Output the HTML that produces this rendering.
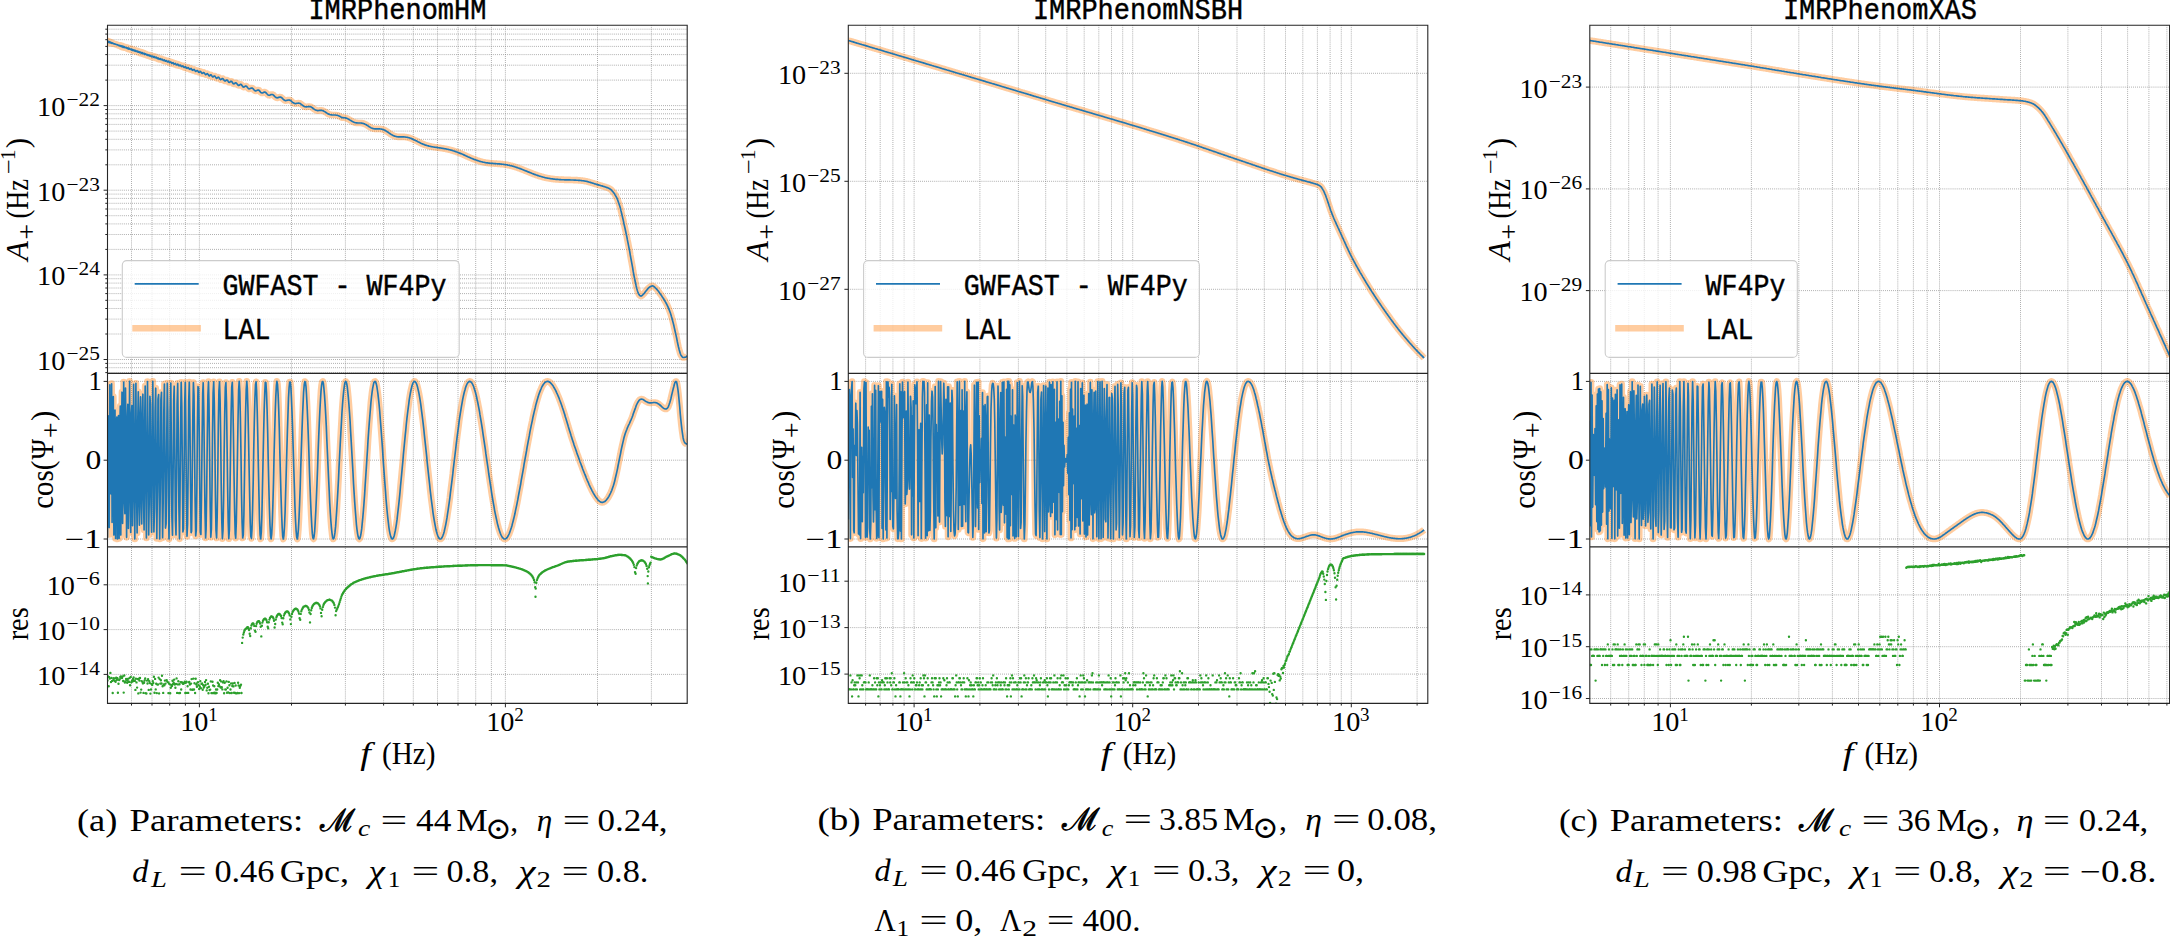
<!DOCTYPE html>
<html><head><meta charset="utf-8"><title>Waveform comparison</title><style>html,body{margin:0;padding:0;background:#fff}svg{display:block}</style></head><body>
<svg width="2170" height="938" viewBox="0 0 2170 938">
<style>text{font-family:'Liberation Serif','DejaVu Serif',serif;fill:#000}.m{font-family:'Liberation Mono','DejaVu Sans Mono',monospace;stroke:#000;stroke-width:.45}.g{stroke:#808080;stroke-width:.8;stroke-dasharray:.78 1.27;fill:none}.lo{stroke:#ff7f0e;stroke-opacity:.4;stroke-width:6.7;fill:none;stroke-linejoin:round;stroke-linecap:butt}.lb{stroke:#1f77b4;stroke-width:1.65;fill:none;stroke-linejoin:round}.d{stroke:#2ca02c;stroke-width:2.4;stroke-linecap:round;fill:none}</style>
<rect width="2170" height="938" fill="#fff"/>
<path d="M131.5,25.3V703.4M152,25.3V703.4M169.7,25.3V703.4M185.4,25.3V703.4M199.4,25.3V703.4M291.5,25.3V703.4M345.4,25.3V703.4M383.6,25.3V703.4M413.3,25.3V703.4M437.5,25.3V703.4M458,25.3V703.4M475.7,25.3V703.4M491.4,25.3V703.4M505.4,25.3V703.4M597.5,25.3V703.4M651.4,25.3V703.4" class="g"/>
<path d="M107.5,372.6H687.2M107.5,367.7H687.2M107.5,363.4H687.2M107.5,359.5H687.2M107.5,334H687.2M107.5,319.1H687.2M107.5,308.5H687.2M107.5,300.3H687.2M107.5,293.6H687.2M107.5,288H687.2M107.5,283.1H687.2M107.5,278.7H687.2M107.5,274.9H687.2M107.5,249.4H687.2M107.5,234.5H687.2M107.5,223.9H687.2M107.5,215.7H687.2M107.5,209H687.2M107.5,203.3H687.2M107.5,198.4H687.2M107.5,194.1H687.2M107.5,190.2H687.2M107.5,164.8H687.2M107.5,149.9H687.2M107.5,139.3H687.2M107.5,131.1H687.2M107.5,124.4H687.2M107.5,118.7H687.2M107.5,113.8H687.2M107.5,109.5H687.2M107.5,105.6H687.2M107.5,80.1H687.2M107.5,65.2H687.2M107.5,54.6H687.2M107.5,46.4H687.2M107.5,39.7H687.2M107.5,34.1H687.2M107.5,29.2H687.2M107.5,381.4H687.2M107.5,460.2H687.2M107.5,539H687.2M107.5,584.8H687.2M107.5,629.6H687.2M107.5,674.4H687.2" class="g"/>
<defs><clipPath id="ca0"><rect x="107.5" y="25.3" width="579.7" height="348.1"/></clipPath><clipPath id="cc0"><rect x="107.5" y="373.4" width="579.7" height="173.5"/></clipPath><clipPath id="cr0"><rect x="107.5" y="546.9" width="579.7" height="156.5"/></clipPath>
<polyline id="a0" points="107.5,41.3 108.1,42.2 108.7,41.4 109.2,42.7 109.8,41.8 110.4,43 111,42.3 111.6,43.3 112.1,42.8 112.7,43.5 113.3,43.3 113.9,43.8 114.5,43.8 115,44.1 115.6,44.3 116.2,44.5 116.8,44.6 117.4,44.9 117.9,45 118.5,45.4 119.1,45.3 119.7,45.9 120.3,45.5 120.8,46.4 121.4,45.8 122,46.9 122.6,46 123.2,47.3 123.7,46.5 124.3,47.6 124.9,47 125.5,47.7 126.1,47.8 126.6,47.7 127.2,48.5 127.8,47.8 128.4,49.1 129,48.2 129.6,49.2 130.1,49 130.7,49.1 131.3,49.9 131.9,49.1 132.5,50.4 133,49.8 133.6,50.2 134.2,50.8 134.8,50.1 135.4,51.3 135.9,50.7 136.5,51.1 137.1,51.8 137.7,51 138.3,52.2 138.8,52 139.4,51.8 140,52.9 140.6,52.1 141.2,52.7 141.7,53.4 142.3,52.6 142.9,53.6 143.5,53.7 144.1,53.2 144.6,54.4 145.2,54 145.8,53.8 146.4,55 147,54.5 147.5,54.5 148.1,55.6 148.7,55 149.3,55.1 149.9,56.2 150.4,55.6 151,55.7 151.6,56.8 152.2,56.2 152.8,56.1 153.3,57.3 153.9,56.9 154.5,56.6 155.1,57.8 155.7,57.7 156.2,57.1 156.8,58.1 157.4,58.6 158,57.8 158.6,58.3 159.1,59.3 159.7,58.7 160.3,58.6 160.9,59.7 161.5,59.7 162,59.1 162.6,59.8 163.2,60.6 163.8,60 164.4,59.9 164.9,61 165.5,61.2 166.1,60.5 166.7,60.9 167.3,61.9 167.8,61.7 168.4,61.1 169,61.9 169.6,62.7 170.2,62.2 170.8,61.9 171.3,62.8 171.9,63.5 172.5,62.9 173.1,62.7 173.7,63.6 174.2,64.2 174.8,63.7 175.4,63.4 176,64.3 176.6,65 177.1,64.6 177.7,64.2 178.3,64.8 178.9,65.7 179.5,65.6 180,65 180.6,65.3 181.2,66.3 181.8,66.6 182.4,66 182.9,65.9 183.5,66.7 184.1,67.5 184.7,67.2 185.3,66.7 185.8,67 186.4,68 187,68.4 187.6,67.9 188.2,67.5 188.7,68.1 189.3,69.1 189.9,69.3 190.5,68.7 191.1,68.4 191.6,69.1 192.2,70.1 192.8,70.3 193.4,69.7 194,69.4 194.5,69.9 195.1,70.8 195.7,71.4 196.3,71.1 196.9,70.5 197.4,70.5 198,71.3 198.6,72.2 199.2,72.4 199.8,71.9 200.3,71.4 200.9,71.8 201.5,72.8 202.1,73.5 202.7,73.3 203.2,72.7 203.8,72.5 204.4,73.1 205,74 205.6,74.6 206.1,74.5 206.7,74 207.3,73.7 207.9,74.1 208.5,75 209,75.8 209.6,75.8 210.2,75.2 210.8,74.8 211.4,75.2 212,76.1 212.5,76.9 213.1,76.9 213.7,76.4 214.3,76 214.9,76.1 215.4,76.9 216,77.8 216.6,78.3 217.2,78 217.8,77.5 218.3,77.2 218.9,77.5 219.5,78.4 220.1,79.2 220.7,79.6 221.2,79.4 221.8,78.9 222.4,78.5 223,78.7 223.6,79.5 224.1,80.4 224.7,80.9 225.3,81 225.9,80.5 226.5,80 227,80 227.6,80.5 228.2,81.4 228.8,82.2 229.4,82.4 229.9,82.1 230.5,81.6 231.1,81.3 231.7,81.6 232.3,82.3 232.8,83.2 233.4,83.8 234,83.9 234.6,83.5 235.2,83 235.7,82.8 236.3,83 236.9,83.7 237.5,84.5 238.1,85.2 238.6,85.5 239.2,85.3 239.8,84.8 240.4,84.4 241,84.4 241.5,84.9 242.1,85.6 242.7,86.5 243.3,87 243.9,87.1 244.4,86.8 245,86.3 245.6,86 246.2,86.1 246.8,86.5 247.3,87.3 247.9,88 248.5,88.6 249.1,88.9 249.7,88.8 250.2,88.6 250.8,88.2 251.4,88 252,88 252.6,88.3 253.2,88.8 253.7,89.5 254.3,90.2 254.9,90.7 255.5,90.9 256.1,90.9 256.6,90.6 257.2,90.2 257.8,90 258.4,90 259,90.3 259.5,90.9 260.1,91.6 260.7,92.3 261.3,92.8 261.9,93 262.4,93 263,92.7 263.6,92.4 264.2,92.1 264.8,92.1 265.3,92.3 265.9,92.7 266.5,93.3 267.1,94 267.7,94.6 268.2,95 268.8,95.2 269.4,95.3 270,95.1 270.6,94.8 271.1,94.6 271.7,94.5 272.3,94.5 272.9,94.7 273.5,95.1 274,95.7 274.6,96.3 275.2,96.9 275.8,97.3 276.4,97.7 276.9,97.8 277.5,97.8 278.1,97.6 278.7,97.4 279.3,97.2 279.8,97.1 280.4,97.1 281,97.3 281.6,97.7 282.2,98.2 282.7,98.7 283.3,99.3 283.9,99.8 284.5,100.2 285.1,100.5 285.6,100.6 286.2,100.5 286.8,100.4 287.4,100.3 288,100.1 288.5,100 289.1,100 289.7,100.1 290.3,100.4 290.9,100.8 291.4,101.2 292,101.8 292.6,102.3 293.2,102.8 293.8,103.1 294.4,103.4 294.9,103.5 295.5,103.6 296.1,103.5 296.7,103.4 297.3,103.3 297.8,103.2 298.4,103.1 299,103.2 299.6,103.3 300.2,103.5 300.7,103.9 301.3,104.3 301.9,104.8 302.5,105.3 303.1,105.7 303.6,106.1 304.2,106.5 304.8,106.7 305.4,106.8 306,106.9 306.5,106.9 307.1,106.8 307.7,106.7 308.3,106.6 308.9,106.6 309.4,106.6 310,106.7 310.6,106.8 311.2,107.1 311.8,107.4 312.3,107.8 312.9,108.2 313.5,108.7 314.1,109.1 314.7,109.5 315.2,109.8 315.8,110.1 316.4,110.3 317,110.5 317.6,110.6 318.1,110.6 318.7,110.5 319.3,110.5 319.9,110.4 320.5,110.4 321,110.4 321.6,110.4 322.2,110.5 322.8,110.7 323.4,110.9 323.9,111.2 324.5,111.5 325.1,111.9 325.7,112.3 326.3,112.6 326.8,113 327.4,113.4 328,113.7 328.6,114.1 329.2,114.3 329.7,114.5 330.3,114.7 330.9,114.8 331.5,114.9 332.1,115 332.6,115 333.2,115 333.8,115 334.4,115 335,115 335.6,115 336.1,115.1 336.7,115.2 337.3,115.3 337.9,115.5 338.5,115.7 339,115.9 339.6,116.2 340.2,116.5 340.8,116.9 341.4,117.2 341.9,117.6 342.5,117.6 343.1,117.6 343.7,117.7 344.3,117.7 344.8,117.8 345.4,117.9 346,118.1 346.6,118.3 347.2,118.5 347.7,118.8 348.3,119 348.9,119.4 349.5,119.7 350.1,120.1 350.6,120.4 351.2,120.8 351.8,121.1 352.4,121.5 353,121.8 353.5,122 354.1,122.3 354.7,122.5 355.3,122.7 355.9,122.8 356.4,122.9 357,122.9 357.6,123 358.2,123 358.8,123 359.3,123 359.9,123 360.5,123 361.1,123 361.7,123.1 362.2,123.2 362.8,123.3 363.4,123.5 364,123.7 364.6,123.9 365.1,124.2 365.7,124.5 366.3,124.8 366.9,125.2 367.5,125.5 368,125.9 368.6,126.3 369.2,126.7 369.8,127 370.4,127.4 370.9,127.7 371.5,128 372.1,128.2 372.7,128.4 373.3,128.6 373.8,128.7 374.4,128.8 375,128.8 375.6,128.9 376.2,128.9 376.8,128.9 377.3,128.9 377.9,128.9 378.5,128.9 379.1,128.9 379.7,128.9 380.2,129 380.8,129 381.4,129.1 382,129.2 382.6,129.4 383.1,129.6 383.7,129.8 384.3,130 384.9,130.3 385.5,130.6 386,131 386.6,131.3 387.2,131.7 387.8,132.1 388.4,132.5 388.9,132.9 389.5,133.3 390.1,133.7 390.7,134.1 391.3,134.5 391.8,134.8 392.4,135.1 393,135.4 393.6,135.7 394.2,135.9 394.7,136.2 395.3,136.3 395.9,136.5 396.5,136.6 397.1,136.7 397.6,136.8 398.2,136.8 398.8,136.9 399.4,136.9 400,136.9 400.5,136.9 401.1,136.9 401.7,136.9 402.3,136.9 402.9,136.9 403.4,136.9 404,136.9 404.6,137 405.2,137 405.8,137.1 406.3,137.2 406.9,137.3 407.5,137.4 408.1,137.5 408.7,137.7 409.2,137.8 409.8,138 410.4,138.2 411,138.4 411.6,138.6 412.1,138.9 412.7,139.1 413.3,139.4 413.9,139.7 414.5,140 415,140.3 415.6,140.6 416.2,140.8 416.8,141.1 417.4,141.4 417.9,141.7 418.5,142 419.1,142.3 419.7,142.6 420.3,142.9 420.9,143.2 421.4,143.4 422,143.7 422.6,143.9 423.2,144.2 423.8,144.4 424.3,144.6 424.9,144.9 425.5,145.1 426.1,145.2 426.7,145.4 427.2,145.6 427.8,145.8 428.4,145.9 429,146.1 429.6,146.2 430.1,146.3 430.7,146.5 431.3,146.6 431.9,146.7 432.5,146.8 433,146.9 433.6,147 434.2,147.1 434.8,147.2 435.4,147.3 435.9,147.4 436.5,147.4 437.1,147.5 437.7,147.6 438.3,147.7 438.8,147.8 439.4,147.9 440,147.9 440.6,148 441.2,148.1 441.7,148.2 442.3,148.3 442.9,148.4 443.5,148.5 444.1,148.6 444.6,148.7 445.2,148.8 445.8,148.9 446.4,149 447,149.2 447.5,149.3 448.1,149.4 448.7,149.5 449.3,149.7 449.9,149.8 450.4,150 451,150.1 451.6,150.3 452.2,150.5 452.8,150.6 453.3,150.8 453.9,151 454.5,151.2 455.1,151.4 455.7,151.6 456.2,151.8 456.8,152 457.4,152.2 458,152.4 458.6,152.7 459.1,152.9 459.7,153.1 460.3,153.4 460.9,153.6 461.5,153.8 462.1,154.1 462.6,154.3 463.2,154.6 463.8,154.9 464.4,155.1 465,155.4 465.5,155.6 466.1,155.9 466.7,156.2 467.3,156.4 467.9,156.7 468.4,156.9 469,157.2 469.6,157.4 470.2,157.7 470.8,158 471.3,158.2 471.9,158.4 472.5,158.7 473.1,158.9 473.7,159.2 474.2,159.4 474.8,159.6 475.4,159.8 476,160 476.6,160.2 477.1,160.4 477.7,160.6 478.3,160.8 478.9,161 479.5,161.2 480,161.4 480.6,161.5 481.2,161.7 481.8,161.8 482.4,162 482.9,162.1 483.5,162.2 484.1,162.3 484.7,162.5 485.3,162.6 485.8,162.7 486.4,162.8 487,162.8 487.6,162.9 488.2,163 488.7,163.1 489.3,163.1 489.9,163.2 490.5,163.3 491.1,163.3 491.6,163.4 492.2,163.4 492.8,163.4 493.4,163.5 494,163.5 494.5,163.6 495.1,163.6 495.7,163.6 496.3,163.7 496.9,163.7 497.4,163.8 498,163.8 498.6,163.9 499.2,163.9 499.8,163.9 500.3,164 500.9,164.1 501.5,164.1 502.1,164.2 502.7,164.2 503.3,164.3 503.8,164.4 504.4,164.5 505,164.6 505.6,164.6 506.2,164.7 506.7,164.8 507.3,164.9 507.9,165.1 508.5,165.2 509.1,165.3 509.6,165.4 510.2,165.6 510.8,165.7 511.4,165.8 512,166 512.5,166.1 513.1,166.3 513.7,166.5 514.3,166.6 514.9,166.8 515.4,167 516,167.2 516.6,167.4 517.2,167.6 517.8,167.8 518.3,168 518.9,168.2 519.5,168.4 520.1,168.6 520.7,168.8 521.2,169.1 521.8,169.3 522.4,169.5 523,169.7 523.6,170 524.1,170.2 524.7,170.4 525.3,170.7 525.9,170.9 526.5,171.1 527,171.4 527.6,171.6 528.2,171.9 528.8,172.1 529.4,172.3 529.9,172.6 530.5,172.8 531.1,173 531.7,173.3 532.3,173.5 532.8,173.7 533.4,173.9 534,174.2 534.6,174.4 535.2,174.6 535.7,174.8 536.3,175 536.9,175.2 537.5,175.4 538.1,175.6 538.6,175.8 539.2,176 539.8,176.2 540.4,176.3 541,176.5 541.5,176.7 542.1,176.8 542.7,177 543.3,177.2 543.9,177.3 544.5,177.5 545,177.6 545.6,177.7 546.2,177.9 546.8,178 547.4,178.1 547.9,178.2 548.5,178.3 549.1,178.4 549.7,178.5 550.3,178.6 550.8,178.7 551.4,178.8 552,178.9 552.6,178.9 553.2,179 553.7,179.1 554.3,179.1 554.9,179.2 555.5,179.3 556.1,179.3 556.6,179.4 557.2,179.4 557.8,179.4 558.4,179.5 559,179.5 559.5,179.6 560.1,179.6 560.7,179.6 561.3,179.7 561.9,179.7 562.4,179.7 563,179.7 563.6,179.7 564.2,179.8 564.8,179.8 565.3,179.8 565.9,179.8 566.5,179.8 567.1,179.9 567.7,179.9 568.2,179.9 568.8,179.9 569.4,179.9 570,179.9 570.6,180 571.1,180 571.7,180 572.3,180 572.9,180 573.5,180 574,180.1 574.6,180.1 575.2,180.1 575.8,180.1 576.4,180.2 576.9,180.2 577.5,180.2 578.1,180.3 578.7,180.3 579.3,180.4 579.8,180.4 580.4,180.5 581,180.5 581.6,180.6 582.2,180.7 582.7,180.7 583.3,180.8 583.9,180.9 584.5,181 585.1,181.1 585.7,181.2 586.2,181.3 586.8,181.4 587.4,181.6 588,181.8 588.6,181.9 589.1,182.1 589.7,182.3 590.3,182.4 590.9,182.6 591.5,182.8 592,183 592.6,183.1 593.2,183.3 593.8,183.5 594.4,183.7 594.9,183.9 595.5,184 596.1,184.2 596.7,184.4 597.3,184.6 597.8,184.7 598.4,184.9 599,185.1 599.6,185.3 600.2,185.4 600.7,185.6 601.3,185.8 601.9,185.9 602.5,186.1 603.1,186.3 603.6,186.5 604.2,186.6 604.8,186.8 605.4,187 606,187.2 606.5,187.4 607.1,187.6 607.7,187.8 608.3,188.1 608.9,188.3 609.4,188.6 610,189 610.6,189.4 611.2,189.9 611.8,190.4 612.3,191.1 612.9,191.8 613.5,192.5 614.1,193.3 614.7,194.1 615.2,195.1 615.8,196.1 616.4,197.2 617,198.4 617.6,199.8 618.1,201.3 618.7,203 619.3,204.8 619.9,206.6 620.5,208.6 621,210.9 621.6,213.3 622.2,215.8 622.8,218.4 623.4,220.9 623.9,223.5 624.5,226.1 625.1,228.8 625.7,231.5 626.3,234.3 626.9,237.1 627.4,239.9 628,242.8 628.6,245.8 629.2,248.8 629.8,251.9 630.3,255.1 630.9,258.4 631.5,261.7 632.1,264.9 632.7,268.2 633.2,271.4 633.8,274.6 634.4,277.7 635,280.5 635.6,283.2 636.1,285.7 636.7,288.2 637.3,290.4 637.9,292.1 638.5,293.6 639,294.6 639.6,295.3 640.2,295.8 640.8,296.1 641.4,296 641.9,295.6 642.5,295.1 643.1,294.5 643.7,293.9 644.3,293.2 644.8,292.5 645.4,291.7 646,291 646.6,290.3 647.2,289.6 647.7,288.9 648.3,288.2 648.9,287.7 649.5,287.2 650.1,286.8 650.6,286.5 651.2,286.2 651.8,286 652.4,285.9 653,286 653.5,286.3 654.1,286.7 654.7,287.2 655.3,287.8 655.9,288.4 656.4,288.9 657,289.6 657.6,290.3 658.2,291 658.8,291.8 659.3,292.6 659.9,293.4 660.5,294.2 661.1,295 661.7,295.9 662.2,296.7 662.8,297.6 663.4,298.5 664,299.5 664.6,300.4 665.1,301.4 665.7,302.4 666.3,303.5 666.9,304.6 667.5,305.8 668.1,307.1 668.6,308.4 669.2,309.9 669.8,311.4 670.4,313.1 671,314.9 671.5,316.8 672.1,318.8 672.7,321.1 673.3,323.4 673.9,325.8 674.4,328.2 675,330.8 675.6,333.4 676.2,336.1 676.8,338.8 677.3,341.5 677.9,344.3 678.5,347 679.1,349.4 679.7,351.4 680.2,353.2 680.8,354.8 681.4,355.8 682,356.6 682.6,357.3 683.1,357.5 683.7,357.5 684.3,357.4 684.9,357.3 685.5,357.2 686,356.9 686.6,356.5 687.2,356"/><polyline id="c0" points="107.5,537.7 108.1,415.7 108.7,444.2 109.2,527.6 109.8,384.7 110.4,492.8 111,494 111.6,383.7 112.1,522.4 112.7,460.7 113.3,396.6 113.9,535.1 114.5,437.8 115,410 115.6,538.5 116.2,426.2 116.8,417.1 117.4,538.9 117.9,424.7 118.5,415.5 119.1,538.5 119.7,432.7 120.3,406.1 120.8,535.1 121.4,451.2 122,392.2 122.6,523.4 123.2,480 123.7,382 124.3,496.5 124.9,513.7 125.5,388 126.1,452.7 126.6,537.3 127.2,422.2 127.8,404.3 128.4,528.5 129,481.2 129.6,381.4 130.1,475.7 130.7,532.4 131.3,414.7 131.9,405.6 132.5,525.7 133,492.6 133.6,384.3 134.2,449.9 134.8,539 135.4,451.2 135.9,383.3 136.5,484.4 137.1,533 137.7,425 138.3,391.8 138.8,502.5 139.4,525.2 140,414 140.6,396.9 141.2,507.2 141.7,523.9 142.3,415.1 142.9,394.2 143.5,500.4 144.1,530 144.6,428.2 145.2,386 145.8,480.4 146.4,537.9 147,455.6 147.5,381.5 148.1,445.7 148.7,535 149.3,495.7 149.9,396.2 150.4,404.2 151,505 151.6,532.2 152.2,442.9 152.8,381.4 153.3,444.6 153.9,532 154.5,508.4 155.1,411.3 155.7,388.2 156.2,472.4 156.8,538.5 157.4,490.6 158,399.2 158.6,394.6 159.1,481.9 159.7,538.9 160.3,488.1 160.9,399.7 161.5,392.3 162,474.4 162.6,537.8 163.2,501.1 163.8,412.6 164.4,384.1 164.9,450 165.5,528.1 166.1,523.9 166.7,443.6 167.3,383.2 167.8,412.6 168.4,496.7 169,539 169.6,492.8 170.2,410.7 170.8,383.1 171.3,438.8 171.9,517.1 172.5,535.2 173.1,475.2 173.7,400.1 174.2,386.2 174.8,446.4 175.4,520 176,535 176.6,477.9 177.1,404.3 177.7,383.4 178.3,433.8 178.9,508.1 179.5,538.8 180,499.3 180.6,425.5 181.2,382.3 181.8,406 182.4,475.6 182.9,531.9 183.5,528.8 184.1,469.9 184.7,403.4 185.3,382.3 185.8,422.3 186.4,491.4 187,536.3 187.6,523.7 188.2,463.9 188.7,401.7 189.3,382.2 189.9,418.5 190.5,484 191.1,532.6 191.6,531.2 192.2,481.6 192.8,418 193.4,382.5 194,395.3 194.5,443.6 195.1,500.8 195.7,536 196.3,530.1 196.9,486 197.4,427.3 198,386.7 198.6,387.9 199.2,430.4 199.8,489.7 200.3,532.1 200.9,534.5 201.5,496.2 202.1,438.8 202.7,393.1 203.2,382.7 203.8,411.5 204.4,463.1 205,512.5 205.6,537.9 206.1,529.1 206.7,490.2 207.3,438.2 207.9,395.5 208.5,381.7 209,404.4 209.6,454.3 210.2,507.4 210.8,537.2 211.4,529.3 212,488.1 212.5,434.4 213.1,393.4 213.7,381.8 214.3,402.7 214.9,446.6 215.4,495.6 216,530.4 216.6,538 217.2,516 217.8,473.2 218.3,425.9 218.9,391.4 219.5,381.8 220.1,399.9 220.7,438.6 221.2,484.3 221.8,521.6 222.4,538.6 223,530.2 223.6,499.6 224.1,456.6 224.7,414.9 225.3,387.4 225.9,382.6 226.5,402.2 227,440.5 227.6,485.4 228.2,522.2 228.8,538.7 229.4,529.7 229.9,498.3 230.5,455.2 231.1,414.1 231.7,387.4 232.3,382.3 232.8,399.1 233.4,432.7 234,473.4 234.6,510.3 235.2,533.8 235.7,538.1 236.3,522.6 236.9,491.4 237.5,452.7 238.1,416 238.6,390.2 239.2,381.4 239.8,391.7 240.4,418.5 241,455.3 241.5,493.2 242.1,523.1 242.7,538 243.3,534.8 243.9,514.5 244.4,482.3 245,445.7 245.6,412.7 246.2,389.9 246.8,381.4 247.3,388 247.9,407.5 248.5,436 249.1,468.1 249.7,498.5 250.2,522.3 250.8,536.2 251.4,538.4 252,528.6 252.6,508.7 253.2,481.7 253.7,451.5 254.3,422.5 254.9,399 255.5,384.7 256.1,381.8 256.6,390.9 257.2,410.5 257.8,437.5 258.4,467.7 259,496.7 259.5,520.1 260.1,534.9 260.7,538.9 261.3,531.9 261.9,515 262.4,490.8 263,462.7 263.6,434.4 264.2,409.7 264.8,391.7 265.3,382.4 265.9,382.8 266.5,392.6 267.1,410.2 267.7,433.3 268.2,459.2 268.8,484.9 269.4,507.6 270,525.2 270.6,536 271.1,538.9 271.7,534.1 272.3,522 272.9,504.1 273.5,482.2 274,458.2 274.6,434.6 275.2,413.5 275.8,396.7 276.4,385.7 276.9,381.4 277.5,384.3 278.1,393.8 278.7,409 279.3,428.6 279.8,450.7 280.4,473.4 281,494.9 281.6,513.5 282.2,527.6 282.7,536.3 283.3,539 283.9,535.5 284.5,526.3 285.1,512 285.6,494 286.2,473.6 286.8,452.3 287.4,431.6 288,413.2 288.5,398.1 289.1,387.5 289.7,382.1 290.3,382.1 290.9,387.4 291.4,397.6 292,411.9 292.6,429.3 293.2,448.6 293.8,468.5 294.4,487.8 294.9,505.2 295.5,519.8 296.1,530.6 296.7,537.1 297.3,539 297.8,536.2 298.4,529.1 299,518.1 299.6,503.8 300.2,487.2 300.7,469.2 301.3,450.9 301.9,433.1 302.5,416.9 303.1,403.1 303.6,392.3 304.2,385 304.8,381.6 305.4,382.2 306,386.7 306.5,394.8 307.1,406 307.7,419.9 308.3,435.6 308.9,452.5 309.4,469.6 310,486.2 310.6,501.5 311.2,514.9 311.8,525.7 312.3,533.4 312.9,537.9 313.5,538.9 314.1,536.5 314.7,530.8 315.2,522.2 315.8,511 316.4,497.8 317,483.2 317.6,467.8 318.1,452.2 318.7,437 319.3,422.8 319.9,410.2 320.5,399.5 321,391.1 321.6,385.2 322.2,382 322.8,381.5 323.4,383.7 323.9,388.3 324.5,395.2 325.1,404.1 325.7,414.6 326.3,426.4 326.8,439.1 327.4,452.3 328,465.6 328.6,478.6 329.2,491 329.7,502.5 330.3,512.7 330.9,521.5 331.5,528.6 332.1,534 332.6,537.4 333.2,538.9 333.8,538.5 334.4,536.2 335,532.2 335.6,526.4 336.1,519.2 336.7,510.6 337.3,501 337.9,490.5 338.5,479.4 339,467.9 339.6,456.3 340.2,444.8 340.8,433.7 341.4,423.2 341.9,413.5 342.5,404.8 343.1,397.3 343.7,391.1 344.3,386.4 344.8,383.2 345.4,381.6 346,381.6 346.6,383.2 347.2,386.4 347.7,391 348.3,396.9 348.9,404.1 349.5,412.3 350.1,421.3 350.6,431.1 351.2,441.3 351.8,451.8 352.4,462.4 353,472.9 353.5,483.1 354.1,492.8 354.7,502 355.3,510.3 355.9,517.8 356.4,524.3 357,529.6 357.6,533.8 358.2,536.8 358.8,538.5 359.3,539 359.9,538.2 360.5,536.3 361.1,533.1 361.7,528.9 362.2,523.7 362.8,517.6 363.4,510.7 364,503 364.6,494.8 365.1,486.2 365.7,477.2 366.3,468.1 366.9,458.8 367.5,449.7 368,440.8 368.6,432.1 369.2,423.9 369.8,416.2 370.4,409.1 370.9,402.6 371.5,397 372.1,392.1 372.7,388.2 373.3,385.1 373.8,382.9 374.4,381.7 375,381.4 375.6,382.1 376.2,383.6 376.8,386.1 377.3,389.5 377.9,393.7 378.5,398.8 379.1,404.5 379.7,411 380.2,418 380.8,425.6 381.4,433.5 382,441.7 382.6,450.1 383.1,458.6 383.7,467.1 384.3,475.4 384.9,483.5 385.5,491.3 386,498.7 386.6,505.6 387.2,512 387.8,517.8 388.4,522.9 388.9,527.3 389.5,531.1 390.1,534.1 390.7,536.4 391.3,537.9 391.8,538.8 392.4,539 393,538.5 393.6,537.5 394.2,535.8 394.7,533.5 395.3,530.7 395.9,527.3 396.5,523.5 397.1,519.2 397.6,514.5 398.2,509.4 398.8,504 399.4,498.3 400,492.4 400.5,486.3 401.1,480 401.7,473.7 402.3,467.2 402.9,460.8 403.4,454.4 404,448.1 404.6,441.8 405.2,435.7 405.8,429.9 406.3,424.2 406.9,418.7 407.5,413.6 408.1,408.8 408.7,404.3 409.2,400.1 409.8,396.4 410.4,393 411,390 411.6,387.5 412.1,385.4 412.7,383.7 413.3,382.5 413.9,381.7 414.5,381.4 415,381.5 415.6,382.1 416.2,383.1 416.8,384.5 417.4,386.4 417.9,388.6 418.5,391.2 419.1,394.2 419.7,397.6 420.3,401.3 420.9,405.3 421.4,409.6 422,414.1 422.6,418.9 423.2,423.9 423.8,429.1 424.3,434.4 424.9,439.8 425.5,445.3 426.1,450.9 426.7,456.6 427.2,462.2 427.8,467.8 428.4,473.3 429,478.8 429.6,484.1 430.1,489.3 430.7,494.4 431.3,499.3 431.9,503.9 432.5,508.4 433,512.6 433.6,516.5 434.2,520.1 434.8,523.5 435.4,526.6 435.9,529.3 436.5,531.7 437.1,533.8 437.7,535.5 438.3,536.9 438.8,537.9 439.4,538.6 440,539 440.6,539 441.2,538.6 441.7,538 442.3,536.9 442.9,535.6 443.5,533.9 444.1,532 444.6,529.7 445.2,527.1 445.8,524.3 446.4,521.1 447,517.7 447.5,514.1 448.1,510.3 448.7,506.2 449.3,502 449.9,497.6 450.4,493.1 451,488.4 451.6,483.6 452.2,478.8 452.8,473.9 453.3,468.9 453.9,464 454.5,459 455.1,454 455.7,449.1 456.2,444.3 456.8,439.5 457.4,434.8 458,430.3 458.6,425.8 459.1,421.6 459.7,417.4 460.3,413.5 460.9,409.8 461.5,406.2 462.1,402.9 462.6,399.8 463.2,396.9 463.8,394.2 464.4,391.8 465,389.7 465.5,387.7 466.1,386.1 466.7,384.7 467.3,383.5 467.9,382.6 468.4,382 469,381.6 469.6,381.4 470.2,381.5 470.8,381.8 471.3,382.3 471.9,383.1 472.5,384.1 473.1,385.3 473.7,386.8 474.2,388.4 474.8,390.3 475.4,392.3 476,394.5 476.6,397 477.1,399.6 477.7,402.3 478.3,405.3 478.9,408.3 479.5,411.5 480,414.9 480.6,418.3 481.2,421.9 481.8,425.6 482.4,429.4 482.9,433.2 483.5,437.1 484.1,441.1 484.7,445.1 485.3,449.1 485.8,453.2 486.4,457.3 487,461.3 487.6,465.4 488.2,469.5 488.7,473.5 489.3,477.4 489.9,481.4 490.5,485.2 491.1,489 491.6,492.7 492.2,496.4 492.8,499.9 493.4,503.3 494,506.6 494.5,509.8 495.1,512.8 495.7,515.7 496.3,518.5 496.9,521.1 497.4,523.6 498,525.8 498.6,528 499.2,529.9 499.8,531.7 500.3,533.2 500.9,534.6 501.5,535.8 502.1,536.9 502.7,537.7 503.3,538.3 503.8,538.7 504.4,539 505,539 505.6,538.8 506.2,538.5 506.7,537.9 507.3,537.2 507.9,536.3 508.5,535.2 509.1,534 509.6,532.6 510.2,531 510.8,529.3 511.4,527.5 512,525.5 512.5,523.4 513.1,521.2 513.7,518.8 514.3,516.4 514.9,513.8 515.4,511.1 516,508.4 516.6,505.6 517.2,502.7 517.8,499.7 518.3,496.6 518.9,493.5 519.5,490.4 520.1,487.2 520.7,484 521.2,480.7 521.8,477.4 522.4,474.1 523,470.8 523.6,467.5 524.1,464.2 524.7,460.9 525.3,457.6 525.9,454.3 526.5,451 527,447.8 527.6,444.6 528.2,441.4 528.8,438.3 529.4,435.2 529.9,432.1 530.5,429.2 531.1,426.2 531.7,423.4 532.3,420.6 532.8,417.9 533.4,415.2 534,412.6 534.6,410.1 535.2,407.7 535.7,405.4 536.3,403.2 536.9,401.1 537.5,399 538.1,397.1 538.6,395.3 539.2,393.5 539.8,391.9 540.4,390.4 541,389 541.5,387.7 542.1,386.5 542.7,385.5 543.3,384.5 543.9,383.7 544.5,383 545,382.4 545.6,382 546.2,381.7 546.8,381.5 547.4,381.4 547.9,381.4 548.5,381.6 549.1,381.8 549.7,382.2 550.3,382.6 550.8,383.2 551.4,383.8 552,384.5 552.6,385.3 553.2,386.1 553.7,387 554.3,388 554.9,389.1 555.5,390.2 556.1,391.4 556.6,392.6 557.2,393.8 557.8,395.2 558.4,396.6 559,398 559.5,399.5 560.1,401 560.7,402.6 561.3,404.2 561.9,405.9 562.4,407.6 563,409.3 563.6,411.1 564.2,413 564.8,414.8 565.3,416.7 565.9,418.6 566.5,420.5 567.1,422.5 567.7,424.4 568.2,426.3 568.8,428.3 569.4,430.2 570,432.1 570.6,433.9 571.1,435.8 571.7,437.6 572.3,439.4 572.9,441.2 573.5,442.9 574,444.7 574.6,446.4 575.2,448.1 575.8,449.8 576.4,451.4 576.9,453.1 577.5,454.7 578.1,456.3 578.7,458 579.3,459.6 579.8,461.2 580.4,462.7 581,464.3 581.6,465.9 582.2,467.4 582.7,469 583.3,470.5 583.9,472 584.5,473.5 585.1,474.9 585.7,476.4 586.2,477.8 586.8,479.2 587.4,480.6 588,481.9 588.6,483.3 589.1,484.6 589.7,485.8 590.3,487.1 590.9,488.3 591.5,489.5 592,490.6 592.6,491.7 593.2,492.8 593.8,493.8 594.4,494.8 594.9,495.7 595.5,496.6 596.1,497.5 596.7,498.3 597.3,499 597.8,499.7 598.4,500.4 599,500.9 599.6,501.4 600.2,501.8 600.7,502.1 601.3,502.3 601.9,502.4 602.5,502.4 603.1,502.3 603.6,502.1 604.2,501.8 604.8,501.5 605.4,501 606,500.4 606.5,499.8 607.1,499 607.7,498.2 608.3,497.3 608.9,496.3 609.4,495.3 610,494.2 610.6,493 611.2,491.7 611.8,490.2 612.3,488.7 612.9,487 613.5,485.2 614.1,483.2 614.7,481.1 615.2,478.8 615.8,476.3 616.4,473.7 617,471.1 617.6,468.3 618.1,465.5 618.7,462.6 619.3,459.7 619.9,456.7 620.5,453.8 621,451 621.6,448.2 622.2,445.5 622.8,442.9 623.4,440.4 623.9,438.1 624.5,436 625.1,434.1 625.7,432.3 626.3,430.7 626.9,429.2 627.4,427.8 628,426.5 628.6,425.2 629.2,424 629.8,422.7 630.3,421.4 630.9,420.1 631.5,418.7 632.1,417.3 632.7,415.7 633.2,414 633.8,412.4 634.4,410.7 635,409.1 635.6,407.5 636.1,405.9 636.7,404.5 637.3,403.3 637.9,402.2 638.5,401.3 639,400.5 639.6,399.9 640.2,399.5 640.8,399.2 641.4,399.1 641.9,399.2 642.5,399.3 643.1,399.6 643.7,399.9 644.3,400.3 644.8,400.7 645.4,401.1 646,401.5 646.6,401.8 647.2,402.1 647.7,402.4 648.3,402.6 648.9,402.8 649.5,402.9 650.1,402.9 650.6,402.9 651.2,402.9 651.8,402.8 652.4,402.7 653,402.6 653.5,402.5 654.1,402.5 654.7,402.5 655.3,402.6 655.9,402.7 656.4,402.8 657,403.1 657.6,403.4 658.2,403.7 658.8,404.1 659.3,404.5 659.9,405 660.5,405.5 661.1,406 661.7,406.6 662.2,407.1 662.8,407.6 663.4,408.1 664,408.5 664.6,408.8 665.1,408.9 665.7,409 666.3,408.9 666.9,408.6 667.5,408 668.1,407.1 668.6,405.9 669.2,404.3 669.8,402.5 670.4,400.4 671,398.2 671.5,395.8 672.1,393.4 672.7,390.9 673.3,388.5 673.9,386.3 674.4,384.2 675,382.5 675.6,381.5 676.2,381.6 676.8,382.9 677.3,385.5 677.9,389.4 678.5,394.4 679.1,400.3 679.7,406.6 680.2,413.1 680.8,419.3 681.4,425.1 682,430.2 682.6,434.4 683.1,437.7 683.7,440.2 684.3,441.8 684.9,442.9 685.5,443.4 686,443.7 686.6,443.9 687.2,444.3"/></defs>
<g clip-path="url(#ca0)"><use href="#a0" class="lo"/><use href="#a0" class="lb"/></g>
<g clip-path="url(#cc0)"><use href="#c0" class="lo"/><use href="#c0" class="lb"/></g>
<path clip-path="url(#cr0)" d="M107.5,680.5h0M108.1,676.5h0M108.7,686.2h0M109.2,677.3h0M109.8,678.6h0M110.4,672.9h0M111,682h0M111.6,677.9h0M112.1,680.9h0M112.7,693h0M113.3,680.3h0M113.9,678.2h0M114.5,678.5h0M115,681.1h0M115.6,681.7h0M116.2,677.8h0M116.8,679.9h0M117.4,678.2h0M117.9,692.8h0M118.5,683.8h0M119.1,680.1h0M119.7,679.3h0M120.3,677h0M120.8,676.5h0M121.4,677.5h0M122,678h0M122.6,676.4h0M123.2,681h0M123.7,692.6h0M124.3,675.5h0M124.9,682.6h0M125.5,681.3h0M126.1,679h0M126.6,679.8h0M127.2,682.7h0M127.8,679h0M128.4,681.1h0M129,681.9h0M129.6,678h0M130.1,685.3h0M130.7,676.9h0M131.3,682.2h0M131.9,680.9h0M132.5,681.5h0M133,679h0M133.6,677.4h0M134.2,680.7h0M134.8,680.7h0M135.4,689.9h0M135.9,678.6h0M136.5,682.4h0M137.1,687.6h0M137.7,679.1h0M138.3,693.4h0M138.8,678.7h0M139.4,680.5h0M140,677.9h0M140.6,692.6h0M141.2,689.6h0M141.7,681.1h0M142.3,681.7h0M142.9,683.4h0M143.5,692.9h0M144.1,682.7h0M144.6,680.4h0M145.2,678.5h0M145.8,693.3h0M146.4,693.5h0M147,680.6h0M147.5,683.5h0M148.1,679.3h0M148.7,689.9h0M149.3,681.3h0M149.9,683.1h0M150.4,693.6h0M151,689.5h0M151.6,684h0M152.2,684.9h0M152.8,681.1h0M153.3,683h0M153.9,676.7h0M154.5,692.8h0M155.1,678.9h0M155.7,689.4h0M156.2,683.8h0M156.8,693.1h0M157.4,684.6h0M158,684.5h0M158.6,677.6h0M159.1,693.4h0M159.7,679.1h0M160.3,683.6h0M160.9,680.3h0M161.5,683.5h0M162,675.8h0M162.6,686.2h0M163.2,692.9h0M163.8,684.5h0M164.4,685.2h0M164.9,680.6h0M165.5,683.6h0M166.1,680.4h0M166.7,680.1h0M167.3,681.6h0M167.8,682.1h0M168.4,693.1h0M169,683.4h0M169.6,684.1h0M170.2,693.2h0M170.8,687.7h0M171.3,685h0M171.9,686h0M172.5,680.7h0M173.1,684h0M173.7,682.7h0M174.2,679.6h0M174.8,684.6h0M175.4,687.8h0M176,683.9h0M176.6,678.4h0M177.1,692.9h0M177.7,684.4h0M178.3,681.3h0M178.9,693.1h0M179.5,684.3h0M180,693h0M180.6,682.1h0M181.2,689.5h0M181.8,682.1h0M182.4,683h0M182.9,683.7h0M183.5,683.8h0M184.1,682.9h0M184.7,681.7h0M185.3,693h0M185.8,682.7h0M186.4,681.7h0M187,692.9h0M187.6,686.2h0M188.2,692.9h0M188.7,682.2h0M189.3,682h0M189.9,684.5h0M190.5,689.5h0M191.1,683.6h0M191.6,679.1h0M192.2,689.7h0M192.8,689.8h0M193.4,678.6h0M194,689.5h0M194.5,683.2h0M195.1,693h0M195.7,678.7h0M196.3,684.4h0M196.9,686.7h0M197.4,682.6h0M198,682.3h0M198.6,685.1h0M199.2,689h0M199.8,686.5h0M200.3,681.3h0M200.9,688.1h0M201.5,683.9h0M202.1,683.4h0M202.7,689.7h0M203.2,685.2h0M203.8,687.6h0M204.4,686.4h0M205,681.9h0M205.6,684.7h0M206.1,680.1h0M206.7,690.4h0M207.3,687.8h0M207.9,683.7h0M208.5,693.2h0M209,686.8h0M209.6,690h0M210.2,689.6h0M210.8,681.4h0M211.4,693.1h0M212,693.1h0M212.5,681.7h0M213.1,685.5h0M213.7,693h0M214.3,686.3h0M214.9,692.8h0M215.4,693.4h0M216,689.5h0M216.6,693h0M217.2,689.5h0M217.8,682.8h0M218.3,686.1h0M218.9,684.3h0M219.5,686.2h0M220.1,680.2h0M220.7,687.5h0M221.2,681.4h0M221.8,687.3h0M222.4,689.4h0M223,682.4h0M223.6,681.2h0M224.1,693.2h0M224.7,682.8h0M225.3,689.5h0M225.9,689.6h0M226.5,681.4h0M227,692.8h0M227.6,687.8h0M228.2,692.5h0M228.8,681.9h0M229.4,685.2h0M229.9,693.1h0M230.5,689.5h0M231.1,683.4h0M231.7,693h0M232.3,686h0M232.8,683.5h0M233.4,686.4h0M234,692.8h0M234.6,682.9h0M235.2,693h0M235.7,685.5h0M236.3,693.4h0M236.9,693.2h0M237.5,693h0M238.1,682.8h0M238.6,685.5h0M239.2,693.1h0M239.8,687.7h0M240.4,685.7h0M241,684.8h0M241.5,693h0M242.1,642.9h0M242.7,637.6h0M243.3,634.5h0M243.9,632.4h0M244.4,630.8h0M245,629.7h0M245.6,629h0M246.2,628.5h0M246.8,627.9h0M247.3,627.3h0M247.9,627.1h0M248.5,628.2h0M249.1,630h0M249.7,633.8h0M250.2,636h0M250.8,628.2h0M251.4,625.5h0M252,624.1h0M252.6,623.4h0M253.2,623.4h0M253.7,624.1h0M254.3,625.9h0M254.9,630.6h0M255.5,631.8h0M256.1,626.1h0M256.6,623.7h0M257.2,622.2h0M257.8,621.4h0M258.4,621.1h0M259,621.3h0M259.5,622h0M260.1,623.5h0M260.7,626.7h0M261.3,636.4h0M261.9,625.7h0M262.4,622.6h0M263,620.8h0M263.6,619.7h0M264.2,619h0M264.8,618.7h0M265.3,618.8h0M265.9,619.3h0M266.5,620.3h0M267.1,622.2h0M267.7,626.7h0M268.2,628.3h0M268.8,622.2h0M269.4,619.6h0M270,618h0M270.6,617.1h0M271.1,616.5h0M271.7,616.4h0M272.3,616.6h0M272.9,617.2h0M273.5,618.4h0M274,620.7h0M274.6,627.5h0M275.2,624h0M275.8,619.6h0M276.4,617.3h0M276.9,615.9h0M277.5,614.9h0M278.1,614.3h0M278.7,614h0M279.3,614h0M279.8,614.3h0M280.4,614.9h0M281,616h0M281.6,618h0M282.2,622.6h0M282.7,624.3h0M283.3,618.3h0M283.9,615.6h0M284.5,614h0M285.1,612.9h0M285.6,612.2h0M286.2,611.7h0M286.8,611.5h0M287.4,611.5h0M288,611.8h0M288.5,612.4h0M289.1,613.5h0M289.7,615.4h0M290.3,619.4h0M290.9,624.1h0M291.4,616.7h0M292,613.9h0M292.6,612.1h0M293.2,610.9h0M293.8,610h0M294.4,609.4h0M294.9,609h0M295.5,608.8h0M296.1,608.8h0M296.7,609h0M297.3,609.5h0M297.8,610.2h0M298.4,611.4h0M299,613.5h0M299.6,618.3h0M300.2,619.8h0M300.7,613.9h0M301.3,611.3h0M301.9,609.6h0M302.5,608.4h0M303.1,607.5h0M303.6,606.8h0M304.2,606.4h0M304.8,606.1h0M305.4,605.9h0M306,605.9h0M306.5,606.1h0M307.1,606.5h0M307.7,607.1h0M308.3,608.1h0M308.9,609.7h0M309.4,612.5h0M310,622.4h0M310.6,614h0M311.2,610.2h0M311.8,608h0M312.3,606.5h0M312.9,605.4h0M313.5,604.6h0M314.1,604h0M314.7,603.5h0M315.2,603.2h0M315.8,603h0M316.4,602.9h0M317,603h0M317.6,603.2h0M318.1,603.5h0M318.7,604.1h0M319.3,605h0M319.9,606.3h0M320.5,608.4h0M321,612.9h0M321.6,616.2h0M322.2,609.8h0M322.8,607.1h0M323.4,605.3h0M323.9,604h0M324.5,603h0M325.1,602.2h0M325.7,601.6h0M326.3,601.1h0M326.8,600.6h0M327.4,600.3h0M328,600.1h0M328.6,599.9h0M329.2,599.8h0M329.7,599.8h0M330.3,599.9h0M330.9,600.1h0M331.5,600.4h0M332.1,600.8h0M332.6,601.4h0M333.2,602.2h0M333.8,603.3h0M334.4,604.9h0M335,607.6h0M335.6,615.2h0M336.1,611.1h0M336.7,609.8h0M337.3,608.5h0M337.9,607.1h0M338.5,605.6h0M339,604.1h0M339.6,602.3h0M340.2,600.3h0M340.8,598.4h0M341.4,596.6h0M341.9,595.1h0M342.5,593.9h0M343.1,592.9h0M343.7,592h0M344.3,591.1h0M344.8,590.3h0M345.4,589.6h0M346,588.9h0M346.6,588.3h0M347.2,587.7h0M347.7,587.2h0M348.3,586.7h0M348.9,586.2h0M349.5,585.7h0M350.1,585.2h0M350.6,584.8h0M351.2,584.3h0M351.8,583.9h0M352.4,583.6h0M353,583.2h0M353.5,582.8h0M354.1,582.5h0M354.7,582.2h0M355.3,581.9h0M355.9,581.7h0M356.4,581.4h0M357,581.2h0M357.6,580.9h0M358.2,580.7h0M358.8,580.5h0M359.3,580.3h0M359.9,580.1h0M360.5,579.9h0M361.1,579.7h0M361.7,579.5h0M362.2,579.3h0M362.8,579.1h0M363.4,579h0M364,578.8h0M364.6,578.6h0M365.1,578.5h0M365.7,578.3h0M366.3,578.1h0M366.9,578h0M367.5,577.9h0M368,577.7h0M368.6,577.6h0M369.2,577.4h0M369.8,577.3h0M370.4,577.2h0M370.9,577h0M371.5,576.9h0M372.1,576.8h0M372.7,576.6h0M373.3,576.5h0M373.8,576.4h0M374.4,576.3h0M375,576.2h0M375.6,576.1h0M376.2,575.9h0M376.8,575.8h0M377.3,575.7h0M377.9,575.6h0M378.5,575.5h0M379.1,575.4h0M379.7,575.3h0M380.2,575.2h0M380.8,575.1h0M381.4,575.1h0M382,575h0M382.6,574.9h0M383.1,574.8h0M383.7,574.7h0M384.3,574.6h0M384.9,574.5h0M385.5,574.4h0M386,574.3h0M386.6,574.2h0M387.2,574.2h0M387.8,574.1h0M388.4,574h0M388.9,573.9h0M389.5,573.8h0M390.1,573.7h0M390.7,573.6h0M391.3,573.5h0M391.8,573.4h0M392.4,573.3h0M393,573.2h0M393.6,573.1h0M394.2,573h0M394.7,572.9h0M395.3,572.8h0M395.9,572.6h0M396.5,572.5h0M397.1,572.4h0M397.6,572.3h0M398.2,572.2h0M398.8,572.1h0M399.4,572h0M400,571.9h0M400.5,571.8h0M401.1,571.7h0M401.7,571.5h0M402.3,571.4h0M402.9,571.3h0M403.4,571.2h0M404,571.1h0M404.6,571h0M405.2,570.9h0M405.8,570.8h0M406.3,570.7h0M406.9,570.6h0M407.5,570.4h0M408.1,570.3h0M408.7,570.2h0M409.2,570.1h0M409.8,570h0M410.4,569.9h0M411,569.8h0M411.6,569.7h0M412.1,569.6h0M412.7,569.5h0M413.3,569.4h0M413.9,569.3h0M414.5,569.2h0M415,569.1h0M415.6,569.1h0M416.2,569h0M416.8,568.9h0M417.4,568.8h0M417.9,568.7h0M418.5,568.6h0M419.1,568.6h0M419.7,568.5h0M420.3,568.4h0M420.9,568.3h0M421.4,568.3h0M422,568.2h0M422.6,568.1h0M423.2,568.1h0M423.8,568h0M424.3,568h0M424.9,567.9h0M425.5,567.9h0M426.1,567.8h0M426.7,567.8h0M427.2,567.7h0M427.8,567.7h0M428.4,567.6h0M429,567.6h0M429.6,567.5h0M430.1,567.5h0M430.7,567.4h0M431.3,567.4h0M431.9,567.3h0M432.5,567.3h0M433,567.2h0M433.6,567.2h0M434.2,567.1h0M434.8,567.1h0M435.4,567.1h0M435.9,567h0M436.5,567h0M437.1,566.9h0M437.7,566.9h0M438.3,566.9h0M438.8,566.8h0M439.4,566.8h0M440,566.7h0M440.6,566.7h0M441.2,566.7h0M441.7,566.6h0M442.3,566.6h0M442.9,566.6h0M443.5,566.5h0M444.1,566.5h0M444.6,566.4h0M445.2,566.4h0M445.8,566.4h0M446.4,566.4h0M447,566.3h0M447.5,566.3h0M448.1,566.3h0M448.7,566.2h0M449.3,566.2h0M449.9,566.2h0M450.4,566.1h0M451,566.1h0M451.6,566.1h0M452.2,566.1h0M452.8,566h0M453.3,566h0M453.9,566h0M454.5,565.9h0M455.1,565.9h0M455.7,565.9h0M456.2,565.9h0M456.8,565.9h0M457.4,565.8h0M458,565.8h0M458.6,565.8h0M459.1,565.8h0M459.7,565.7h0M460.3,565.7h0M460.9,565.7h0M461.5,565.7h0M462.1,565.7h0M462.6,565.6h0M463.2,565.6h0M463.8,565.6h0M464.4,565.6h0M465,565.5h0M465.5,565.5h0M466.1,565.5h0M466.7,565.5h0M467.3,565.5h0M467.9,565.4h0M468.4,565.4h0M469,565.4h0M469.6,565.4h0M470.2,565.4h0M470.8,565.3h0M471.3,565.3h0M471.9,565.3h0M472.5,565.3h0M473.1,565.3h0M473.7,565.3h0M474.2,565.2h0M474.8,565.2h0M475.4,565.2h0M476,565.2h0M476.6,565.2h0M477.1,565.2h0M477.7,565.2h0M478.3,565.1h0M478.9,565.1h0M479.5,565.1h0M480,565.1h0M480.6,565.1h0M481.2,565.1h0M481.8,565.1h0M482.4,565.1h0M482.9,565.1h0M483.5,565.1h0M484.1,565.1h0M484.7,565.1h0M485.3,565.1h0M485.8,565.1h0M486.4,565.1h0M487,565.1h0M487.6,565.1h0M488.2,565.1h0M488.7,565.1h0M489.3,565.1h0M489.9,565.1h0M490.5,565.1h0M491.1,565.2h0M491.6,565.2h0M492.2,565.2h0M492.8,565.2h0M493.4,565.2h0M494,565.2h0M494.5,565.2h0M495.1,565.2h0M495.7,565.2h0M496.3,565.2h0M496.9,565.2h0M497.4,565.3h0M498,565.3h0M498.6,565.3h0M499.2,565.3h0M499.8,565.3h0M500.3,565.3h0M500.9,565.3h0M501.5,565.3h0M502.1,565.3h0M502.7,565.3h0M503.3,565.4h0M503.8,565.4h0M504.4,565.4h0M505,565.4h0M505.6,565.4h0M506.2,565.4h0M506.7,565.5h0M507.3,565.6h0M507.9,565.8h0M508.5,565.9h0M509.1,566h0M509.6,566.1h0M510.2,566.2h0M510.8,566.3h0M511.4,566.5h0M512,566.6h0M512.5,566.7h0M513.1,566.9h0M513.7,567h0M514.3,567.1h0M514.9,567.3h0M515.4,567.4h0M516,567.6h0M516.6,567.7h0M517.2,567.9h0M517.8,568.1h0M518.3,568.2h0M518.9,568.4h0M519.5,568.6h0M520.1,568.8h0M520.7,568.9h0M521.2,569.1h0M521.8,569.3h0M522.4,569.5h0M523,569.8h0M523.6,570h0M524.1,570.2h0M524.7,570.5h0M525.3,570.7h0M525.9,571h0M526.5,571.3h0M527,571.6h0M527.6,572h0M528.2,572.3h0M528.8,572.7h0M529.4,573.2h0M529.9,573.6h0M530.5,574.2h0M531.1,574.7h0M531.7,575.4h0M532.3,576.2h0M532.8,577.2h0M533.4,578.3h0M534,579.9h0M534.6,582.3h0M535.2,587.2h0M535.7,588.6h0M536.3,582.7h0M536.9,580.1h0M537.5,578.4h0M538.1,577.2h0M538.6,576.2h0M539.2,575.3h0M539.8,574.6h0M540.4,574h0M541,573.4h0M541.5,572.9h0M542.1,572.4h0M542.7,572h0M543.3,571.6h0M543.9,571.2h0M544.5,570.9h0M545,570.5h0M545.6,570.2h0M546.2,569.9h0M546.8,569.6h0M547.4,569.4h0M547.9,569.1h0M548.5,568.9h0M549.1,568.6h0M549.7,568.4h0M550.3,568.2h0M550.8,567.9h0M551.4,567.7h0M552,567.5h0M552.6,567.3h0M553.2,567.1h0M553.7,566.9h0M554.3,566.7h0M554.9,566.5h0M555.5,566.3h0M556.1,566.1h0M556.6,565.9h0M557.2,565.6h0M557.8,565.4h0M558.4,565.2h0M559,564.9h0M559.5,564.7h0M560.1,564.4h0M560.7,564.1h0M561.3,563.9h0M561.9,563.6h0M562.4,563.4h0M563,563.1h0M563.6,562.9h0M564.2,562.6h0M564.8,562.4h0M565.3,562.2h0M565.9,562.1h0M566.5,562h0M567.1,561.8h0M567.7,561.7h0M568.2,561.6h0M568.8,561.5h0M569.4,561.5h0M570,561.4h0M570.6,561.3h0M571.1,561.2h0M571.7,561.2h0M572.3,561.1h0M572.9,561h0M573.5,561h0M574,560.9h0M574.6,560.9h0M575.2,560.8h0M575.8,560.8h0M576.4,560.7h0M576.9,560.7h0M577.5,560.6h0M578.1,560.6h0M578.7,560.5h0M579.3,560.5h0M579.8,560.4h0M580.4,560.4h0M581,560.3h0M581.6,560.3h0M582.2,560.3h0M582.7,560.2h0M583.3,560.2h0M583.9,560.1h0M584.5,560.1h0M585.1,560.1h0M585.7,560h0M586.2,560h0M586.8,559.9h0M587.4,559.9h0M588,559.8h0M588.6,559.8h0M589.1,559.8h0M589.7,559.7h0M590.3,559.7h0M590.9,559.6h0M591.5,559.6h0M592,559.5h0M592.6,559.5h0M593.2,559.4h0M593.8,559.4h0M594.4,559.3h0M594.9,559.3h0M595.5,559.2h0M596.1,559.2h0M596.7,559.1h0M597.3,559.1h0M597.8,559h0M598.4,558.9h0M599,558.9h0M599.6,558.8h0M600.2,558.7h0M600.7,558.6h0M601.3,558.6h0M601.9,558.5h0M602.5,558.4h0M603.1,558.3h0M603.6,558.2h0M604.2,558.1h0M604.8,558h0M605.4,557.8h0M606,557.7h0M606.5,557.5h0M607.1,557.3h0M607.7,557.2h0M608.3,557h0M608.9,556.8h0M609.4,556.7h0M610,556.5h0M610.6,556.3h0M611.2,556.2h0M611.8,556.1h0M612.3,556h0M612.9,555.9h0M613.5,555.7h0M614.1,555.6h0M614.7,555.5h0M615.2,555.4h0M615.8,555.3h0M616.4,555.2h0M617,555.1h0M617.6,555h0M618.1,555h0M618.7,554.9h0M619.3,554.9h0M619.9,554.9h0M620.5,554.9h0M621,554.9h0M621.6,555h0M622.2,555h0M622.8,555.1h0M623.4,555.1h0M623.9,555.1h0M624.5,555.2h0M625.1,555.2h0M625.7,555.4h0M626.3,555.7h0M626.9,556.1h0M627.4,556.4h0M628,556.8h0M628.6,557.3h0M629.2,557.7h0M629.8,558.2h0M630.3,558.8h0M630.9,559.4h0M631.5,560.1h0M632.1,560.9h0M632.7,561.9h0M633.2,563.1h0M633.8,564.7h0M634.4,567.1h0M635,572.1h0M635.6,573.8h0M636.1,568.1h0M636.7,565.6h0M637.3,564h0M637.9,562.9h0M638.5,562.1h0M639,561.5h0M639.6,561h0M640.2,560.7h0M640.8,560.5h0M641.4,560.4h0M641.9,560.4h0M642.5,560.5h0M643.1,560.7h0M643.7,561.1h0M644.3,561.6h0M644.8,562.2h0M645.4,563.1h0M646,564.2h0M646.6,565.9h0M647.2,568.7h0M647.7,576.1h0M648.3,571.5h0M648.9,567.3h0M649.5,565.2h0M650.1,563.7h0M650.6,562.6h0M651.2,556.7h0M651.8,557h0M652.4,557.3h0M653,557.5h0M653.5,557.8h0M654.1,558h0M654.7,558.2h0M655.3,558.4h0M655.9,558.6h0M656.4,558.7h0M657,558.9h0M657.6,559.1h0M658.2,559.2h0M658.8,559.4h0M659.3,559.4h0M659.9,559.5h0M660.5,559.5h0M661.1,559.4h0M661.7,559.3h0M662.2,559.1h0M662.8,558.8h0M663.4,558.5h0M664,558.2h0M664.6,557.8h0M665.1,557.5h0M665.7,557.1h0M666.3,556.8h0M666.9,556.5h0M667.5,556.3h0M668.1,556h0M668.6,555.7h0M669.2,555.4h0M669.8,555.1h0M670.4,554.9h0M671,554.6h0M671.5,554.3h0M672.1,554.1h0M672.7,553.9h0M673.3,553.7h0M673.9,553.6h0M674.4,553.5h0M675,553.5h0M675.6,553.6h0M676.2,553.7h0M676.8,553.8h0M677.3,554h0M677.9,554.2h0M678.5,554.5h0M679.1,554.8h0M679.7,555h0M680.2,555.3h0M680.8,555.7h0M681.4,556.2h0M682,556.7h0M682.6,557.2h0M683.1,557.9h0M683.7,558.5h0M684.3,559.1h0M684.9,559.8h0M685.5,560.6h0M686,561.4h0M686.6,562.3h0M687.2,563.2h0M535.5,596.7h0M647.9,583.4h0M635.3,573.1h0" class="d"/>
<rect x="122.3" y="260.6" width="336.9" height="96.8" rx="4.5" fill="#fff" fill-opacity="0.8" stroke="#ccc" stroke-width="1.1"/>
<path d="M134.7,283.8H198.7" stroke="#1f77b4" stroke-width="1.65" fill="none"/>
<path d="M132.3,328.3H200.9" stroke="#ff7f0e" stroke-opacity="0.4" stroke-width="6.4" fill="none"/>
<text x="222.5" y="295.4" font-size="29.5" textLength="224" lengthAdjust="spacingAndGlyphs" class="m">GWFAST - WF4Py</text>
<text x="222.5" y="338.9" font-size="29.5" textLength="48" lengthAdjust="spacingAndGlyphs" class="m">LAL</text>
<path d="M107.5,372.6h-2.2M107.5,367.7h-2.2M107.5,363.4h-2.2M107.5,359.5h-3.9M107.5,334h-2.2M107.5,319.1h-2.2M107.5,308.5h-2.2M107.5,300.3h-2.2M107.5,293.6h-2.2M107.5,288h-2.2M107.5,283.1h-2.2M107.5,278.7h-2.2M107.5,274.9h-3.9M107.5,249.4h-2.2M107.5,234.5h-2.2M107.5,223.9h-2.2M107.5,215.7h-2.2M107.5,209h-2.2M107.5,203.3h-2.2M107.5,198.4h-2.2M107.5,194.1h-2.2M107.5,190.2h-3.9M107.5,164.8h-2.2M107.5,149.9h-2.2M107.5,139.3h-2.2M107.5,131.1h-2.2M107.5,124.4h-2.2M107.5,118.7h-2.2M107.5,113.8h-2.2M107.5,109.5h-2.2M107.5,105.6h-3.9M107.5,80.1h-2.2M107.5,65.2h-2.2M107.5,54.6h-2.2M107.5,46.4h-2.2M107.5,39.7h-2.2M107.5,34.1h-2.2M107.5,29.2h-2.2M107.5,381.4h-3.9M107.5,460.2h-3.9M107.5,539h-3.9M107.5,584.8h-3.9M107.5,629.6h-3.9M107.5,674.4h-3.9M131.5,703.4v2.2M152,703.4v2.2M169.7,703.4v2.2M185.4,703.4v2.2M199.4,703.4v3.9M291.5,703.4v2.2M345.4,703.4v2.2M383.6,703.4v2.2M413.3,703.4v2.2M437.5,703.4v2.2M458,703.4v2.2M475.7,703.4v2.2M491.4,703.4v2.2M505.4,703.4v3.9M597.5,703.4v2.2M651.4,703.4v2.2" stroke="#262626" stroke-width="1" fill="none"/>
<path d="M107.5,25.3H687.2V703.4H107.5ZM107.5,373.4H687.2M107.5,546.9H687.2" stroke="#262626" stroke-width="1.1" fill="none"/>
<text x="99.9" y="106" font-size="19" text-anchor="end" textLength="33.4" lengthAdjust="spacingAndGlyphs">−22</text>
<text x="65.3" y="116.1" font-size="26.5" text-anchor="end" textLength="28.2" lengthAdjust="spacingAndGlyphs">10</text>
<text x="99.9" y="190.6" font-size="19" text-anchor="end" textLength="33.4" lengthAdjust="spacingAndGlyphs">−23</text>
<text x="65.3" y="200.7" font-size="26.5" text-anchor="end" textLength="28.2" lengthAdjust="spacingAndGlyphs">10</text>
<text x="99.9" y="275.3" font-size="19" text-anchor="end" textLength="33.4" lengthAdjust="spacingAndGlyphs">−24</text>
<text x="65.3" y="285.4" font-size="26.5" text-anchor="end" textLength="28.2" lengthAdjust="spacingAndGlyphs">10</text>
<text x="99.9" y="359.9" font-size="19" text-anchor="end" textLength="33.4" lengthAdjust="spacingAndGlyphs">−25</text>
<text x="65.3" y="370" font-size="26.5" text-anchor="end" textLength="28.2" lengthAdjust="spacingAndGlyphs">10</text>
<text x="99.9" y="585.2" font-size="19" text-anchor="end" textLength="23.8" lengthAdjust="spacingAndGlyphs">−6</text>
<text x="74.9" y="595.3" font-size="26.5" text-anchor="end" textLength="28.2" lengthAdjust="spacingAndGlyphs">10</text>
<text x="99.9" y="630" font-size="19" text-anchor="end" textLength="33.4" lengthAdjust="spacingAndGlyphs">−10</text>
<text x="65.3" y="640.1" font-size="26.5" text-anchor="end" textLength="28.2" lengthAdjust="spacingAndGlyphs">10</text>
<text x="99.9" y="674.8" font-size="19" text-anchor="end" textLength="33.4" lengthAdjust="spacingAndGlyphs">−14</text>
<text x="65.3" y="684.9" font-size="26.5" text-anchor="end" textLength="28.2" lengthAdjust="spacingAndGlyphs">10</text>
<text x="101.7" y="390.2" font-size="26.5" text-anchor="end">1</text>
<text x="101.4" y="469" font-size="26.5" text-anchor="end" textLength="15.8" lengthAdjust="spacingAndGlyphs">0</text>
<text x="101.5" y="547.8" font-size="26.5" text-anchor="end" textLength="36.5" lengthAdjust="spacingAndGlyphs">−1</text>
<text x="180.2" y="731.3" font-size="26.5" textLength="28.2" lengthAdjust="spacingAndGlyphs">10</text>
<text x="208.2" y="720.6" font-size="19">1</text>
<text x="486.2" y="731.3" font-size="26.5" textLength="28.2" lengthAdjust="spacingAndGlyphs">10</text>
<text x="514.2" y="720.6" font-size="19">2</text>
<text x="360.2" y="764.2" font-size="31.5" textLength="10.6" lengthAdjust="spacingAndGlyphs" font-style="italic">f</text>
<text x="381.9" y="764.2" font-size="31.5" textLength="53.6" lengthAdjust="spacingAndGlyphs">(Hz)</text>
<text x="397.4" y="19.3" font-size="29.5" text-anchor="middle" textLength="177.9" lengthAdjust="spacingAndGlyphs" class="m">IMRPhenomHM</text>
<g transform="translate(27.6,262.8) rotate(-90)">
<text x="2" y="0" font-size="32.0" font-style="italic">A</text>
<text x="23.3" y="7.9" font-size="27.5">+</text>
<text x="44.3" y="0" font-size="31.5" textLength="39.5" lengthAdjust="spacingAndGlyphs">(Hz</text>
<text x="88.5" y="-12.1" font-size="22" textLength="15" lengthAdjust="spacingAndGlyphs">−</text>
<text x="102.6" y="-13" font-size="21.5">1</text>
<text x="114.6" y="0" font-size="31.5">)</text>
</g>
<g transform="translate(52.9,508.7) rotate(-90)">
<text x="0" y="0" font-size="31.5" textLength="48" lengthAdjust="spacingAndGlyphs">cos(</text>
<text x="49.2" y="0" font-size="31.5" textLength="20.5" lengthAdjust="spacingAndGlyphs">Ψ</text>
<text x="70.6" y="6.9" font-size="27.5">+</text>
<text x="87.6" y="0" font-size="31.5">)</text>
</g>
<g transform="translate(28.3,640.3) rotate(-90)">
<text x="0" y="0" font-size="31.5" textLength="33" lengthAdjust="spacingAndGlyphs">res</text>
</g>
<path d="M865.6,25.3V703.4M880.2,25.3V703.4M892.9,25.3V703.4M904.1,25.3V703.4M914.1,25.3V703.4M979.9,25.3V703.4M1018.4,25.3V703.4M1045.7,25.3V703.4M1066.9,25.3V703.4M1084.2,25.3V703.4M1098.8,25.3V703.4M1111.5,25.3V703.4M1122.7,25.3V703.4M1132.7,25.3V703.4M1198.5,25.3V703.4M1237,25.3V703.4M1264.3,25.3V703.4M1285.5,25.3V703.4M1302.8,25.3V703.4M1317.4,25.3V703.4M1330.1,25.3V703.4M1341.3,25.3V703.4M1351.3,25.3V703.4M1417.1,25.3V703.4" class="g"/>
<path d="M848.3,73.3H1427.8M848.3,181.3H1427.8M848.3,289.3H1427.8M848.3,381.4H1427.8M848.3,460.2H1427.8M848.3,539H1427.8M848.3,581.2H1427.8M848.3,627.6H1427.8M848.3,674.1H1427.8" class="g"/>
<defs><clipPath id="ca1"><rect x="848.3" y="25.3" width="579.5" height="348.1"/></clipPath><clipPath id="cc1"><rect x="848.3" y="373.4" width="579.5" height="173.5"/></clipPath><clipPath id="cr1"><rect x="848.3" y="546.9" width="579.5" height="156.5"/></clipPath>
<polyline id="a1" points="848.3,40.5 848.8,40.7 849.4,40.8 849.9,41 850.4,41.1 851,41.3 851.5,41.5 852.1,41.6 852.6,41.8 853.1,41.9 853.7,42.1 854.2,42.3 854.7,42.4 855.3,42.6 855.8,42.7 856.3,42.9 856.9,43.1 857.4,43.2 858,43.4 858.5,43.5 859,43.7 859.6,43.9 860.1,44 860.6,44.2 861.2,44.3 861.7,44.5 862.3,44.7 862.8,44.8 863.3,45 863.9,45.1 864.4,45.3 864.9,45.5 865.5,45.6 866,45.8 866.5,45.9 867.1,46.1 867.6,46.3 868.2,46.4 868.7,46.6 869.2,46.7 869.8,46.9 870.3,47.1 870.8,47.2 871.4,47.4 871.9,47.5 872.4,47.7 873,47.9 873.5,48 874.1,48.2 874.6,48.3 875.1,48.5 875.7,48.7 876.2,48.8 876.7,49 877.3,49.1 877.8,49.3 878.4,49.5 878.9,49.6 879.4,49.8 880,49.9 880.5,50.1 881,50.3 881.6,50.4 882.1,50.6 882.6,50.8 883.2,50.9 883.7,51.1 884.3,51.2 884.8,51.4 885.3,51.6 885.9,51.7 886.4,51.9 886.9,52 887.5,52.2 888,52.4 888.5,52.5 889.1,52.7 889.6,52.8 890.2,53 890.7,53.2 891.2,53.3 891.8,53.5 892.3,53.6 892.8,53.8 893.4,54 893.9,54.1 894.4,54.3 895,54.4 895.5,54.6 896.1,54.8 896.6,54.9 897.1,55.1 897.7,55.2 898.2,55.4 898.7,55.6 899.3,55.7 899.8,55.9 900.4,56 900.9,56.2 901.4,56.4 902,56.5 902.5,56.7 903,56.8 903.6,57 904.1,57.2 904.6,57.3 905.2,57.5 905.7,57.6 906.3,57.8 906.8,58 907.3,58.1 907.9,58.3 908.4,58.4 908.9,58.6 909.5,58.8 910,58.9 910.5,59.1 911.1,59.2 911.6,59.4 912.2,59.6 912.7,59.7 913.2,59.9 913.8,60.1 914.3,60.2 914.8,60.4 915.4,60.5 915.9,60.7 916.5,60.9 917,61 917.5,61.2 918.1,61.3 918.6,61.5 919.1,61.7 919.7,61.8 920.2,62 920.7,62.1 921.3,62.3 921.8,62.5 922.4,62.6 922.9,62.8 923.4,62.9 924,63.1 924.5,63.3 925,63.4 925.6,63.6 926.1,63.7 926.6,63.9 927.2,64.1 927.7,64.2 928.3,64.4 928.8,64.5 929.3,64.7 929.9,64.9 930.4,65 930.9,65.2 931.5,65.3 932,65.5 932.6,65.7 933.1,65.8 933.6,66 934.2,66.2 934.7,66.3 935.2,66.5 935.8,66.6 936.3,66.8 936.8,67 937.4,67.1 937.9,67.3 938.5,67.4 939,67.6 939.5,67.8 940.1,67.9 940.6,68.1 941.1,68.2 941.7,68.4 942.2,68.6 942.7,68.7 943.3,68.9 943.8,69 944.4,69.2 944.9,69.4 945.4,69.5 946,69.7 946.5,69.8 947,70 947.6,70.2 948.1,70.3 948.6,70.5 949.2,70.6 949.7,70.8 950.3,71 950.8,71.1 951.3,71.3 951.9,71.5 952.4,71.6 952.9,71.8 953.5,71.9 954,72.1 954.6,72.3 955.1,72.4 955.6,72.6 956.2,72.7 956.7,72.9 957.2,73.1 957.8,73.2 958.3,73.4 958.8,73.5 959.4,73.7 959.9,73.9 960.5,74 961,74.2 961.5,74.3 962.1,74.5 962.6,74.7 963.1,74.8 963.7,75 964.2,75.1 964.7,75.3 965.3,75.5 965.8,75.6 966.4,75.8 966.9,75.9 967.4,76.1 968,76.3 968.5,76.4 969,76.6 969.6,76.8 970.1,76.9 970.7,77.1 971.2,77.2 971.7,77.4 972.3,77.6 972.8,77.7 973.3,77.9 973.9,78 974.4,78.2 974.9,78.4 975.5,78.5 976,78.7 976.6,78.8 977.1,79 977.6,79.2 978.2,79.3 978.7,79.5 979.2,79.6 979.8,79.8 980.3,80 980.8,80.1 981.4,80.3 981.9,80.5 982.5,80.6 983,80.8 983.5,80.9 984.1,81.1 984.6,81.3 985.1,81.4 985.7,81.6 986.2,81.7 986.7,81.9 987.3,82.1 987.8,82.2 988.4,82.4 988.9,82.5 989.4,82.7 990,82.9 990.5,83 991,83.2 991.6,83.3 992.1,83.5 992.7,83.7 993.2,83.8 993.7,84 994.3,84.1 994.8,84.3 995.3,84.5 995.9,84.6 996.4,84.8 996.9,85 997.5,85.1 998,85.3 998.6,85.4 999.1,85.6 999.6,85.8 1000.2,85.9 1000.7,86.1 1001.2,86.2 1001.8,86.4 1002.3,86.6 1002.8,86.7 1003.4,86.9 1003.9,87 1004.5,87.2 1005,87.4 1005.5,87.5 1006.1,87.7 1006.6,87.9 1007.1,88 1007.7,88.2 1008.2,88.3 1008.8,88.5 1009.3,88.7 1009.8,88.8 1010.4,89 1010.9,89.1 1011.4,89.3 1012,89.5 1012.5,89.6 1013,89.8 1013.6,89.9 1014.1,90.1 1014.7,90.3 1015.2,90.4 1015.7,90.6 1016.3,90.7 1016.8,90.9 1017.3,91.1 1017.9,91.2 1018.4,91.4 1018.9,91.6 1019.5,91.7 1020,91.9 1020.6,92 1021.1,92.2 1021.6,92.4 1022.2,92.5 1022.7,92.7 1023.2,92.8 1023.8,93 1024.3,93.2 1024.9,93.3 1025.4,93.5 1025.9,93.6 1026.5,93.8 1027,94 1027.5,94.1 1028.1,94.3 1028.6,94.4 1029.1,94.6 1029.7,94.8 1030.2,94.9 1030.8,95.1 1031.3,95.3 1031.8,95.4 1032.4,95.6 1032.9,95.7 1033.4,95.9 1034,96.1 1034.5,96.2 1035,96.4 1035.6,96.5 1036.1,96.7 1036.7,96.9 1037.2,97 1037.7,97.2 1038.3,97.3 1038.8,97.5 1039.3,97.7 1039.9,97.8 1040.4,98 1040.9,98.2 1041.5,98.3 1042,98.5 1042.6,98.6 1043.1,98.8 1043.6,99 1044.2,99.1 1044.7,99.3 1045.2,99.4 1045.8,99.6 1046.3,99.8 1046.9,99.9 1047.4,100.1 1047.9,100.2 1048.5,100.4 1049,100.6 1049.5,100.7 1050.1,100.9 1050.6,101.1 1051.1,101.2 1051.7,101.4 1052.2,101.5 1052.8,101.7 1053.3,101.9 1053.8,102 1054.4,102.2 1054.9,102.3 1055.4,102.5 1056,102.7 1056.5,102.8 1057,103 1057.6,103.1 1058.1,103.3 1058.7,103.5 1059.2,103.6 1059.7,103.8 1060.3,103.9 1060.8,104.1 1061.3,104.3 1061.9,104.4 1062.4,104.6 1063,104.7 1063.5,104.9 1064,105 1064.6,105.2 1065.1,105.4 1065.6,105.5 1066.2,105.7 1066.7,105.8 1067.2,106 1067.8,106.2 1068.3,106.3 1068.9,106.5 1069.4,106.6 1069.9,106.8 1070.5,107 1071,107.1 1071.5,107.3 1072.1,107.4 1072.6,107.6 1073.1,107.7 1073.7,107.9 1074.2,108.1 1074.8,108.2 1075.3,108.4 1075.8,108.5 1076.4,108.7 1076.9,108.9 1077.4,109 1078,109.2 1078.5,109.3 1079,109.5 1079.6,109.6 1080.1,109.8 1080.7,110 1081.2,110.1 1081.7,110.3 1082.3,110.4 1082.8,110.6 1083.3,110.7 1083.9,110.9 1084.4,111.1 1085,111.2 1085.5,111.4 1086,111.5 1086.6,111.7 1087.1,111.9 1087.6,112 1088.2,112.2 1088.7,112.3 1089.2,112.5 1089.8,112.6 1090.3,112.8 1090.9,113 1091.4,113.1 1091.9,113.3 1092.5,113.4 1093,113.6 1093.5,113.7 1094.1,113.9 1094.6,114.1 1095.1,114.2 1095.7,114.4 1096.2,114.5 1096.8,114.7 1097.3,114.9 1097.8,115 1098.4,115.2 1098.9,115.3 1099.4,115.5 1100,115.6 1100.5,115.8 1101.1,116 1101.6,116.1 1102.1,116.3 1102.7,116.4 1103.2,116.6 1103.7,116.8 1104.3,116.9 1104.8,117.1 1105.3,117.2 1105.9,117.4 1106.4,117.5 1107,117.7 1107.5,117.9 1108,118 1108.6,118.2 1109.1,118.3 1109.6,118.5 1110.2,118.7 1110.7,118.8 1111.2,119 1111.8,119.1 1112.3,119.3 1112.9,119.4 1113.4,119.6 1113.9,119.8 1114.5,119.9 1115,120.1 1115.5,120.2 1116.1,120.4 1116.6,120.6 1117.1,120.7 1117.7,120.9 1118.2,121 1118.8,121.2 1119.3,121.4 1119.8,121.5 1120.4,121.7 1120.9,121.8 1121.4,122 1122,122.1 1122.5,122.3 1123.1,122.5 1123.6,122.6 1124.1,122.8 1124.7,122.9 1125.2,123.1 1125.7,123.3 1126.3,123.4 1126.8,123.6 1127.3,123.7 1127.9,123.9 1128.4,124.1 1129,124.2 1129.5,124.4 1130,124.6 1130.6,124.7 1131.1,124.9 1131.6,125 1132.2,125.2 1132.7,125.4 1133.2,125.5 1133.8,125.7 1134.3,125.8 1134.9,126 1135.4,126.2 1135.9,126.3 1136.5,126.5 1137,126.6 1137.5,126.8 1138.1,127 1138.6,127.1 1139.2,127.3 1139.7,127.5 1140.2,127.6 1140.8,127.8 1141.3,127.9 1141.8,128.1 1142.4,128.3 1142.9,128.4 1143.4,128.6 1144,128.8 1144.5,128.9 1145.1,129.1 1145.6,129.2 1146.1,129.4 1146.7,129.6 1147.2,129.7 1147.7,129.9 1148.3,130.1 1148.8,130.2 1149.3,130.4 1149.9,130.6 1150.4,130.7 1151,130.9 1151.5,131.1 1152,131.2 1152.6,131.4 1153.1,131.5 1153.6,131.7 1154.2,131.9 1154.7,132 1155.3,132.2 1155.8,132.4 1156.3,132.5 1156.9,132.7 1157.4,132.9 1157.9,133 1158.5,133.2 1159,133.4 1159.5,133.5 1160.1,133.7 1160.6,133.9 1161.2,134 1161.7,134.2 1162.2,134.4 1162.8,134.5 1163.3,134.7 1163.8,134.9 1164.4,135 1164.9,135.2 1165.4,135.4 1166,135.5 1166.5,135.7 1167.1,135.9 1167.6,136.1 1168.1,136.2 1168.7,136.4 1169.2,136.6 1169.7,136.7 1170.3,136.9 1170.8,137.1 1171.3,137.2 1171.9,137.4 1172.4,137.6 1173,137.8 1173.5,137.9 1174,138.1 1174.6,138.3 1175.1,138.4 1175.6,138.6 1176.2,138.8 1176.7,138.9 1177.3,139.1 1177.8,139.3 1178.3,139.5 1178.9,139.6 1179.4,139.8 1179.9,140 1180.5,140.2 1181,140.3 1181.5,140.5 1182.1,140.7 1182.6,140.8 1183.2,141 1183.7,141.2 1184.2,141.4 1184.8,141.5 1185.3,141.7 1185.8,141.9 1186.4,142.1 1186.9,142.3 1187.4,142.4 1188,142.6 1188.5,142.8 1189.1,143 1189.6,143.1 1190.1,143.3 1190.7,143.5 1191.2,143.7 1191.7,143.9 1192.3,144 1192.8,144.2 1193.4,144.4 1193.9,144.6 1194.4,144.8 1195,144.9 1195.5,145.1 1196,145.3 1196.6,145.5 1197.1,145.7 1197.6,145.9 1198.2,146 1198.7,146.2 1199.3,146.4 1199.8,146.6 1200.3,146.8 1200.9,147 1201.4,147.1 1201.9,147.3 1202.5,147.5 1203,147.7 1203.5,147.9 1204.1,148.1 1204.6,148.2 1205.2,148.4 1205.7,148.6 1206.2,148.8 1206.8,149 1207.3,149.2 1207.8,149.3 1208.4,149.5 1208.9,149.7 1209.4,149.9 1210,150.1 1210.5,150.3 1211.1,150.5 1211.6,150.6 1212.1,150.8 1212.7,151 1213.2,151.2 1213.7,151.4 1214.3,151.6 1214.8,151.8 1215.4,151.9 1215.9,152.1 1216.4,152.3 1217,152.5 1217.5,152.7 1218,152.9 1218.6,153.1 1219.1,153.2 1219.6,153.4 1220.2,153.6 1220.7,153.8 1221.3,154 1221.8,154.2 1222.3,154.3 1222.9,154.5 1223.4,154.7 1223.9,154.9 1224.5,155.1 1225,155.3 1225.5,155.5 1226.1,155.6 1226.6,155.8 1227.2,156 1227.7,156.2 1228.2,156.4 1228.8,156.6 1229.3,156.7 1229.8,156.9 1230.4,157.1 1230.9,157.3 1231.5,157.5 1232,157.6 1232.5,157.8 1233.1,158 1233.6,158.2 1234.1,158.4 1234.7,158.6 1235.2,158.7 1235.7,158.9 1236.3,159.1 1236.8,159.3 1237.4,159.5 1237.9,159.6 1238.4,159.8 1239,160 1239.5,160.2 1240,160.4 1240.6,160.5 1241.1,160.7 1241.6,160.9 1242.2,161.1 1242.7,161.3 1243.3,161.5 1243.8,161.6 1244.3,161.8 1244.9,162 1245.4,162.2 1245.9,162.4 1246.5,162.6 1247,162.7 1247.5,162.9 1248.1,163.1 1248.6,163.3 1249.2,163.5 1249.7,163.7 1250.2,163.8 1250.8,164 1251.3,164.2 1251.8,164.4 1252.4,164.6 1252.9,164.8 1253.5,165 1254,165.1 1254.5,165.3 1255.1,165.5 1255.6,165.7 1256.1,165.9 1256.7,166.1 1257.2,166.2 1257.7,166.4 1258.3,166.6 1258.8,166.8 1259.4,167 1259.9,167.1 1260.4,167.3 1261,167.5 1261.5,167.7 1262,167.9 1262.6,168.1 1263.1,168.2 1263.6,168.4 1264.2,168.6 1264.7,168.8 1265.3,169 1265.8,169.1 1266.3,169.3 1266.9,169.5 1267.4,169.7 1267.9,169.9 1268.5,170 1269,170.2 1269.6,170.4 1270.1,170.6 1270.6,170.7 1271.2,170.9 1271.7,171.1 1272.2,171.3 1272.8,171.4 1273.3,171.6 1273.8,171.8 1274.4,172 1274.9,172.1 1275.5,172.3 1276,172.5 1276.5,172.7 1277.1,172.8 1277.6,173 1278.1,173.2 1278.7,173.3 1279.2,173.5 1279.7,173.7 1280.3,173.9 1280.8,174 1281.4,174.2 1281.9,174.4 1282.4,174.5 1283,174.7 1283.5,174.9 1284,175 1284.6,175.2 1285.1,175.3 1285.7,175.5 1286.2,175.7 1286.7,175.8 1287.3,176 1287.8,176.1 1288.3,176.3 1288.9,176.5 1289.4,176.6 1289.9,176.8 1290.5,176.9 1291,177.1 1291.6,177.2 1292.1,177.4 1292.6,177.5 1293.2,177.7 1293.7,177.9 1294.2,178 1294.8,178.2 1295.3,178.3 1295.8,178.5 1296.4,178.6 1296.9,178.8 1297.5,178.9 1298,179.1 1298.5,179.2 1299.1,179.4 1299.6,179.5 1300.1,179.7 1300.7,179.8 1301.2,179.9 1301.7,180.1 1302.3,180.2 1302.8,180.4 1303.4,180.5 1303.9,180.7 1304.4,180.8 1305,181 1305.5,181.1 1306,181.3 1306.6,181.4 1307.1,181.6 1307.7,181.7 1308.2,181.9 1308.7,182 1309.3,182.1 1309.8,182.3 1310.3,182.4 1310.9,182.6 1311.4,182.7 1311.9,182.9 1312.5,183 1313,183.2 1313.6,183.4 1314.1,183.5 1314.6,183.7 1315.2,183.8 1315.7,184 1316.2,184.2 1316.8,184.3 1317.3,184.5 1317.8,184.8 1318.4,185 1318.9,185.3 1319.5,185.6 1320,185.9 1320.5,186.4 1321.1,186.9 1321.6,187.5 1322.1,188.4 1322.7,189.3 1323.2,190.2 1323.8,191.2 1324.3,192.4 1324.8,193.6 1325.4,194.8 1325.9,196.2 1326.4,197.7 1327,199.2 1327.5,200.8 1328,202.4 1328.6,204 1329.1,205.7 1329.7,207.3 1330.2,208.9 1330.7,210.5 1331.3,211.9 1331.8,213.3 1332.3,214.7 1332.9,216 1333.4,217.3 1333.9,218.5 1334.5,219.8 1335,221 1335.6,222.2 1336.1,223.4 1336.6,224.6 1337.2,225.7 1337.7,226.9 1338.2,228 1338.8,229.2 1339.3,230.4 1339.8,231.5 1340.4,232.7 1340.9,233.9 1341.5,235.1 1342,236.3 1342.5,237.4 1343.1,238.6 1343.6,239.8 1344.1,241 1344.7,242.2 1345.2,243.4 1345.8,244.6 1346.3,245.8 1346.8,246.9 1347.4,248.1 1347.9,249.2 1348.4,250.4 1349,251.5 1349.5,252.6 1350,253.7 1350.6,254.8 1351.1,255.9 1351.7,256.9 1352.2,258 1352.7,259 1353.3,260 1353.8,261 1354.3,262 1354.9,263 1355.4,264 1355.9,265 1356.5,266 1357,266.9 1357.6,267.9 1358.1,268.8 1358.6,269.8 1359.2,270.7 1359.7,271.7 1360.2,272.6 1360.8,273.5 1361.3,274.4 1361.9,275.3 1362.4,276.2 1362.9,277.1 1363.5,278 1364,278.9 1364.5,279.8 1365.1,280.7 1365.6,281.6 1366.1,282.5 1366.7,283.4 1367.2,284.2 1367.8,285.1 1368.3,286 1368.8,286.8 1369.4,287.7 1369.9,288.5 1370.4,289.4 1371,290.2 1371.5,291.1 1372,291.9 1372.6,292.8 1373.1,293.6 1373.7,294.4 1374.2,295.2 1374.7,296 1375.3,296.9 1375.8,297.7 1376.3,298.5 1376.9,299.3 1377.4,300.1 1378,300.9 1378.5,301.7 1379,302.5 1379.6,303.2 1380.1,304 1380.6,304.8 1381.2,305.6 1381.7,306.4 1382.2,307.1 1382.8,307.9 1383.3,308.7 1383.9,309.4 1384.4,310.2 1384.9,311 1385.5,311.7 1386,312.5 1386.5,313.2 1387.1,314 1387.6,314.7 1388.1,315.5 1388.7,316.2 1389.2,317 1389.8,317.7 1390.3,318.5 1390.8,319.2 1391.4,320 1391.9,320.7 1392.4,321.4 1393,322.1 1393.5,322.9 1394,323.6 1394.6,324.3 1395.1,325 1395.7,325.7 1396.2,326.4 1396.7,327.1 1397.3,327.8 1397.8,328.5 1398.3,329.2 1398.9,329.9 1399.4,330.6 1400,331.3 1400.5,331.9 1401,332.6 1401.6,333.2 1402.1,333.9 1402.6,334.5 1403.2,335.2 1403.7,335.8 1404.2,336.5 1404.8,337.1 1405.3,337.7 1405.9,338.4 1406.4,339 1406.9,339.6 1407.5,340.2 1408,340.9 1408.5,341.5 1409.1,342.1 1409.6,342.7 1410.1,343.3 1410.7,343.9 1411.2,344.5 1411.8,345.1 1412.3,345.7 1412.8,346.3 1413.4,346.9 1413.9,347.5 1414.4,348.1 1415,348.7 1415.5,349.3 1416.1,349.8 1416.6,350.4 1417.1,351 1417.7,351.5 1418.2,352.1 1418.7,352.6 1419.3,353.2 1419.8,353.7 1420.3,354.3 1420.9,354.8 1421.4,355.4 1422,355.9 1422.5,356.4 1423,357 1423.6,357.5 1424.1,358"/><polyline id="c1" points="848.3,519.4 848.8,445.2 849.4,389.5 849.9,423.4 850.4,538.6 851,397 851.5,389.7 852.1,381.6 852.6,477.5 853.1,428.9 853.7,530.4 854.2,532.8 854.7,446.1 855.3,444.2 855.8,403.2 856.3,455.4 856.9,410.5 857.4,423.7 858,483.6 858.5,533.9 859,521.7 859.6,535 860.1,392.4 860.6,538.6 861.2,461.9 861.7,447.3 862.3,521.7 862.8,456.4 863.3,492.7 863.9,388.9 864.4,381.7 864.9,412.6 865.5,537.3 866,382.5 866.5,501.2 867.1,537.1 867.6,527.4 868.2,427.1 868.7,449.1 869.2,430.4 869.8,531.6 870.3,539 870.8,523.9 871.4,406.3 871.9,487.8 872.4,393.7 873,495.1 873.5,521.9 874.1,485.4 874.6,385.4 875.1,509.7 875.7,390.3 876.2,508.6 876.7,538.4 877.3,535.6 877.8,472.5 878.4,385.7 878.9,537.7 879.4,414.2 880,391.5 880.5,422 881,401.1 881.6,391.3 882.1,528.4 882.6,399.2 883.2,539 883.7,460.5 884.3,407.4 884.8,413.6 885.3,483.5 885.9,529.9 886.4,381.7 886.9,538.1 887.5,431.1 888,381.9 888.5,397.1 889.1,387.3 889.6,396.8 890.2,519.5 890.7,440.3 891.2,491.4 891.8,384.2 892.3,476.7 892.8,526.3 893.4,528.8 893.9,491.1 894.4,395.8 895,450.6 895.5,498.4 896.1,444.4 896.6,404.5 897.1,510.7 897.7,538.8 898.2,538.7 898.7,532 899.3,459.1 899.8,383.8 900.4,531.1 900.9,391.8 901.4,538.9 902,433.1 902.5,382 903,409.1 903.6,417.6 904.1,392.5 904.6,391.7 905.2,503.9 905.7,485.8 906.3,411 906.8,494.4 907.3,486.7 907.9,382 908.4,425.5 908.9,478.3 909.5,489.1 910,458.8 910.5,396.3 911.1,407.2 911.6,534.8 912.2,415.7 912.7,496 913.2,400.9 913.8,537.9 914.3,458.6 914.8,384.7 915.4,390.4 915.9,403.6 916.5,394.1 917,381.8 917.5,434.5 918.1,535.7 918.6,443.7 919.1,429.7 919.7,501.5 920.2,440.3 920.7,423.3 921.3,538.6 921.8,472.1 922.4,396.8 922.9,381.4 923.4,383.9 924,381.5 924.5,392.9 925,460 925.6,538.2 926.1,450.4 926.6,404.9 927.2,535.7 927.7,382.7 928.3,530.8 928.8,426.6 929.3,415 929.9,530.4 930.4,511.5 930.9,440.6 931.5,401.4 932,391.2 932.6,397 933.1,427 933.6,492.1 934.2,538.9 934.7,457.7 935.2,386.5 935.8,527.8 936.3,424.6 936.8,479.2 937.4,433.2 937.9,516 938.5,381.4 939,498.2 939.5,522.1 940.1,421.6 940.6,381.5 941.1,407.2 941.7,440.3 942.2,454 942.7,444.1 943.3,413.6 943.8,383.2 944.4,405.5 944.9,500.9 945.4,526.5 946,399.2 946.5,453.2 947,515.7 947.6,386.9 948.1,536.8 948.6,386.7 949.2,516.6 949.7,450.3 950.3,403.1 950.8,531.5 951.3,485.7 951.9,390.2 952.4,399.5 952.9,463 953.5,511 954,531 954.6,535.9 955.1,534 955.6,521.9 956.2,487 956.7,426.4 957.2,381.8 957.8,428.4 958.3,529.4 958.8,487.6 959.4,381.4 959.9,505.3 960.5,471.7 961,410.5 961.5,526.5 962.1,389.8 962.6,526.2 963.1,411.1 963.7,471.3 964.2,504.5 964.7,381.4 965.3,494.7 965.8,521.7 966.4,409.5 966.9,391.9 967.4,472.1 968,532.4 968.5,532.8 969,501.2 969.6,469.1 970.1,449.7 970.7,444.8 971.2,454.2 971.7,477.9 972.3,511.5 972.8,537.4 973.3,523.6 973.9,454.2 974.4,385.2 974.9,420.7 975.5,526.6 976,494.2 976.6,382.3 977.1,483.5 977.6,508 978.2,382.1 978.7,529.4 979.2,415.7 979.8,482.6 980.3,449.9 980.8,470.3 981.4,438.5 981.9,503.5 982.5,392.5 983,538.8 983.5,406.1 984.1,449.4 984.6,532.9 985.1,404.6 985.7,419.6 986.2,531.7 986.7,495.7 987.3,396.9 987.8,396.3 988.4,474.6 988.9,533 989.4,530.5 990,488.9 990.5,442.4 991,409.5 991.6,392.2 992.1,385.2 992.7,383.3 993.2,383.9 993.7,387.9 994.3,399.2 994.8,423.3 995.3,462.6 995.9,508.9 996.4,538.1 996.9,519.6 997.5,449.9 998,386 998.6,409.4 999.1,506.1 999.6,529.9 1000.2,425.5 1000.7,392.5 1001.2,512.5 1001.8,501.4 1002.3,382.3 1002.8,487.7 1003.4,505.1 1003.9,381.8 1004.5,522.8 1005,439.9 1005.5,437.2 1006.1,514.2 1006.6,389.4 1007.1,537.6 1007.7,381.4 1008.2,538.9 1008.8,381.4 1009.3,538.7 1009.8,384.7 1010.4,525.7 1010.9,416.1 1011.4,469.3 1012,494.6 1012.5,389.7 1013,536 1013.6,425 1014.1,425.9 1014.7,538.4 1015.2,415.1 1015.7,418.5 1016.3,536.8 1016.8,459.7 1017.3,382.5 1017.9,479.5 1018.4,536.6 1018.9,446.8 1019.5,381.4 1020,443.2 1020.6,528.4 1021.1,522.4 1021.6,444.3 1022.2,385.7 1022.7,396.7 1023.2,456.7 1023.8,515.4 1024.3,538.9 1024.9,523.8 1025.4,485.8 1025.9,443.9 1026.5,410.7 1027,390.7 1027.5,382.3 1028.1,381.9 1028.6,385.3 1029.1,389.4 1029.7,392 1030.2,392.4 1030.8,390.3 1031.3,386.5 1031.8,382.7 1032.4,381.6 1032.9,386.6 1033.4,401.5 1034,428.3 1034.5,465.4 1035,505.2 1035.6,533.9 1036.1,535.6 1036.7,502.1 1037.2,443.7 1037.7,392.3 1038.3,386.2 1038.8,438.3 1039.3,511.6 1039.9,537.6 1040.4,482.2 1040.9,399.6 1041.5,392 1042,478.1 1042.6,539 1043.1,475.5 1043.6,385.6 1044.2,429 1044.7,531.6 1045.2,491.9 1045.8,386 1046.3,442.8 1046.9,538.9 1047.4,447.8 1047.9,388.1 1048.5,512 1049,498.5 1049.5,382 1050.1,484.1 1050.6,516.4 1051.1,384.6 1051.7,480.4 1052.2,512.7 1052.8,381.8 1053.3,502.2 1053.8,483.4 1054.4,389.3 1054.9,534.8 1055.4,422.2 1056,444.9 1056.5,519.6 1057,381.8 1057.6,530 1058.1,419.1 1058.7,463.8 1059.2,492.3 1059.7,401.2 1060.3,534.6 1060.8,381.4 1061.3,534.6 1061.9,395.8 1062.4,511.7 1063,422.2 1063.5,485.7 1064,445.3 1064.6,467 1065.1,458.9 1065.6,458.6 1066.2,462 1066.7,460.8 1067.2,454.7 1067.8,473.2 1068.3,437.4 1068.9,494.7 1069.4,412.9 1069.9,520.3 1070.5,389.3 1071,537.9 1071.5,382.3 1072.1,529.7 1072.6,409.1 1073.1,483.6 1073.7,470.5 1074.2,416.2 1074.8,529.8 1075.3,381.4 1075.8,526.2 1076.4,428.2 1076.9,445.8 1077.4,517.4 1078,381.8 1078.5,526.1 1079,438.3 1079.6,425.6 1080.1,534.1 1080.7,388.6 1081.2,485.5 1081.7,498.7 1082.3,382.9 1082.8,521 1083.3,462.5 1083.9,395.4 1084.4,534.1 1085,442 1085.5,405.2 1086,536.9 1086.6,438 1087.1,404.2 1087.6,535.1 1088.2,449.8 1088.7,393.5 1089.2,525.1 1089.8,477.4 1090.3,382.2 1090.9,497 1091.4,514.7 1091.9,389.7 1092.5,445.7 1093,538.8 1093.5,436 1094.1,392.3 1094.6,512.8 1095.1,508.6 1095.7,391.1 1096.2,432.4 1096.8,536.8 1097.3,470.8 1097.8,381.5 1098.4,461.4 1098.9,538.8 1099.4,453 1100,381.8 1100.5,467.9 1101.1,538.8 1101.6,457.6 1102.1,381.4 1102.7,452.3 1103.2,537.5 1103.7,483.6 1104.3,388.5 1104.8,417.8 1105.3,519.2 1105.9,521.8 1106.4,423.3 1107,384.6 1107.5,466 1108,538.1 1108.6,490.7 1109.1,397.6 1109.6,397.4 1110.2,488.4 1110.7,538.8 1111.2,479 1111.8,393.6 1112.3,398.4 1112.9,484.9 1113.4,538.9 1113.9,492.4 1114.5,405.9 1115,386.4 1115.5,455.7 1116.1,529.9 1116.6,523.2 1117.1,445.2 1117.7,384.4 1118.2,406.3 1118.8,485.4 1119.3,537.7 1119.8,510.7 1120.4,433.4 1120.9,382.9 1121.4,406.6 1122,480.3 1122.5,535 1123.1,522.4 1123.6,455.5 1124.1,393.2 1124.7,387.3 1125.2,440.9 1125.7,509.3 1126.3,539 1126.8,508.7 1127.3,442.8 1127.9,390.1 1128.4,387.3 1129,434.5 1129.5,498.4 1130,536.8 1130.6,526.2 1131.1,474.9 1131.6,415.3 1132.2,382.7 1132.7,395.4 1133.2,445.9 1133.8,504.4 1134.3,537.4 1134.9,526.8 1135.4,479.5 1135.9,422 1136.5,385.4 1137,388.4 1137.5,430 1138.1,487.6 1138.6,529.6 1139.2,537.7 1139.7,515.1 1140.2,476 1140.8,433.3 1141.3,398.2 1141.8,381.6 1142.4,394 1142.9,437 1143.4,491.4 1144,529.9 1144.5,538.4 1145.1,521.6 1145.6,489.7 1146.1,452 1146.7,416.5 1147.2,390.6 1147.7,381.5 1148.3,396.1 1148.8,435.2 1149.3,484.8 1149.9,523.6 1150.4,538.8 1151,531.8 1151.5,507.6 1152,472.5 1152.6,435.1 1153.1,403.8 1153.6,385.1 1154.2,382.3 1154.7,394.4 1155.3,417 1155.8,445.4 1156.3,475.5 1156.9,503.1 1157.4,524.9 1157.9,537.3 1158.5,537.2 1159,523.3 1159.5,497.6 1160.1,464.9 1160.6,431.7 1161.2,404.2 1161.7,386.8 1162.2,381.4 1162.8,387.2 1163.3,401.7 1163.8,421.9 1164.4,445.3 1164.9,469.6 1165.4,492.6 1166,512.8 1166.5,528.2 1167.1,537.2 1167.6,538.4 1168.1,530.4 1168.7,513.2 1169.2,488.7 1169.7,460.1 1170.3,431.8 1170.8,407.9 1171.3,391.1 1171.9,382.6 1172.4,382 1173,387.8 1173.5,398.8 1174,413.8 1174.6,431.3 1175.1,450.1 1175.6,469.2 1176.2,487.5 1176.7,504.1 1177.3,518.2 1177.8,529.2 1178.3,536.3 1178.9,539 1179.4,536.9 1179.9,529.7 1180.5,517.9 1181,502.2 1181.5,483.5 1182.1,463.4 1182.6,443.3 1183.2,424.6 1183.7,408.4 1184.2,395.7 1184.8,387 1185.3,382.4 1185.8,381.5 1186.4,384 1186.9,389.5 1187.4,397.5 1188,407.5 1188.5,419.2 1189.1,432 1189.6,445.4 1190.1,459.1 1190.7,472.5 1191.2,485.4 1191.7,497.5 1192.3,508.4 1192.8,517.9 1193.4,525.8 1193.9,532 1194.4,536.3 1195,538.6 1195.5,538.9 1196,537.1 1196.6,533.4 1197.1,527.8 1197.6,520.6 1198.2,512 1198.7,502.2 1199.3,491.5 1199.8,480.2 1200.3,468.5 1200.9,456.8 1201.4,445.2 1201.9,434.2 1202.5,423.7 1203,414.2 1203.5,405.7 1204.1,398.4 1204.6,392.3 1205.2,387.6 1205.7,384.2 1206.2,382.1 1206.8,381.4 1207.3,381.9 1207.8,383.7 1208.4,386.6 1208.9,390.6 1209.4,395.5 1210,401.3 1210.5,407.9 1211.1,415.1 1211.6,422.8 1212.1,430.9 1212.7,439.3 1213.2,447.8 1213.7,456.4 1214.3,464.9 1214.8,473.3 1215.4,481.4 1215.9,489.1 1216.4,496.5 1217,503.4 1217.5,509.7 1218,515.5 1218.6,520.7 1219.1,525.2 1219.6,529.1 1220.2,532.3 1220.7,534.9 1221.3,536.9 1221.8,538.2 1222.3,538.9 1222.9,539 1223.4,538.5 1223.9,537.5 1224.5,536 1225,534.1 1225.5,531.6 1226.1,528.8 1226.6,525.6 1227.2,522 1227.7,518.1 1228.2,513.9 1228.8,509.4 1229.3,504.7 1229.8,499.9 1230.4,494.9 1230.9,489.8 1231.5,484.5 1232,479.2 1232.5,473.9 1233.1,468.6 1233.6,463.3 1234.1,458 1234.7,452.8 1235.2,447.7 1235.7,442.6 1236.3,437.7 1236.8,433 1237.4,428.3 1237.9,423.9 1238.4,419.6 1239,415.6 1239.5,411.7 1240,408 1240.6,404.6 1241.1,401.3 1241.6,398.4 1242.2,395.6 1242.7,393.1 1243.3,390.8 1243.8,388.8 1244.3,387 1244.9,385.5 1245.4,384.2 1245.9,383.2 1246.5,382.4 1247,381.8 1247.5,381.5 1248.1,381.4 1248.6,381.5 1249.2,381.7 1249.7,382.1 1250.2,382.6 1250.8,383.3 1251.3,384.1 1251.8,385 1252.4,386.2 1252.9,387.5 1253.5,389 1254,390.6 1254.5,392.4 1255.1,394.3 1255.6,396.3 1256.1,398.5 1256.7,400.7 1257.2,403 1257.7,405.5 1258.3,407.9 1258.8,410.4 1259.4,413 1259.9,415.7 1260.4,418.3 1261,421.1 1261.5,423.8 1262,426.7 1262.6,429.5 1263.1,432.4 1263.6,435.4 1264.2,438.4 1264.7,441.4 1265.3,444.4 1265.8,447.3 1266.3,450.3 1266.9,453.2 1267.4,456.1 1267.9,458.9 1268.5,461.6 1269,464.3 1269.6,466.8 1270.1,469.3 1270.6,471.8 1271.2,474.2 1271.7,476.5 1272.2,478.8 1272.8,481.1 1273.3,483.3 1273.8,485.6 1274.4,487.8 1274.9,490 1275.5,492.1 1276,494.3 1276.5,496.4 1277.1,498.5 1277.6,500.5 1278.1,502.6 1278.7,504.6 1279.2,506.5 1279.7,508.4 1280.3,510.3 1280.8,512.1 1281.4,513.9 1281.9,515.6 1282.4,517.3 1283,518.9 1283.5,520.5 1284,522 1284.6,523.4 1285.1,524.8 1285.7,526.1 1286.2,527.4 1286.7,528.5 1287.3,529.6 1287.8,530.7 1288.3,531.6 1288.9,532.5 1289.4,533.3 1289.9,534.1 1290.5,534.7 1291,535.3 1291.6,535.9 1292.1,536.3 1292.6,536.8 1293.2,537.1 1293.7,537.5 1294.2,537.8 1294.8,538 1295.3,538.2 1295.8,538.4 1296.4,538.5 1296.9,538.6 1297.5,538.7 1298,538.7 1298.5,538.7 1299.1,538.6 1299.6,538.6 1300.1,538.5 1300.7,538.4 1301.2,538.3 1301.7,538.1 1302.3,538 1302.8,537.8 1303.4,537.6 1303.9,537.4 1304.4,537.2 1305,537 1305.5,536.8 1306,536.6 1306.6,536.4 1307.1,536.3 1307.7,536.1 1308.2,535.9 1308.7,535.7 1309.3,535.5 1309.8,535.4 1310.3,535.3 1310.9,535.1 1311.4,535 1311.9,534.9 1312.5,534.9 1313,534.8 1313.6,534.8 1314.1,534.8 1314.6,534.8 1315.2,534.9 1315.7,535 1316.2,535.1 1316.8,535.2 1317.3,535.4 1317.8,535.5 1318.4,535.7 1318.9,535.9 1319.5,536.1 1320,536.3 1320.5,536.5 1321.1,536.7 1321.6,536.9 1322.1,537.1 1322.7,537.3 1323.2,537.5 1323.8,537.7 1324.3,537.8 1324.8,538 1325.4,538.2 1325.9,538.3 1326.4,538.5 1327,538.6 1327.5,538.7 1328,538.8 1328.6,538.9 1329.1,538.9 1329.7,539 1330.2,539 1330.7,539 1331.3,539 1331.8,538.9 1332.3,538.9 1332.9,538.8 1333.4,538.7 1333.9,538.6 1334.5,538.5 1335,538.4 1335.6,538.2 1336.1,538 1336.6,537.9 1337.2,537.7 1337.7,537.5 1338.2,537.3 1338.8,537.1 1339.3,536.9 1339.8,536.7 1340.4,536.5 1340.9,536.3 1341.5,536.1 1342,535.8 1342.5,535.6 1343.1,535.4 1343.6,535.2 1344.1,535 1344.7,534.8 1345.2,534.6 1345.8,534.4 1346.3,534.2 1346.8,534.1 1347.4,533.9 1347.9,533.7 1348.4,533.6 1349,533.4 1349.5,533.2 1350,533.1 1350.6,533 1351.1,532.8 1351.7,532.7 1352.2,532.6 1352.7,532.5 1353.3,532.4 1353.8,532.3 1354.3,532.2 1354.9,532.1 1355.4,532 1355.9,532 1356.5,531.9 1357,531.9 1357.6,531.8 1358.1,531.8 1358.6,531.8 1359.2,531.8 1359.7,531.8 1360.2,531.8 1360.8,531.8 1361.3,531.8 1361.9,531.8 1362.4,531.9 1362.9,531.9 1363.5,532 1364,532 1364.5,532.1 1365.1,532.1 1365.6,532.2 1366.1,532.3 1366.7,532.4 1367.2,532.5 1367.8,532.6 1368.3,532.7 1368.8,532.8 1369.4,532.9 1369.9,533 1370.4,533.1 1371,533.2 1371.5,533.3 1372,533.4 1372.6,533.6 1373.1,533.7 1373.7,533.8 1374.2,534 1374.7,534.1 1375.3,534.2 1375.8,534.4 1376.3,534.5 1376.9,534.6 1377.4,534.8 1378,534.9 1378.5,535.1 1379,535.2 1379.6,535.3 1380.1,535.5 1380.6,535.6 1381.2,535.8 1381.7,535.9 1382.2,536 1382.8,536.2 1383.3,536.3 1383.9,536.4 1384.4,536.6 1384.9,536.7 1385.5,536.8 1386,536.9 1386.5,537 1387.1,537.2 1387.6,537.3 1388.1,537.4 1388.7,537.5 1389.2,537.6 1389.8,537.7 1390.3,537.8 1390.8,537.9 1391.4,538 1391.9,538.1 1392.4,538.1 1393,538.2 1393.5,538.3 1394,538.4 1394.6,538.4 1395.1,538.5 1395.7,538.5 1396.2,538.6 1396.7,538.6 1397.3,538.6 1397.8,538.7 1398.3,538.7 1398.9,538.7 1399.4,538.7 1400,538.7 1400.5,538.7 1401,538.7 1401.6,538.7 1402.1,538.6 1402.6,538.6 1403.2,538.6 1403.7,538.5 1404.2,538.4 1404.8,538.4 1405.3,538.3 1405.9,538.2 1406.4,538.1 1406.9,538 1407.5,537.9 1408,537.8 1408.5,537.6 1409.1,537.5 1409.6,537.4 1410.1,537.2 1410.7,537.1 1411.2,536.9 1411.8,536.7 1412.3,536.5 1412.8,536.3 1413.4,536.1 1413.9,535.9 1414.4,535.7 1415,535.4 1415.5,535.2 1416.1,534.9 1416.6,534.7 1417.1,534.4 1417.7,534.1 1418.2,533.8 1418.7,533.5 1419.3,533.2 1419.8,532.9 1420.3,532.5 1420.9,532.2 1421.4,531.9 1422,531.5 1422.5,531.1 1423,530.7 1423.6,530.3 1424.1,529.9"/></defs>
<g clip-path="url(#ca1)"><use href="#a1" class="lo"/><use href="#a1" class="lb"/></g>
<g clip-path="url(#cc1)"><use href="#c1" class="lo"/><use href="#c1" class="lb"/></g>
<path clip-path="url(#cr1)" d="M848.3,689.4h0M848.8,689.4h0M849.4,689.4h0M849.9,689.4h0M850.4,675.4h0M851,689.4h0M851.5,682.4h0M852.1,696.4h0M852.6,680.2h0M853.1,689.4h0M853.7,689.4h0M854.2,685.3h0M854.7,682.4h0M855.3,685.3h0M855.8,689.4h0M856.3,682.4h0M856.9,689.4h0M857.4,675.4h0M858,682.4h0M858.5,696.4h0M859,675.4h0M859.6,678.3h0M860.1,689.4h0M860.6,675.4h0M861.2,689.4h0M861.7,675.4h0M862.3,685.3h0M862.8,689.4h0M863.3,689.4h0M863.9,682.4h0M864.4,682.4h0M864.9,682.4h0M865.5,682.4h0M866,689.4h0M866.5,689.4h0M867.1,689.4h0M867.6,689.4h0M868.2,689.4h0M868.7,682.4h0M869.2,689.4h0M869.8,675.4h0M870.3,689.4h0M870.8,689.4h0M871.4,689.4h0M871.9,689.4h0M872.4,685.3h0M873,689.4h0M873.5,689.4h0M874.1,678.3h0M874.6,689.4h0M875.1,682.4h0M875.7,689.4h0M876.2,689.4h0M876.7,678.3h0M877.3,685.3h0M877.8,678.3h0M878.4,696.4h0M878.9,682.4h0M879.4,689.4h0M880,685.3h0M880.5,682.4h0M881,689.4h0M881.6,689.4h0M882.1,680.2h0M882.6,682.4h0M883.2,682.4h0M883.7,682.4h0M884.3,689.4h0M884.8,685.3h0M885.3,678.3h0M885.9,689.4h0M886.4,689.4h0M886.9,678.3h0M887.5,682.4h0M888,689.4h0M888.5,689.4h0M889.1,689.4h0M889.6,678.3h0M890.2,682.4h0M890.7,678.3h0M891.2,685.3h0M891.8,673.2h0M892.3,689.4h0M892.8,689.4h0M893.4,682.4h0M893.9,682.4h0M894.4,678.3h0M895,689.4h0M895.5,696.4h0M896.1,685.3h0M896.6,689.4h0M897.1,689.4h0M897.7,689.4h0M898.2,689.4h0M898.7,689.4h0M899.3,682.4h0M899.8,682.4h0M900.4,696.4h0M900.9,689.4h0M901.4,689.4h0M902,689.4h0M902.5,689.4h0M903,682.4h0M903.6,689.4h0M904.1,673.2h0M904.6,682.4h0M905.2,689.4h0M905.7,678.3h0M906.3,689.4h0M906.8,682.4h0M907.3,682.4h0M907.9,689.4h0M908.4,685.3h0M908.9,689.4h0M909.5,696.4h0M910,689.4h0M910.5,678.3h0M911.1,682.4h0M911.6,682.4h0M912.2,689.4h0M912.7,675.4h0M913.2,682.4h0M913.8,682.4h0M914.3,678.3h0M914.8,689.4h0M915.4,689.4h0M915.9,685.3h0M916.5,685.3h0M917,682.4h0M917.5,689.4h0M918.1,689.4h0M918.6,689.4h0M919.1,685.3h0M919.7,682.4h0M920.2,689.4h0M920.7,678.3h0M921.3,689.4h0M921.8,685.3h0M922.4,689.4h0M922.9,685.3h0M923.4,675.4h0M924,678.3h0M924.5,696.4h0M925,675.4h0M925.6,682.4h0M926.1,682.4h0M926.6,689.4h0M927.2,689.4h0M927.7,678.3h0M928.3,685.3h0M928.8,689.4h0M929.3,689.4h0M929.9,689.4h0M930.4,689.4h0M930.9,689.4h0M931.5,682.4h0M932,678.3h0M932.6,682.4h0M933.1,685.3h0M933.6,689.4h0M934.2,696.4h0M934.7,678.3h0M935.2,678.3h0M935.8,678.3h0M936.3,689.4h0M936.8,696.4h0M937.4,685.3h0M937.9,689.4h0M938.5,685.3h0M939,682.4h0M939.5,678.3h0M940.1,685.3h0M940.6,682.4h0M941.1,696.4h0M941.7,689.4h0M942.2,689.4h0M942.7,689.4h0M943.3,678.3h0M943.8,689.4h0M944.4,680.2h0M944.9,689.4h0M945.4,689.4h0M946,689.4h0M946.5,685.3h0M947,678.3h0M947.6,682.4h0M948.1,689.4h0M948.6,689.4h0M949.2,682.4h0M949.7,682.4h0M950.3,689.4h0M950.8,689.4h0M951.3,689.4h0M951.9,689.4h0M952.4,678.3h0M952.9,678.3h0M953.5,689.4h0M954,689.4h0M954.6,689.4h0M955.1,696.4h0M955.6,685.3h0M956.2,675.4h0M956.7,682.4h0M957.2,689.4h0M957.8,696.4h0M958.3,682.4h0M958.8,682.4h0M959.4,678.3h0M959.9,678.3h0M960.5,682.4h0M961,685.3h0M961.5,689.4h0M962.1,689.4h0M962.6,682.4h0M963.1,682.4h0M963.7,678.3h0M964.2,682.4h0M964.7,689.4h0M965.3,689.4h0M965.8,696.4h0M966.4,689.4h0M966.9,689.4h0M967.4,678.3h0M968,689.4h0M968.5,696.4h0M969,680.2h0M969.6,689.4h0M970.1,685.3h0M970.7,682.4h0M971.2,689.4h0M971.7,685.3h0M972.3,689.4h0M972.8,689.4h0M973.3,696.4h0M973.9,685.3h0M974.4,689.4h0M974.9,689.4h0M975.5,682.4h0M976,682.4h0M976.6,678.3h0M977.1,678.3h0M977.6,685.3h0M978.2,682.4h0M978.7,689.4h0M979.2,685.3h0M979.8,678.3h0M980.3,689.4h0M980.8,682.4h0M981.4,689.4h0M981.9,689.4h0M982.5,685.3h0M983,678.3h0M983.5,689.4h0M984.1,689.4h0M984.6,689.4h0M985.1,689.4h0M985.7,685.3h0M986.2,689.4h0M986.7,689.4h0M987.3,682.4h0M987.8,689.4h0M988.4,682.4h0M988.9,689.4h0M989.4,689.4h0M990,689.4h0M990.5,689.4h0M991,682.4h0M991.6,678.3h0M992.1,682.4h0M992.7,685.3h0M993.2,675.4h0M993.7,689.4h0M994.3,689.4h0M994.8,689.4h0M995.3,685.3h0M995.9,682.4h0M996.4,689.4h0M996.9,678.3h0M997.5,685.3h0M998,682.4h0M998.6,682.4h0M999.1,689.4h0M999.6,682.4h0M1000.2,689.4h0M1000.7,685.3h0M1001.2,682.4h0M1001.8,689.4h0M1002.3,689.4h0M1002.8,689.4h0M1003.4,682.4h0M1003.9,682.4h0M1004.5,685.3h0M1005,682.4h0M1005.5,689.4h0M1006.1,678.3h0M1006.6,689.4h0M1007.1,696.4h0M1007.7,685.3h0M1008.2,685.3h0M1008.8,689.4h0M1009.3,685.3h0M1009.8,682.4h0M1010.4,678.3h0M1010.9,696.4h0M1011.4,682.4h0M1012,675.4h0M1012.5,689.4h0M1013,678.3h0M1013.6,689.4h0M1014.1,682.4h0M1014.7,689.4h0M1015.2,682.4h0M1015.7,682.4h0M1016.3,689.4h0M1016.8,689.4h0M1017.3,685.3h0M1017.9,689.4h0M1018.4,682.4h0M1018.9,682.4h0M1019.5,689.4h0M1020,678.3h0M1020.6,682.4h0M1021.1,678.3h0M1021.6,696.4h0M1022.2,689.4h0M1022.7,689.4h0M1023.2,689.4h0M1023.8,682.4h0M1024.3,675.4h0M1024.9,682.4h0M1025.4,689.4h0M1025.9,678.3h0M1026.5,689.4h0M1027,685.3h0M1027.5,682.4h0M1028.1,682.4h0M1028.6,678.3h0M1029.1,689.4h0M1029.7,689.4h0M1030.2,689.4h0M1030.8,689.4h0M1031.3,685.3h0M1031.8,689.4h0M1032.4,678.3h0M1032.9,682.4h0M1033.4,682.4h0M1034,675.4h0M1034.5,682.4h0M1035,682.4h0M1035.6,689.4h0M1036.1,678.3h0M1036.7,680.2h0M1037.2,682.4h0M1037.7,689.4h0M1038.3,682.4h0M1038.8,689.4h0M1039.3,689.4h0M1039.9,685.3h0M1040.4,682.4h0M1040.9,678.3h0M1041.5,689.4h0M1042,689.4h0M1042.6,689.4h0M1043.1,682.4h0M1043.6,682.4h0M1044.2,689.4h0M1044.7,680.2h0M1045.2,689.4h0M1045.8,682.4h0M1046.3,682.4h0M1046.9,678.3h0M1047.4,685.3h0M1047.9,696.4h0M1048.5,682.4h0M1049,689.4h0M1049.5,682.4h0M1050.1,678.3h0M1050.6,682.4h0M1051.1,678.3h0M1051.7,689.4h0M1052.2,689.4h0M1052.8,689.4h0M1053.3,682.4h0M1053.8,689.4h0M1054.4,675.4h0M1054.9,689.4h0M1055.4,682.4h0M1056,682.4h0M1056.5,689.4h0M1057,682.4h0M1057.6,678.3h0M1058.1,689.4h0M1058.7,689.4h0M1059.2,689.4h0M1059.7,685.3h0M1060.3,678.3h0M1060.8,689.4h0M1061.3,675.4h0M1061.9,682.4h0M1062.4,682.4h0M1063,682.4h0M1063.5,675.4h0M1064,689.4h0M1064.6,685.3h0M1065.1,689.4h0M1065.6,678.3h0M1066.2,685.3h0M1066.7,689.4h0M1067.2,689.4h0M1067.8,678.3h0M1068.3,689.4h0M1068.9,685.3h0M1069.4,682.4h0M1069.9,682.4h0M1070.5,682.4h0M1071,682.4h0M1071.5,682.4h0M1072.1,682.4h0M1072.6,685.3h0M1073.1,682.4h0M1073.7,689.4h0M1074.2,689.4h0M1074.8,689.4h0M1075.3,689.4h0M1075.8,682.4h0M1076.4,689.4h0M1076.9,678.3h0M1077.4,689.4h0M1078,685.3h0M1078.5,682.4h0M1079,682.4h0M1079.6,696.4h0M1080.1,682.4h0M1080.7,675.4h0M1081.2,689.4h0M1081.7,682.4h0M1082.3,682.4h0M1082.8,689.4h0M1083.3,675.4h0M1083.9,678.3h0M1084.4,682.4h0M1085,696.4h0M1085.5,682.4h0M1086,689.4h0M1086.6,689.4h0M1087.1,680.2h0M1087.6,689.4h0M1088.2,689.4h0M1088.7,682.4h0M1089.2,682.4h0M1089.8,682.4h0M1090.3,689.4h0M1090.9,682.4h0M1091.4,682.4h0M1091.9,675.4h0M1092.5,673.2h0M1093,682.4h0M1093.5,689.4h0M1094.1,689.4h0M1094.6,689.4h0M1095.1,689.4h0M1095.7,689.4h0M1096.2,682.4h0M1096.8,689.4h0M1097.3,682.4h0M1097.8,689.4h0M1098.4,689.4h0M1098.9,675.4h0M1099.4,682.4h0M1100,689.4h0M1100.5,682.4h0M1101.1,682.4h0M1101.6,682.4h0M1102.1,685.3h0M1102.7,682.4h0M1103.2,682.4h0M1103.7,682.4h0M1104.3,689.4h0M1104.8,682.4h0M1105.3,689.4h0M1105.9,689.4h0M1106.4,682.4h0M1107,689.4h0M1107.5,682.4h0M1108,682.4h0M1108.6,675.4h0M1109.1,689.4h0M1109.6,682.4h0M1110.2,689.4h0M1110.7,678.3h0M1111.2,696.4h0M1111.8,689.4h0M1112.3,689.4h0M1112.9,682.4h0M1113.4,689.4h0M1113.9,682.4h0M1114.5,689.4h0M1115,685.3h0M1115.5,678.3h0M1116.1,682.4h0M1116.6,682.4h0M1117.1,682.4h0M1117.7,689.4h0M1118.2,689.4h0M1118.8,682.4h0M1119.3,689.4h0M1119.8,689.4h0M1120.4,675.4h0M1120.9,696.4h0M1121.4,689.4h0M1122,689.4h0M1122.5,689.4h0M1123.1,678.3h0M1123.6,682.4h0M1124.1,678.3h0M1124.7,689.4h0M1125.2,673.2h0M1125.7,680.2h0M1126.3,678.3h0M1126.8,689.4h0M1127.3,689.4h0M1127.9,682.4h0M1128.4,689.4h0M1129,673.2h0M1129.5,689.4h0M1130,685.3h0M1130.6,689.4h0M1131.1,689.4h0M1131.6,689.4h0M1132.2,689.4h0M1132.7,689.4h0M1133.2,685.3h0M1133.8,682.4h0M1134.3,682.4h0M1134.9,682.4h0M1135.4,685.3h0M1135.9,682.4h0M1136.5,682.4h0M1137,689.4h0M1137.5,682.4h0M1138.1,682.4h0M1138.6,682.4h0M1139.2,689.4h0M1139.7,689.4h0M1140.2,682.4h0M1140.8,689.4h0M1141.3,689.4h0M1141.8,689.4h0M1142.4,689.4h0M1142.9,682.4h0M1143.4,673.2h0M1144,678.3h0M1144.5,689.4h0M1145.1,685.3h0M1145.6,689.4h0M1146.1,675.4h0M1146.7,682.4h0M1147.2,682.4h0M1147.7,696.4h0M1148.3,682.4h0M1148.8,689.4h0M1149.3,689.4h0M1149.9,685.3h0M1150.4,682.4h0M1151,689.4h0M1151.5,682.4h0M1152,689.4h0M1152.6,689.4h0M1153.1,685.3h0M1153.6,678.3h0M1154.2,675.4h0M1154.7,689.4h0M1155.3,689.4h0M1155.8,689.4h0M1156.3,689.4h0M1156.9,678.3h0M1157.4,682.4h0M1157.9,682.4h0M1158.5,682.4h0M1159,689.4h0M1159.5,689.4h0M1160.1,689.4h0M1160.6,685.3h0M1161.2,689.4h0M1161.7,685.3h0M1162.2,689.4h0M1162.8,682.4h0M1163.3,678.3h0M1163.8,678.3h0M1164.4,689.4h0M1164.9,689.4h0M1165.4,675.4h0M1166,689.4h0M1166.5,678.3h0M1167.1,689.4h0M1167.6,689.4h0M1168.1,689.4h0M1168.7,689.4h0M1169.2,685.3h0M1169.7,685.3h0M1170.3,682.4h0M1170.8,685.3h0M1171.3,675.4h0M1171.9,682.4h0M1172.4,685.3h0M1173,680.2h0M1173.5,675.4h0M1174,689.4h0M1174.6,678.3h0M1175.1,678.3h0M1175.6,682.4h0M1176.2,685.3h0M1176.7,685.3h0M1177.3,682.4h0M1177.8,682.4h0M1178.3,682.4h0M1178.9,678.3h0M1179.4,678.3h0M1179.9,671.3h0M1180.5,689.4h0M1181,682.4h0M1181.5,689.4h0M1182.1,673.2h0M1182.6,685.3h0M1183.2,689.4h0M1183.7,682.4h0M1184.2,689.4h0M1184.8,682.4h0M1185.3,685.3h0M1185.8,682.4h0M1186.4,689.4h0M1186.9,689.4h0M1187.4,678.3h0M1188,678.3h0M1188.5,689.4h0M1189.1,682.4h0M1189.6,682.4h0M1190.1,682.4h0M1190.7,682.4h0M1191.2,689.4h0M1191.7,689.4h0M1192.3,682.4h0M1192.8,680.2h0M1193.4,682.4h0M1193.9,689.4h0M1194.4,689.4h0M1195,682.4h0M1195.5,680.2h0M1196,682.4h0M1196.6,689.4h0M1197.1,689.4h0M1197.6,689.4h0M1198.2,689.4h0M1198.7,682.4h0M1199.3,689.4h0M1199.8,689.4h0M1200.3,675.4h0M1200.9,682.4h0M1201.4,678.3h0M1201.9,682.4h0M1202.5,682.4h0M1203,685.3h0M1203.5,689.4h0M1204.1,682.4h0M1204.6,682.4h0M1205.2,689.4h0M1205.7,682.4h0M1206.2,675.4h0M1206.8,689.4h0M1207.3,689.4h0M1207.8,682.4h0M1208.4,678.3h0M1208.9,689.4h0M1209.4,689.4h0M1210,689.4h0M1210.5,685.3h0M1211.1,689.4h0M1211.6,689.4h0M1212.1,689.4h0M1212.7,675.4h0M1213.2,689.4h0M1213.7,689.4h0M1214.3,689.4h0M1214.8,689.4h0M1215.4,682.4h0M1215.9,689.4h0M1216.4,682.4h0M1217,680.2h0M1217.5,689.4h0M1218,689.4h0M1218.6,689.4h0M1219.1,675.4h0M1219.6,682.4h0M1220.2,682.4h0M1220.7,678.3h0M1221.3,682.4h0M1221.8,682.4h0M1222.3,689.4h0M1222.9,689.4h0M1223.4,685.3h0M1223.9,689.4h0M1224.5,682.4h0M1225,673.2h0M1225.5,682.4h0M1226.1,678.3h0M1226.6,689.4h0M1227.2,689.4h0M1227.7,675.4h0M1228.2,689.4h0M1228.8,682.4h0M1229.3,696.4h0M1229.8,678.3h0M1230.4,682.4h0M1230.9,682.4h0M1231.5,689.4h0M1232,689.4h0M1232.5,689.4h0M1233.1,678.3h0M1233.6,689.4h0M1234.1,689.4h0M1234.7,682.4h0M1235.2,682.4h0M1235.7,685.3h0M1236.3,685.3h0M1236.8,689.4h0M1237.4,689.4h0M1237.9,689.4h0M1238.4,689.4h0M1239,678.3h0M1239.5,682.4h0M1240,682.4h0M1240.6,673.2h0M1241.1,689.4h0M1241.6,685.3h0M1242.2,682.4h0M1242.7,682.4h0M1243.3,689.4h0M1243.8,689.4h0M1244.3,689.4h0M1244.9,689.4h0M1245.4,689.4h0M1245.9,689.4h0M1246.5,689.4h0M1247,682.4h0M1247.5,689.4h0M1248.1,685.3h0M1248.6,682.4h0M1249.2,689.4h0M1249.7,689.4h0M1250.2,682.4h0M1250.8,689.4h0M1251.3,685.3h0M1251.8,689.4h0M1252.4,673.2h0M1252.9,689.4h0M1253.5,682.4h0M1254,673.2h0M1254.5,689.4h0M1255.1,671.3h0M1255.6,689.4h0M1256.1,685.3h0M1256.7,685.3h0M1257.2,689.4h0M1257.7,689.4h0M1258.3,689.4h0M1258.8,682.4h0M1259.4,689.4h0M1259.9,689.4h0M1260.4,689.4h0M1261,682.4h0M1261.5,689.4h0M1262,680.2h0M1262.6,689.4h0M1263.1,682.4h0M1263.6,678.3h0M1264.2,689.4h0M1264.7,689.4h0M1265.3,682.4h0M1265.8,682.4h0M1266.3,689.4h0M1266.9,689.4h0M1267.4,678.3h0M1267.9,678.3h0M1268.5,683.9h0M1269,687.1h0M1269.6,691.7h0M1270.1,702.9h0M1270.6,680.6h0M1271.2,707.8h0M1271.7,682.9h0M1272.2,694.1h0M1272.8,695.5h0M1273.3,673.7h0M1273.8,689.9h0M1274.4,673.2h0M1274.9,681.9h0M1275.5,716.9h0M1276,703.6h0M1276.5,697.5h0M1277.1,699.1h0M1277.6,675.1h0M1278.1,674.3h0M1278.7,675.9h0M1279.2,674.9h0M1279.7,680.4h0M1280.3,676.6h0M1280.8,678.5h0M1281.4,669.2h0M1281.9,668.2h0M1282.4,668.3h0M1283,673h0M1283.5,666h0M1284,667.5h0M1284.6,664.8h0M1285.1,663.4h0M1285.7,661h0M1286.2,660.5h0M1286.7,658.7h0M1287.3,656.8h0M1287.8,655.6h0M1288.3,655.3h0M1288.9,654h0M1289.4,651.8h0M1289.9,651.4h0M1290.5,649.6h0M1291,648.3h0M1291.6,646.9h0M1292.1,645.6h0M1292.6,644.3h0M1293.2,642.9h0M1293.7,641.6h0M1294.2,640.3h0M1294.8,638.9h0M1295.3,637.6h0M1295.8,636.3h0M1296.4,634.9h0M1296.9,633.6h0M1297.5,632.3h0M1298,630.9h0M1298.5,629.6h0M1299.1,628.2h0M1299.6,626.9h0M1300.1,625.6h0M1300.7,624.2h0M1301.2,622.9h0M1301.7,621.6h0M1302.3,620.2h0M1302.8,618.9h0M1303.4,617.6h0M1303.9,616.2h0M1304.4,614.9h0M1305,613.5h0M1305.5,612.2h0M1306,610.9h0M1306.6,609.5h0M1307.1,608.2h0M1307.7,606.9h0M1308.2,605.5h0M1308.7,604.2h0M1309.3,602.9h0M1309.8,601.5h0M1310.3,600.2h0M1310.9,598.8h0M1311.4,597.5h0M1311.9,596.2h0M1312.5,594.8h0M1313,593.5h0M1313.6,592.2h0M1314.1,590.8h0M1314.6,589.5h0M1315.2,588.2h0M1315.7,586.8h0M1316.2,585.3h0M1316.8,584h0M1317.3,582.7h0M1317.8,581.4h0M1318.4,580.1h0M1318.9,578.7h0M1319.5,577.2h0M1320,575.5h0M1320.5,574h0M1321.1,572.9h0M1321.6,572.1h0M1322.1,571.5h0M1322.7,571.7h0M1323.2,573.8h0M1323.8,576.5h0M1324.3,579.6h0M1324.8,584h0M1325.4,592h0M1325.9,599.9h0M1326.4,581h0M1327,575h0M1327.5,571.5h0M1328,569.1h0M1328.6,567.4h0M1329.1,566.1h0M1329.7,565.3h0M1330.2,564.8h0M1330.7,564.6h0M1331.3,564.7h0M1331.8,565h0M1332.3,565.7h0M1332.9,566.7h0M1333.4,568.2h0M1333.9,570.3h0M1334.5,573.2h0M1335,577.8h0M1335.6,587.2h0M1336.1,599.5h0M1336.6,585.7h0M1337.2,579.7h0M1337.7,575.7h0M1338.2,572.7h0M1338.8,570.3h0M1339.3,568.2h0M1339.8,566.4h0M1340.4,564.8h0M1340.9,563.4h0M1341.5,562.1h0M1342,560.9h0M1342.5,559.8h0M1343.1,558.7h0M1343.6,558.3h0M1344.1,558.1h0M1344.7,557.9h0M1345.2,557.7h0M1345.8,557.5h0M1346.3,557.4h0M1346.8,557.2h0M1347.4,557h0M1347.9,556.9h0M1348.4,556.8h0M1349,556.6h0M1349.5,556.5h0M1350,556.4h0M1350.6,556.3h0M1351.1,556.1h0M1351.7,556h0M1352.2,555.9h0M1352.7,555.9h0M1353.3,555.8h0M1353.8,555.7h0M1354.3,555.6h0M1354.9,555.5h0M1355.4,555.5h0M1355.9,555.4h0M1356.5,555.3h0M1357,555.3h0M1357.6,555.2h0M1358.1,555.1h0M1358.6,555.1h0M1359.2,555h0M1359.7,555h0M1360.2,554.9h0M1360.8,554.9h0M1361.3,554.9h0M1361.9,554.8h0M1362.4,554.8h0M1362.9,554.7h0M1363.5,554.7h0M1364,554.7h0M1364.5,554.7h0M1365.1,554.6h0M1365.6,554.6h0M1366.1,554.6h0M1366.7,554.5h0M1367.2,554.5h0M1367.8,554.5h0M1368.3,554.5h0M1368.8,554.5h0M1369.4,554.4h0M1369.9,554.4h0M1370.4,554.4h0M1371,554.4h0M1371.5,554.4h0M1372,554.3h0M1372.6,554.3h0M1373.1,554.3h0M1373.7,554.3h0M1374.2,554.3h0M1374.7,554.3h0M1375.3,554.3h0M1375.8,554.3h0M1376.3,554.2h0M1376.9,554.2h0M1377.4,554.2h0M1378,554.2h0M1378.5,554.2h0M1379,554.2h0M1379.6,554.2h0M1380.1,554.2h0M1380.6,554.2h0M1381.2,554.2h0M1381.7,554.2h0M1382.2,554.1h0M1382.8,554.1h0M1383.3,554.1h0M1383.9,554.1h0M1384.4,554.1h0M1384.9,554.1h0M1385.5,554.1h0M1386,554.1h0M1386.5,554.1h0M1387.1,554.1h0M1387.6,554.1h0M1388.1,554.1h0M1388.7,554.1h0M1389.2,554.1h0M1389.8,554.1h0M1390.3,554.1h0M1390.8,554.1h0M1391.4,554.1h0M1391.9,554.1h0M1392.4,554.1h0M1393,554.1h0M1393.5,554.1h0M1394,554h0M1394.6,554h0M1395.1,554h0M1395.7,554h0M1396.2,554h0M1396.7,554h0M1397.3,554h0M1397.8,554h0M1398.3,554h0M1398.9,554h0M1399.4,554h0M1400,554h0M1400.5,554h0M1401,554h0M1401.6,554h0M1402.1,554h0M1402.6,554h0M1403.2,554h0M1403.7,554h0M1404.2,554h0M1404.8,554h0M1405.3,554h0M1405.9,554h0M1406.4,554h0M1406.9,554h0M1407.5,554h0M1408,554h0M1408.5,554h0M1409.1,554h0M1409.6,554h0M1410.1,554h0M1410.7,554h0M1411.2,554h0M1411.8,554h0M1412.3,554h0M1412.8,554h0M1413.4,554h0M1413.9,554h0M1414.4,554h0M1415,554h0M1415.5,554h0M1416.1,554h0M1416.6,554h0M1417.1,554h0M1417.7,554h0M1418.2,554h0M1418.7,554h0M1419.3,554h0M1419.8,554h0M1420.3,554h0M1420.9,554h0M1421.4,554h0M1422,554h0M1422.5,554h0M1423,554h0M1423.6,554h0M1424.1,554h0" class="d"/>
<rect x="863.6" y="260.6" width="335.8" height="96.8" rx="4.5" fill="#fff" fill-opacity="0.8" stroke="#ccc" stroke-width="1.1"/>
<path d="M876,283.8H940" stroke="#1f77b4" stroke-width="1.65" fill="none"/>
<path d="M873.6,328.3H942.2" stroke="#ff7f0e" stroke-opacity="0.4" stroke-width="6.4" fill="none"/>
<text x="963.8" y="295.4" font-size="29.5" textLength="224" lengthAdjust="spacingAndGlyphs" class="m">GWFAST - WF4Py</text>
<text x="963.8" y="338.9" font-size="29.5" textLength="48" lengthAdjust="spacingAndGlyphs" class="m">LAL</text>
<path d="M848.3,73.3h-3.9M848.3,181.3h-3.9M848.3,289.3h-3.9M848.3,381.4h-3.9M848.3,460.2h-3.9M848.3,539h-3.9M848.3,581.2h-3.9M848.3,627.6h-3.9M848.3,674.1h-3.9M865.6,703.4v2.2M880.2,703.4v2.2M892.9,703.4v2.2M904.1,703.4v2.2M914.1,703.4v3.9M979.9,703.4v2.2M1018.4,703.4v2.2M1045.7,703.4v2.2M1066.9,703.4v2.2M1084.2,703.4v2.2M1098.8,703.4v2.2M1111.5,703.4v2.2M1122.7,703.4v2.2M1132.7,703.4v3.9M1198.5,703.4v2.2M1237,703.4v2.2M1264.3,703.4v2.2M1285.5,703.4v2.2M1302.8,703.4v2.2M1317.4,703.4v2.2M1330.1,703.4v2.2M1341.3,703.4v2.2M1351.3,703.4v3.9M1417.1,703.4v2.2" stroke="#262626" stroke-width="1" fill="none"/>
<path d="M848.3,25.3H1427.8V703.4H848.3ZM848.3,373.4H1427.8M848.3,546.9H1427.8" stroke="#262626" stroke-width="1.1" fill="none"/>
<text x="840.7" y="73.7" font-size="19" text-anchor="end" textLength="33.4" lengthAdjust="spacingAndGlyphs">−23</text>
<text x="806.1" y="83.8" font-size="26.5" text-anchor="end" textLength="28.2" lengthAdjust="spacingAndGlyphs">10</text>
<text x="840.7" y="181.7" font-size="19" text-anchor="end" textLength="33.4" lengthAdjust="spacingAndGlyphs">−25</text>
<text x="806.1" y="191.8" font-size="26.5" text-anchor="end" textLength="28.2" lengthAdjust="spacingAndGlyphs">10</text>
<text x="840.7" y="289.7" font-size="19" text-anchor="end" textLength="33.4" lengthAdjust="spacingAndGlyphs">−27</text>
<text x="806.1" y="299.8" font-size="26.5" text-anchor="end" textLength="28.2" lengthAdjust="spacingAndGlyphs">10</text>
<text x="840.7" y="581.6" font-size="19" text-anchor="end" textLength="33.4" lengthAdjust="spacingAndGlyphs">−11</text>
<text x="806.1" y="591.7" font-size="26.5" text-anchor="end" textLength="28.2" lengthAdjust="spacingAndGlyphs">10</text>
<text x="840.7" y="628" font-size="19" text-anchor="end" textLength="33.4" lengthAdjust="spacingAndGlyphs">−13</text>
<text x="806.1" y="638.1" font-size="26.5" text-anchor="end" textLength="28.2" lengthAdjust="spacingAndGlyphs">10</text>
<text x="840.7" y="674.5" font-size="19" text-anchor="end" textLength="33.4" lengthAdjust="spacingAndGlyphs">−15</text>
<text x="806.1" y="684.6" font-size="26.5" text-anchor="end" textLength="28.2" lengthAdjust="spacingAndGlyphs">10</text>
<text x="842.5" y="390.2" font-size="26.5" text-anchor="end">1</text>
<text x="842.2" y="469" font-size="26.5" text-anchor="end" textLength="15.8" lengthAdjust="spacingAndGlyphs">0</text>
<text x="842.3" y="547.8" font-size="26.5" text-anchor="end" textLength="36.5" lengthAdjust="spacingAndGlyphs">−1</text>
<text x="894.9" y="731.3" font-size="26.5" textLength="28.2" lengthAdjust="spacingAndGlyphs">10</text>
<text x="922.9" y="720.6" font-size="19">1</text>
<text x="1113.5" y="731.3" font-size="26.5" textLength="28.2" lengthAdjust="spacingAndGlyphs">10</text>
<text x="1141.5" y="720.6" font-size="19">2</text>
<text x="1332.1" y="731.3" font-size="26.5" textLength="28.2" lengthAdjust="spacingAndGlyphs">10</text>
<text x="1360.1" y="720.6" font-size="19">3</text>
<text x="1100.8" y="764.2" font-size="31.5" textLength="10.6" lengthAdjust="spacingAndGlyphs" font-style="italic">f</text>
<text x="1122.7" y="764.2" font-size="31.5" textLength="53.6" lengthAdjust="spacingAndGlyphs">(Hz)</text>
<text x="1138" y="19.3" font-size="29.5" text-anchor="middle" textLength="210.2" lengthAdjust="spacingAndGlyphs" class="m">IMRPhenomNSBH</text>
<g transform="translate(768.4,262.8) rotate(-90)">
<text x="2" y="0" font-size="32.0" font-style="italic">A</text>
<text x="23.3" y="7.9" font-size="27.5">+</text>
<text x="44.3" y="0" font-size="31.5" textLength="39.5" lengthAdjust="spacingAndGlyphs">(Hz</text>
<text x="88.5" y="-12.1" font-size="22" textLength="15" lengthAdjust="spacingAndGlyphs">−</text>
<text x="102.6" y="-13" font-size="21.5">1</text>
<text x="114.6" y="0" font-size="31.5">)</text>
</g>
<g transform="translate(793.7,508.7) rotate(-90)">
<text x="0" y="0" font-size="31.5" textLength="48" lengthAdjust="spacingAndGlyphs">cos(</text>
<text x="49.2" y="0" font-size="31.5" textLength="20.5" lengthAdjust="spacingAndGlyphs">Ψ</text>
<text x="70.6" y="6.9" font-size="27.5">+</text>
<text x="87.6" y="0" font-size="31.5">)</text>
</g>
<g transform="translate(769.1,640.3) rotate(-90)">
<text x="0" y="0" font-size="31.5" textLength="33" lengthAdjust="spacingAndGlyphs">res</text>
</g>
<path d="M1610.7,25.3V703.4M1628.7,25.3V703.4M1644.3,25.3V703.4M1658.1,25.3V703.4M1670.4,25.3V703.4M1751.4,25.3V703.4M1798.8,25.3V703.4M1832.4,25.3V703.4M1858.5,25.3V703.4M1879.8,25.3V703.4M1897.8,25.3V703.4M1913.4,25.3V703.4M1927.2,25.3V703.4M1939.5,25.3V703.4M2020.5,25.3V703.4M2067.9,25.3V703.4M2101.5,25.3V703.4M2127.6,25.3V703.4M2148.9,25.3V703.4M2166.9,25.3V703.4" class="g"/>
<path d="M1589.8,87.1H2169.6M1589.8,188.9H2169.6M1589.8,290.6H2169.6M1589.8,381.4H2169.6M1589.8,460.2H2169.6M1589.8,539H2169.6M1589.8,594.9H2169.6M1589.8,646.7H2169.6M1589.8,698.5H2169.6" class="g"/>
<defs><clipPath id="ca2"><rect x="1589.8" y="25.3" width="579.8" height="348.1"/></clipPath><clipPath id="cc2"><rect x="1589.8" y="373.4" width="579.8" height="173.5"/></clipPath><clipPath id="cr2"><rect x="1589.8" y="546.9" width="579.8" height="156.5"/></clipPath>
<polyline id="a2" points="1589.8,40.5 1590.4,40.6 1591,40.7 1591.5,40.8 1592.1,40.9 1592.7,41 1593.3,41.1 1593.9,41.1 1594.4,41.2 1595,41.3 1595.6,41.4 1596.2,41.5 1596.8,41.6 1597.4,41.7 1597.9,41.8 1598.5,41.9 1599.1,42 1599.7,42.1 1600.3,42.2 1600.8,42.2 1601.4,42.3 1602,42.4 1602.6,42.5 1603.2,42.6 1603.7,42.7 1604.3,42.8 1604.9,42.9 1605.5,43 1606.1,43.1 1606.6,43.2 1607.2,43.3 1607.8,43.3 1608.4,43.4 1609,43.5 1609.5,43.6 1610.1,43.7 1610.7,43.8 1611.3,43.9 1611.9,44 1612.5,44.1 1613,44.2 1613.6,44.3 1614.2,44.4 1614.8,44.4 1615.4,44.5 1615.9,44.6 1616.5,44.7 1617.1,44.8 1617.7,44.9 1618.3,45 1618.8,45.1 1619.4,45.2 1620,45.3 1620.6,45.4 1621.2,45.5 1621.7,45.5 1622.3,45.6 1622.9,45.7 1623.5,45.8 1624.1,45.9 1624.6,46 1625.2,46.1 1625.8,46.2 1626.4,46.3 1627,46.4 1627.6,46.5 1628.1,46.6 1628.7,46.7 1629.3,46.7 1629.9,46.8 1630.5,46.9 1631,47 1631.6,47.1 1632.2,47.2 1632.8,47.3 1633.4,47.4 1633.9,47.5 1634.5,47.6 1635.1,47.7 1635.7,47.8 1636.3,47.8 1636.8,47.9 1637.4,48 1638,48.1 1638.6,48.2 1639.2,48.3 1639.7,48.4 1640.3,48.5 1640.9,48.6 1641.5,48.7 1642.1,48.8 1642.7,48.9 1643.2,48.9 1643.8,49 1644.4,49.1 1645,49.2 1645.6,49.3 1646.1,49.4 1646.7,49.5 1647.3,49.6 1647.9,49.7 1648.5,49.8 1649,49.9 1649.6,50 1650.2,50 1650.8,50.1 1651.4,50.2 1651.9,50.3 1652.5,50.4 1653.1,50.5 1653.7,50.6 1654.3,50.7 1654.8,50.8 1655.4,50.9 1656,51 1656.6,51.1 1657.2,51.1 1657.8,51.2 1658.3,51.3 1658.9,51.4 1659.5,51.5 1660.1,51.6 1660.7,51.7 1661.2,51.8 1661.8,51.9 1662.4,52 1663,52.1 1663.6,52.2 1664.1,52.2 1664.7,52.3 1665.3,52.4 1665.9,52.5 1666.5,52.6 1667,52.7 1667.6,52.8 1668.2,52.9 1668.8,53 1669.4,53.1 1669.9,53.2 1670.5,53.3 1671.1,53.3 1671.7,53.4 1672.3,53.5 1672.9,53.6 1673.4,53.7 1674,53.8 1674.6,53.9 1675.2,54 1675.8,54.1 1676.3,54.2 1676.9,54.3 1677.5,54.4 1678.1,54.5 1678.7,54.5 1679.2,54.6 1679.8,54.7 1680.4,54.8 1681,54.9 1681.6,55 1682.1,55.1 1682.7,55.2 1683.3,55.3 1683.9,55.4 1684.5,55.5 1685,55.6 1685.6,55.6 1686.2,55.7 1686.8,55.8 1687.4,55.9 1688,56 1688.5,56.1 1689.1,56.2 1689.7,56.3 1690.3,56.4 1690.9,56.5 1691.4,56.6 1692,56.7 1692.6,56.7 1693.2,56.8 1693.8,56.9 1694.3,57 1694.9,57.1 1695.5,57.2 1696.1,57.3 1696.7,57.4 1697.2,57.5 1697.8,57.6 1698.4,57.7 1699,57.8 1699.6,57.8 1700.1,57.9 1700.7,58 1701.3,58.1 1701.9,58.2 1702.5,58.3 1703.1,58.4 1703.6,58.5 1704.2,58.6 1704.8,58.7 1705.4,58.8 1706,58.9 1706.5,58.9 1707.1,59 1707.7,59.1 1708.3,59.2 1708.9,59.3 1709.4,59.4 1710,59.5 1710.6,59.6 1711.2,59.7 1711.8,59.8 1712.3,59.9 1712.9,60 1713.5,60 1714.1,60.1 1714.7,60.2 1715.2,60.3 1715.8,60.4 1716.4,60.5 1717,60.6 1717.6,60.7 1718.2,60.8 1718.7,60.9 1719.3,61 1719.9,61.1 1720.5,61.1 1721.1,61.2 1721.6,61.3 1722.2,61.4 1722.8,61.5 1723.4,61.6 1724,61.7 1724.5,61.8 1725.1,61.9 1725.7,62 1726.3,62.1 1726.9,62.2 1727.4,62.2 1728,62.3 1728.6,62.4 1729.2,62.5 1729.8,62.6 1730.3,62.7 1730.9,62.8 1731.5,62.9 1732.1,63 1732.7,63.1 1733.3,63.2 1733.8,63.3 1734.4,63.3 1735,63.4 1735.6,63.5 1736.2,63.6 1736.7,63.7 1737.3,63.8 1737.9,63.9 1738.5,64 1739.1,64.1 1739.6,64.2 1740.2,64.3 1740.8,64.4 1741.4,64.5 1742,64.6 1742.5,64.6 1743.1,64.7 1743.7,64.8 1744.3,64.9 1744.9,65 1745.4,65.1 1746,65.2 1746.6,65.3 1747.2,65.4 1747.8,65.5 1748.4,65.6 1748.9,65.7 1749.5,65.8 1750.1,65.9 1750.7,66 1751.3,66.1 1751.8,66.1 1752.4,66.2 1753,66.3 1753.6,66.4 1754.2,66.5 1754.7,66.6 1755.3,66.7 1755.9,66.8 1756.5,66.9 1757.1,67 1757.6,67.1 1758.2,67.2 1758.8,67.3 1759.4,67.4 1760,67.5 1760.5,67.6 1761.1,67.7 1761.7,67.8 1762.3,67.9 1762.9,68 1763.5,68 1764,68.1 1764.6,68.2 1765.2,68.3 1765.8,68.4 1766.4,68.5 1766.9,68.6 1767.5,68.7 1768.1,68.8 1768.7,68.9 1769.3,69 1769.8,69.1 1770.4,69.2 1771,69.3 1771.6,69.4 1772.2,69.5 1772.7,69.6 1773.3,69.7 1773.9,69.8 1774.5,69.9 1775.1,70 1775.6,70.1 1776.2,70.2 1776.8,70.3 1777.4,70.3 1778,70.4 1778.6,70.5 1779.1,70.6 1779.7,70.7 1780.3,70.8 1780.9,70.9 1781.5,71 1782,71.1 1782.6,71.2 1783.2,71.3 1783.8,71.4 1784.4,71.5 1784.9,71.6 1785.5,71.7 1786.1,71.8 1786.7,71.9 1787.3,72 1787.8,72.1 1788.4,72.2 1789,72.3 1789.6,72.4 1790.2,72.5 1790.8,72.6 1791.3,72.7 1791.9,72.7 1792.5,72.8 1793.1,72.9 1793.7,73 1794.2,73.1 1794.8,73.2 1795.4,73.3 1796,73.4 1796.6,73.5 1797.1,73.6 1797.7,73.7 1798.3,73.8 1798.9,73.9 1799.5,74 1800,74.1 1800.6,74.2 1801.2,74.3 1801.8,74.4 1802.4,74.5 1802.9,74.6 1803.5,74.7 1804.1,74.7 1804.7,74.8 1805.3,74.9 1805.9,75 1806.4,75.1 1807,75.2 1807.6,75.3 1808.2,75.4 1808.8,75.5 1809.3,75.6 1809.9,75.7 1810.5,75.8 1811.1,75.9 1811.7,76 1812.2,76.1 1812.8,76.2 1813.4,76.3 1814,76.4 1814.6,76.4 1815.1,76.5 1815.7,76.6 1816.3,76.7 1816.9,76.8 1817.5,76.9 1818,77 1818.6,77.1 1819.2,77.2 1819.8,77.3 1820.4,77.4 1821,77.5 1821.5,77.6 1822.1,77.7 1822.7,77.8 1823.3,77.8 1823.9,77.9 1824.4,78 1825,78.1 1825.6,78.2 1826.2,78.3 1826.8,78.4 1827.3,78.5 1827.9,78.6 1828.5,78.7 1829.1,78.8 1829.7,78.9 1830.2,78.9 1830.8,79 1831.4,79.1 1832,79.2 1832.6,79.3 1833.1,79.4 1833.7,79.5 1834.3,79.6 1834.9,79.7 1835.5,79.8 1836.1,79.9 1836.6,79.9 1837.2,80 1837.8,80.1 1838.4,80.2 1839,80.3 1839.5,80.4 1840.1,80.5 1840.7,80.6 1841.3,80.7 1841.9,80.7 1842.4,80.8 1843,80.9 1843.6,81 1844.2,81.1 1844.8,81.2 1845.3,81.3 1845.9,81.4 1846.5,81.5 1847.1,81.5 1847.7,81.6 1848.2,81.7 1848.8,81.8 1849.4,81.9 1850,82 1850.6,82.1 1851.2,82.2 1851.7,82.2 1852.3,82.3 1852.9,82.4 1853.5,82.5 1854.1,82.6 1854.6,82.7 1855.2,82.8 1855.8,82.8 1856.4,82.9 1857,83 1857.5,83.1 1858.1,83.2 1858.7,83.3 1859.3,83.3 1859.9,83.4 1860.4,83.5 1861,83.6 1861.6,83.7 1862.2,83.8 1862.8,83.9 1863.3,83.9 1863.9,84 1864.5,84.1 1865.1,84.2 1865.7,84.3 1866.3,84.3 1866.8,84.4 1867.4,84.5 1868,84.6 1868.6,84.7 1869.2,84.8 1869.7,84.8 1870.3,84.9 1870.9,85 1871.5,85.1 1872.1,85.2 1872.6,85.2 1873.2,85.3 1873.8,85.4 1874.4,85.5 1875,85.6 1875.5,85.6 1876.1,85.7 1876.7,85.8 1877.3,85.9 1877.9,85.9 1878.4,86 1879,86.1 1879.6,86.2 1880.2,86.3 1880.8,86.3 1881.4,86.4 1881.9,86.5 1882.5,86.6 1883.1,86.6 1883.7,86.7 1884.3,86.8 1884.8,86.9 1885.4,86.9 1886,87 1886.6,87.1 1887.2,87.1 1887.7,87.2 1888.3,87.3 1888.9,87.4 1889.5,87.4 1890.1,87.5 1890.6,87.6 1891.2,87.6 1891.8,87.7 1892.4,87.8 1893,87.9 1893.5,87.9 1894.1,88 1894.7,88.1 1895.3,88.1 1895.9,88.2 1896.5,88.3 1897,88.3 1897.6,88.4 1898.2,88.5 1898.8,88.5 1899.4,88.6 1899.9,88.7 1900.5,88.8 1901.1,88.8 1901.7,88.9 1902.3,89 1902.8,89 1903.4,89.1 1904,89.2 1904.6,89.2 1905.2,89.3 1905.7,89.4 1906.3,89.5 1906.9,89.5 1907.5,89.6 1908.1,89.7 1908.6,89.7 1909.2,89.8 1909.8,89.9 1910.4,89.9 1911,90 1911.6,90.1 1912.1,90.2 1912.7,90.2 1913.3,90.3 1913.9,90.4 1914.5,90.5 1915,90.5 1915.6,90.6 1916.2,90.7 1916.8,90.8 1917.4,90.8 1917.9,90.9 1918.5,91 1919.1,91.1 1919.7,91.1 1920.3,91.2 1920.8,91.3 1921.4,91.4 1922,91.4 1922.6,91.5 1923.2,91.6 1923.7,91.7 1924.3,91.8 1924.9,91.8 1925.5,91.9 1926.1,92 1926.7,92.1 1927.2,92.2 1927.8,92.2 1928.4,92.3 1929,92.4 1929.6,92.5 1930.1,92.5 1930.7,92.6 1931.3,92.7 1931.9,92.8 1932.5,92.9 1933,92.9 1933.6,93 1934.2,93.1 1934.8,93.2 1935.4,93.2 1935.9,93.3 1936.5,93.4 1937.1,93.5 1937.7,93.6 1938.3,93.6 1938.8,93.7 1939.4,93.8 1940,93.9 1940.6,93.9 1941.2,94 1941.8,94.1 1942.3,94.2 1942.9,94.2 1943.5,94.3 1944.1,94.4 1944.7,94.5 1945.2,94.5 1945.8,94.6 1946.4,94.7 1947,94.8 1947.6,94.8 1948.1,94.9 1948.7,95 1949.3,95 1949.9,95.1 1950.5,95.2 1951,95.3 1951.6,95.3 1952.2,95.4 1952.8,95.5 1953.4,95.5 1953.9,95.6 1954.5,95.7 1955.1,95.7 1955.7,95.8 1956.3,95.9 1956.9,95.9 1957.4,96 1958,96.1 1958.6,96.1 1959.2,96.2 1959.8,96.2 1960.3,96.3 1960.9,96.4 1961.5,96.4 1962.1,96.5 1962.7,96.5 1963.2,96.6 1963.8,96.7 1964.4,96.7 1965,96.8 1965.6,96.8 1966.1,96.9 1966.7,96.9 1967.3,97 1967.9,97 1968.5,97.1 1969,97.1 1969.6,97.2 1970.2,97.2 1970.8,97.3 1971.4,97.3 1972,97.4 1972.5,97.4 1973.1,97.5 1973.7,97.5 1974.3,97.5 1974.9,97.6 1975.4,97.6 1976,97.7 1976.6,97.7 1977.2,97.8 1977.8,97.8 1978.3,97.8 1978.9,97.9 1979.5,97.9 1980.1,98 1980.7,98 1981.2,98 1981.8,98.1 1982.4,98.1 1983,98.2 1983.6,98.2 1984.2,98.2 1984.7,98.3 1985.3,98.3 1985.9,98.4 1986.5,98.4 1987.1,98.4 1987.6,98.5 1988.2,98.5 1988.8,98.5 1989.4,98.6 1990,98.6 1990.5,98.7 1991.1,98.7 1991.7,98.7 1992.3,98.8 1992.9,98.8 1993.4,98.9 1994,98.9 1994.6,98.9 1995.2,99 1995.8,99 1996.3,99 1996.9,99.1 1997.5,99.1 1998.1,99.2 1998.7,99.2 1999.3,99.2 1999.8,99.3 2000.4,99.3 2001,99.4 2001.6,99.4 2002.2,99.4 2002.7,99.5 2003.3,99.5 2003.9,99.6 2004.5,99.6 2005.1,99.6 2005.6,99.7 2006.2,99.7 2006.8,99.7 2007.4,99.8 2008,99.8 2008.5,99.8 2009.1,99.9 2009.7,99.9 2010.3,99.9 2010.9,100 2011.4,100 2012,100 2012.6,100.1 2013.2,100.1 2013.8,100.1 2014.4,100.2 2014.9,100.2 2015.5,100.3 2016.1,100.3 2016.7,100.4 2017.3,100.4 2017.8,100.5 2018.4,100.5 2019,100.6 2019.6,100.6 2020.2,100.7 2020.7,100.7 2021.3,100.8 2021.9,100.9 2022.5,100.9 2023.1,101 2023.6,101.1 2024.2,101.2 2024.8,101.3 2025.4,101.4 2026,101.5 2026.5,101.7 2027.1,101.8 2027.7,101.9 2028.3,102.1 2028.9,102.2 2029.5,102.4 2030,102.6 2030.6,102.8 2031.2,103 2031.8,103.2 2032.4,103.5 2032.9,103.7 2033.5,104 2034.1,104.4 2034.7,104.8 2035.3,105.2 2035.8,105.6 2036.4,106.1 2037,106.6 2037.6,107.1 2038.2,107.6 2038.7,108.1 2039.3,108.7 2039.9,109.3 2040.5,109.9 2041.1,110.5 2041.6,111.2 2042.2,111.9 2042.8,112.6 2043.4,113.4 2044,114.2 2044.6,115 2045.1,115.9 2045.7,116.8 2046.3,117.8 2046.9,118.7 2047.5,119.6 2048,120.6 2048.6,121.5 2049.2,122.4 2049.8,123.3 2050.4,124.3 2050.9,125.2 2051.5,126.2 2052.1,127.1 2052.7,128.1 2053.3,129 2053.8,130 2054.4,131 2055,132 2055.6,132.9 2056.2,133.9 2056.7,134.9 2057.3,135.9 2057.9,136.9 2058.5,137.9 2059.1,138.9 2059.7,139.9 2060.2,140.9 2060.8,141.9 2061.4,142.9 2062,143.9 2062.6,144.9 2063.1,145.9 2063.7,146.9 2064.3,147.9 2064.9,148.9 2065.5,149.9 2066,150.9 2066.6,151.9 2067.2,153 2067.8,154 2068.4,155 2068.9,156 2069.5,157 2070.1,158.1 2070.7,159.1 2071.3,160.1 2071.8,161.1 2072.4,162.2 2073,163.2 2073.6,164.2 2074.2,165.3 2074.8,166.3 2075.3,167.3 2075.9,168.4 2076.5,169.4 2077.1,170.5 2077.7,171.5 2078.2,172.5 2078.8,173.6 2079.4,174.6 2080,175.7 2080.6,176.7 2081.1,177.8 2081.7,178.8 2082.3,179.9 2082.9,180.9 2083.5,182 2084,183 2084.6,184.1 2085.2,185.1 2085.8,186.2 2086.4,187.2 2086.9,188.3 2087.5,189.3 2088.1,190.4 2088.7,191.5 2089.3,192.5 2089.9,193.6 2090.4,194.6 2091,195.7 2091.6,196.8 2092.2,197.8 2092.8,198.9 2093.3,199.9 2093.9,201 2094.5,202.1 2095.1,203.1 2095.7,204.2 2096.2,205.3 2096.8,206.3 2097.4,207.4 2098,208.4 2098.6,209.5 2099.1,210.6 2099.7,211.6 2100.3,212.7 2100.9,213.8 2101.5,214.8 2102,215.9 2102.6,217 2103.2,218 2103.8,219.1 2104.4,220.1 2105,221.2 2105.5,222.2 2106.1,223.3 2106.7,224.3 2107.3,225.4 2107.9,226.4 2108.4,227.5 2109,228.5 2109.6,229.6 2110.2,230.6 2110.8,231.7 2111.3,232.7 2111.9,233.7 2112.5,234.8 2113.1,235.8 2113.7,236.9 2114.2,238 2114.8,239 2115.4,240.1 2116,241.1 2116.6,242.2 2117.1,243.3 2117.7,244.3 2118.3,245.4 2118.9,246.5 2119.5,247.6 2120.1,248.6 2120.6,249.7 2121.2,250.8 2121.8,251.9 2122.4,253 2123,254.1 2123.5,255.2 2124.1,256.4 2124.7,257.5 2125.3,258.6 2125.9,259.7 2126.4,260.9 2127,262 2127.6,263.2 2128.2,264.4 2128.8,265.5 2129.3,266.7 2129.9,267.9 2130.5,269.1 2131.1,270.3 2131.7,271.5 2132.2,272.8 2132.8,274 2133.4,275.2 2134,276.5 2134.6,277.8 2135.2,279 2135.7,280.3 2136.3,281.6 2136.9,282.9 2137.5,284.2 2138.1,285.5 2138.6,286.8 2139.2,288.1 2139.8,289.4 2140.4,290.7 2141,292 2141.5,293.3 2142.1,294.6 2142.7,295.9 2143.3,297.2 2143.9,298.5 2144.4,299.9 2145,301.2 2145.6,302.5 2146.2,303.8 2146.8,305 2147.3,306.3 2147.9,307.6 2148.5,308.9 2149.1,310.2 2149.7,311.5 2150.3,312.8 2150.8,314 2151.4,315.3 2152,316.6 2152.6,317.9 2153.2,319.2 2153.7,320.5 2154.3,321.7 2154.9,323 2155.5,324.3 2156.1,325.6 2156.6,326.9 2157.2,328.2 2157.8,329.4 2158.4,330.7 2159,332 2159.5,333.3 2160.1,334.6 2160.7,335.9 2161.3,337.2 2161.9,338.4 2162.4,339.7 2163,341 2163.6,342.3 2164.2,343.6 2164.8,344.9 2165.4,346.2 2165.9,347.5 2166.5,348.8 2167.1,350 2167.7,351.3 2168.3,352.6 2168.8,353.9 2169.4,355.2 2170,356.5"/><polyline id="c2" points="1589.8,420.7 1590.4,525.7 1591,382.4 1591.5,536.9 1592.1,395.1 1592.7,507.1 1593.3,434.6 1593.9,464.5 1594.4,475.3 1595,428.7 1595.6,504.7 1596.2,405.9 1596.8,521.6 1597.4,394 1597.9,529.5 1598.5,389.1 1599.1,532 1599.7,388.5 1600.3,530.8 1600.8,391.8 1601.4,525.1 1602,400.7 1602.6,512.1 1603.2,418.6 1603.7,488.6 1604.3,448.1 1604.9,453.6 1605.5,487 1606.1,413.4 1606.6,524.2 1607.2,384.6 1607.8,538.8 1608.4,389.6 1609,511.1 1609.5,439.1 1610.1,445.8 1610.7,508.6 1611.3,387.9 1611.9,538.5 1612.5,398 1613,486.6 1613.6,479.7 1614.2,400.4 1614.8,538.8 1615.4,394.3 1615.9,484.5 1616.5,489.8 1617.1,389.8 1617.7,536.1 1618.3,419.9 1618.8,441.2 1619.4,528.3 1620,384.8 1620.6,493.3 1621.2,492.8 1621.7,384.1 1622.3,523.5 1622.9,459.1 1623.5,397.3 1624.1,535.2 1624.6,438.2 1625.2,408.7 1625.8,538.1 1626.4,430.6 1627,411.6 1627.6,538 1628.1,435.2 1628.7,404.7 1629.3,534.7 1629.9,452.3 1630.5,391.7 1631,522.6 1631.6,481.7 1632.2,381.7 1632.8,493.4 1633.4,517 1633.9,390.7 1634.5,445.2 1635.1,538.7 1635.7,432.7 1636.3,395.4 1636.8,518.9 1637.4,498.7 1638,385.1 1638.6,450.8 1639.2,538.9 1639.7,443.7 1640.3,386.3 1640.9,496.7 1641.5,525.4 1642.1,409.8 1642.7,404.1 1643.2,519.3 1643.8,508.9 1644.4,396.3 1645,415.9 1645.6,526 1646.1,503.5 1646.7,395 1647.3,414.3 1647.9,522.3 1648.5,511.9 1649,404.3 1649.6,400.4 1650.2,505.7 1650.8,528.9 1651.4,430 1651.9,384.1 1652.5,469.6 1653.1,538.9 1653.7,476.2 1654.3,387.1 1654.8,417.3 1655.4,516.2 1656,526.3 1656.6,433.4 1657.2,381.9 1657.8,449 1658.3,532.6 1658.9,509.7 1659.5,415.3 1660.1,385.2 1660.7,460.5 1661.2,535.1 1661.8,507.5 1662.4,416.5 1663,383.6 1663.6,450.4 1664.1,529.5 1664.7,520.9 1665.3,436.9 1665.9,381.8 1666.5,421.3 1667,506.7 1667.6,537.4 1668.2,479.2 1668.8,399.8 1669.4,388 1669.9,455.4 1670.5,527.7 1671.1,527.9 1671.7,457.3 1672.3,390.1 1672.9,394.2 1673.4,464.1 1674,529.8 1674.6,527.9 1675.2,461.7 1675.8,394.5 1676.3,388.1 1676.9,447 1677.5,517.4 1678.1,537.2 1678.7,490.5 1679.2,418.3 1679.8,381.6 1680.4,409.6 1681,478.4 1681.6,532.3 1682.1,529.4 1682.7,473.3 1683.3,407.6 1683.9,381.5 1684.5,413.2 1685,478.6 1685.6,530.5 1686.2,533.1 1686.8,485.6 1687.4,421.3 1688,383.3 1688.5,395.7 1689.1,449.4 1689.7,509.6 1690.3,538.7 1690.9,519.7 1691.4,465 1692,407.9 1692.6,381.6 1693.2,400.3 1693.8,452.5 1694.3,508.6 1694.9,538 1695.5,525.7 1696.1,479 1696.7,423 1697.2,386.2 1697.8,386.7 1698.4,423.2 1699,477.3 1699.6,522.9 1700.1,538.9 1700.7,518.7 1701.3,472.3 1701.9,420.9 1702.5,386.9 1703.1,384 1703.6,408.1 1704.2,449.5 1704.8,494.4 1705.4,527.8 1706,538.9 1706.5,524 1707.1,487.8 1707.7,442.1 1708.3,402.3 1708.9,382.2 1709.4,389.5 1710,421.4 1710.6,466.5 1711.2,509.1 1711.8,535.1 1712.3,536.3 1712.9,512.9 1713.5,473 1714.1,429.3 1714.7,395.4 1715.2,381.5 1715.8,391.3 1716.4,421.8 1717,463.9 1717.6,504.7 1718.2,532.1 1718.7,538.4 1719.3,521.8 1719.9,487 1720.5,444.6 1721.1,407.3 1721.6,385.3 1722.2,382.7 1722.8,398.5 1723.4,427.8 1724,463.8 1724.5,498.5 1725.1,524.9 1725.7,538.1 1726.3,535.6 1726.9,518.5 1727.4,490.8 1728,457.7 1728.6,425.2 1729.2,399 1729.8,383.8 1730.3,382.8 1730.9,397.3 1731.5,425.4 1732.1,461.4 1732.7,496.9 1733.3,523.9 1733.8,537.6 1734.4,537.1 1735,524.5 1735.6,502.6 1736.2,475.1 1736.7,445.9 1737.3,418.9 1737.9,397.4 1738.5,384.3 1739.1,381.8 1739.6,391.1 1740.2,411.5 1740.8,440.3 1741.4,472.4 1742,502.2 1742.5,524.6 1743.1,536.9 1743.7,538.4 1744.3,530.1 1744.9,513.6 1745.4,490.9 1746,464.9 1746.6,438.6 1747.2,415 1747.8,396.6 1748.4,385 1748.9,381.4 1749.5,385.8 1750.1,397.3 1750.7,414.4 1751.3,435.3 1751.8,458.2 1752.4,481.1 1753,502 1753.6,519.5 1754.2,531.9 1754.7,538.3 1755.3,537.9 1755.9,530.8 1756.5,517.6 1757.1,499.7 1757.6,478.6 1758.2,456.1 1758.8,434.2 1759.4,414.6 1760,398.6 1760.5,387.6 1761.1,382 1761.7,382.2 1762.3,387.9 1762.9,398.4 1763.5,412.9 1764,430.2 1764.6,449.2 1765.2,468.7 1765.8,487.5 1766.4,504.5 1766.9,518.9 1767.5,529.7 1768.1,536.6 1768.7,539 1769.3,536.9 1769.8,530.4 1770.4,520.1 1771,506.5 1771.6,490.5 1772.2,473 1772.7,455 1773.3,437.3 1773.9,421.1 1774.5,406.9 1775.1,395.5 1775.6,387.3 1776.2,382.6 1776.8,381.5 1777.4,383.9 1778,389.6 1778.6,398.2 1779.1,409.4 1779.7,422.5 1780.3,436.9 1780.9,452.2 1781.5,467.6 1782,482.5 1782.6,496.6 1783.2,509.2 1783.8,519.9 1784.4,528.5 1784.9,534.6 1785.5,538.1 1786.1,539 1786.7,537.2 1787.3,532.8 1787.8,526 1788.4,517.1 1789,506.3 1789.6,494.2 1790.2,481 1790.8,467.2 1791.3,453.3 1791.9,439.8 1792.5,427 1793.1,415.3 1793.7,405.1 1794.2,396.5 1794.8,389.7 1795.4,385 1796,382.2 1796.6,381.4 1797.1,382.5 1797.7,385.5 1798.3,390.2 1798.9,396.5 1799.5,404.1 1800,412.9 1800.6,422.6 1801.2,433.1 1801.8,444 1802.4,455.2 1802.9,466.3 1803.5,477.3 1804.1,487.8 1804.7,497.7 1805.3,506.8 1805.9,515 1806.4,522.1 1807,528 1807.6,532.7 1808.2,536.1 1808.8,538.2 1809.3,539 1809.9,538.5 1810.5,536.8 1811.1,533.9 1811.7,530 1812.2,525.1 1812.8,519.3 1813.4,512.8 1814,505.7 1814.6,498.1 1815.1,490 1815.7,481.7 1816.3,473.2 1816.9,464.7 1817.5,456.1 1818,447.7 1818.6,439.6 1819.2,431.7 1819.8,424.2 1820.4,417.1 1821,410.6 1821.5,404.6 1822.1,399.2 1822.7,394.5 1823.3,390.4 1823.9,387.1 1824.4,384.6 1825,382.7 1825.6,381.7 1826.2,381.4 1826.8,381.9 1827.3,383.1 1827.9,385.1 1828.5,387.7 1829.1,391 1829.7,394.9 1830.2,399.4 1830.8,404.4 1831.4,409.8 1832,415.6 1832.6,421.8 1833.1,428.2 1833.7,434.9 1834.3,441.7 1834.9,448.6 1835.5,455.6 1836.1,462.5 1836.6,469.4 1837.2,476.1 1837.8,482.7 1838.4,489 1839,495.1 1839.5,500.9 1840.1,506.3 1840.7,511.4 1841.3,516.1 1841.9,520.4 1842.4,524.3 1843,527.7 1843.6,530.6 1844.2,533.2 1844.8,535.2 1845.3,536.8 1845.9,538 1846.5,538.7 1847.1,539 1847.7,538.9 1848.2,538.3 1848.8,537.4 1849.4,536.1 1850,534.4 1850.6,532.4 1851.2,530.1 1851.7,527.4 1852.3,524.5 1852.9,521.3 1853.5,517.8 1854.1,514.2 1854.6,510.3 1855.2,506.3 1855.8,502.1 1856.4,497.8 1857,493.3 1857.5,488.8 1858.1,484.2 1858.7,479.6 1859.3,474.9 1859.9,470.2 1860.4,465.5 1861,460.9 1861.6,456.2 1862.2,451.7 1862.8,447.2 1863.3,442.7 1863.9,438.4 1864.5,434.2 1865.1,430.1 1865.7,426.1 1866.3,422.2 1866.8,418.5 1867.4,415 1868,411.6 1868.6,408.4 1869.2,405.3 1869.7,402.4 1870.3,399.7 1870.9,397.2 1871.5,394.9 1872.1,392.7 1872.6,390.8 1873.2,389 1873.8,387.4 1874.4,386 1875,384.8 1875.5,383.8 1876.1,382.9 1876.7,382.3 1877.3,381.8 1877.9,381.5 1878.4,381.4 1879,381.5 1879.6,381.7 1880.2,382.1 1880.8,382.6 1881.4,383.3 1881.9,384.2 1882.5,385.2 1883.1,386.3 1883.7,387.6 1884.3,389 1884.8,390.6 1885.4,392.2 1886,394 1886.6,395.9 1887.2,397.9 1887.7,400 1888.3,402.2 1888.9,404.4 1889.5,406.8 1890.1,409.2 1890.6,411.6 1891.2,414.2 1891.8,416.8 1892.4,419.4 1893,422.1 1893.5,424.8 1894.1,427.6 1894.7,430.4 1895.3,433.2 1895.9,436 1896.5,438.8 1897,441.7 1897.6,444.5 1898.2,447.4 1898.8,450.2 1899.4,453.1 1899.9,455.9 1900.5,458.7 1901.1,461.5 1901.7,464.2 1902.3,467 1902.8,469.7 1903.4,472.3 1904,475 1904.6,477.5 1905.2,480.1 1905.7,482.6 1906.3,485.1 1906.9,487.5 1907.5,489.8 1908.1,492.2 1908.6,494.4 1909.2,496.6 1909.8,498.8 1910.4,500.9 1911,502.9 1911.6,504.9 1912.1,506.8 1912.7,508.7 1913.3,510.5 1913.9,512.2 1914.5,513.9 1915,515.5 1915.6,517.1 1916.2,518.6 1916.8,520 1917.4,521.4 1917.9,522.7 1918.5,524 1919.1,525.2 1919.7,526.4 1920.3,527.5 1920.8,528.5 1921.4,529.5 1922,530.4 1922.6,531.3 1923.2,532.1 1923.7,532.9 1924.3,533.6 1924.9,534.2 1925.5,534.9 1926.1,535.4 1926.7,535.9 1927.2,536.4 1927.8,536.9 1928.4,537.2 1929,537.6 1929.6,537.9 1930.1,538.2 1930.7,538.4 1931.3,538.6 1931.9,538.7 1932.5,538.8 1933,538.9 1933.6,539 1934.2,539 1934.8,539 1935.4,538.9 1935.9,538.8 1936.5,538.7 1937.1,538.5 1937.7,538.3 1938.3,538.1 1938.8,537.8 1939.4,537.5 1940,537.2 1940.6,536.9 1941.2,536.5 1941.8,536.1 1942.3,535.7 1942.9,535.3 1943.5,534.9 1944.1,534.5 1944.7,534.1 1945.2,533.7 1945.8,533.2 1946.4,532.8 1947,532.4 1947.6,532 1948.1,531.5 1948.7,531.1 1949.3,530.7 1949.9,530.3 1950.5,529.9 1951,529.4 1951.6,529 1952.2,528.6 1952.8,528.2 1953.4,527.8 1953.9,527.4 1954.5,526.9 1955.1,526.5 1955.7,526.1 1956.3,525.7 1956.9,525.3 1957.4,524.9 1958,524.4 1958.6,524 1959.2,523.6 1959.8,523.2 1960.3,522.8 1960.9,522.4 1961.5,521.9 1962.1,521.5 1962.7,521.1 1963.2,520.7 1963.8,520.3 1964.4,519.9 1965,519.5 1965.6,519.1 1966.1,518.7 1966.7,518.3 1967.3,518 1967.9,517.6 1968.5,517.2 1969,516.9 1969.6,516.5 1970.2,516.2 1970.8,515.9 1971.4,515.5 1972,515.2 1972.5,514.9 1973.1,514.7 1973.7,514.4 1974.3,514.1 1974.9,513.9 1975.4,513.7 1976,513.5 1976.6,513.3 1977.2,513.1 1977.8,513 1978.3,512.8 1978.9,512.7 1979.5,512.6 1980.1,512.5 1980.7,512.5 1981.2,512.4 1981.8,512.4 1982.4,512.4 1983,512.4 1983.6,512.5 1984.2,512.5 1984.7,512.6 1985.3,512.7 1985.9,512.8 1986.5,512.9 1987.1,513 1987.6,513.2 1988.2,513.4 1988.8,513.6 1989.4,513.8 1990,514 1990.5,514.2 1991.1,514.5 1991.7,514.7 1992.3,515 1992.9,515.3 1993.4,515.6 1994,516 1994.6,516.4 1995.2,516.8 1995.8,517.2 1996.3,517.6 1996.9,518.1 1997.5,518.6 1998.1,519.1 1998.7,519.6 1999.3,520.1 1999.8,520.7 2000.4,521.3 2001,521.9 2001.6,522.5 2002.2,523.1 2002.7,523.8 2003.3,524.4 2003.9,525 2004.5,525.7 2005.1,526.3 2005.6,527 2006.2,527.7 2006.8,528.3 2007.4,529 2008,529.6 2008.5,530.3 2009.1,530.9 2009.7,531.6 2010.3,532.2 2010.9,532.9 2011.4,533.5 2012,534.1 2012.6,534.7 2013.2,535.3 2013.8,535.9 2014.4,536.4 2014.9,536.9 2015.5,537.4 2016.1,537.8 2016.7,538.2 2017.3,538.5 2017.8,538.7 2018.4,538.9 2019,539 2019.6,539 2020.2,538.9 2020.7,538.6 2021.3,538.2 2021.9,537.6 2022.5,536.8 2023.1,535.9 2023.6,534.8 2024.2,533.5 2024.8,532 2025.4,530.3 2026,528.3 2026.5,526.2 2027.1,523.9 2027.7,521.3 2028.3,518.5 2028.9,515.6 2029.5,512.4 2030,509 2030.6,505.4 2031.2,501.7 2031.8,497.8 2032.4,493.7 2032.9,489.4 2033.5,485 2034.1,480.5 2034.7,475.9 2035.3,471.3 2035.8,466.5 2036.4,461.7 2037,456.9 2037.6,452 2038.2,447.2 2038.7,442.4 2039.3,437.7 2039.9,433 2040.5,428.5 2041.1,424 2041.6,419.7 2042.2,415.6 2042.8,411.6 2043.4,407.8 2044,404.2 2044.6,400.9 2045.1,397.8 2045.7,394.9 2046.3,392.3 2046.9,390 2047.5,387.9 2048,386.1 2048.6,384.6 2049.2,383.4 2049.8,382.5 2050.4,381.8 2050.9,381.5 2051.5,381.4 2052.1,381.6 2052.7,382.1 2053.3,382.8 2053.8,383.7 2054.4,384.9 2055,386.4 2055.6,388 2056.2,389.9 2056.7,391.9 2057.3,394.2 2057.9,396.6 2058.5,399.2 2059.1,402 2059.7,404.9 2060.2,407.9 2060.8,411.1 2061.4,414.4 2062,417.8 2062.6,421.3 2063.1,424.8 2063.7,428.5 2064.3,432.2 2064.9,435.9 2065.5,439.7 2066,443.5 2066.6,447.4 2067.2,451.2 2067.8,455.1 2068.4,459 2068.9,462.8 2069.5,466.6 2070.1,470.4 2070.7,474.2 2071.3,477.9 2071.8,481.6 2072.4,485.2 2073,488.7 2073.6,492.1 2074.2,495.5 2074.8,498.8 2075.3,502 2075.9,505.1 2076.5,508.1 2077.1,511 2077.7,513.7 2078.2,516.4 2078.8,518.9 2079.4,521.3 2080,523.5 2080.6,525.7 2081.1,527.6 2081.7,529.5 2082.3,531.1 2082.9,532.7 2083.5,534 2084,535.2 2084.6,536.3 2085.2,537.1 2085.8,537.9 2086.4,538.4 2086.9,538.8 2087.5,539 2088.1,539 2088.7,538.8 2089.3,538.5 2089.9,538 2090.4,537.3 2091,536.5 2091.6,535.4 2092.2,534.2 2092.8,532.9 2093.3,531.3 2093.9,529.6 2094.5,527.8 2095.1,525.8 2095.7,523.6 2096.2,521.3 2096.8,518.8 2097.4,516.2 2098,513.5 2098.6,510.7 2099.1,507.7 2099.7,504.6 2100.3,501.4 2100.9,498.2 2101.5,494.8 2102,491.4 2102.6,487.9 2103.2,484.3 2103.8,480.7 2104.4,477.1 2105,473.4 2105.5,469.6 2106.1,465.9 2106.7,462.2 2107.3,458.4 2107.9,454.7 2108.4,451 2109,447.3 2109.6,443.6 2110.2,440 2110.8,436.5 2111.3,433 2111.9,429.6 2112.5,426.2 2113.1,422.9 2113.7,419.8 2114.2,416.7 2114.8,413.7 2115.4,410.8 2116,408.1 2116.6,405.4 2117.1,402.9 2117.7,400.5 2118.3,398.3 2118.9,396.1 2119.5,394.1 2120.1,392.3 2120.6,390.6 2121.2,389 2121.8,387.6 2122.4,386.3 2123,385.2 2123.5,384.2 2124.1,383.4 2124.7,382.7 2125.3,382.2 2125.9,381.8 2126.4,381.5 2127,381.4 2127.6,381.4 2128.2,381.6 2128.8,381.9 2129.3,382.3 2129.9,382.9 2130.5,383.5 2131.1,384.3 2131.7,385.2 2132.2,386.3 2132.8,387.4 2133.4,388.6 2134,389.9 2134.6,391.4 2135.2,392.9 2135.7,394.4 2136.3,396.1 2136.9,397.9 2137.5,399.7 2138.1,401.5 2138.6,403.5 2139.2,405.4 2139.8,407.5 2140.4,409.5 2141,411.6 2141.5,413.8 2142.1,416 2142.7,418.2 2143.3,420.4 2143.9,422.6 2144.4,424.9 2145,427.1 2145.6,429.4 2146.2,431.6 2146.8,433.9 2147.3,436.1 2147.9,438.3 2148.5,440.5 2149.1,442.7 2149.7,444.9 2150.3,447.1 2150.8,449.2 2151.4,451.3 2152,453.4 2152.6,455.4 2153.2,457.4 2153.7,459.4 2154.3,461.3 2154.9,463.2 2155.5,465 2156.1,466.8 2156.6,468.6 2157.2,470.3 2157.8,472 2158.4,473.6 2159,475.2 2159.5,476.7 2160.1,478.2 2160.7,479.6 2161.3,481 2161.9,482.3 2162.4,483.6 2163,484.9 2163.6,486 2164.2,487.2 2164.8,488.3 2165.4,489.3 2165.9,490.3 2166.5,491.2 2167.1,492.1 2167.7,493 2168.3,493.7 2168.8,494.5 2169.4,495.2 2170,495.8"/></defs>
<g clip-path="url(#ca2)"><use href="#a2" class="lo"/><use href="#a2" class="lb"/></g>
<g clip-path="url(#cc2)"><use href="#c2" class="lo"/><use href="#c2" class="lb"/></g>
<path clip-path="url(#cr2)" d="M1589.8,649.4h0M1590.4,665h0M1591,665h0M1591.5,649.4h0M1592.1,655.9h0M1592.7,655.9h0M1593.3,655.9h0M1593.9,655.9h0M1594.4,649.4h0M1595,649.4h0M1595.6,680.6h0M1596.2,649.4h0M1596.8,649.4h0M1597.4,655.9h0M1597.9,649.4h0M1598.5,655.9h0M1599.1,655.9h0M1599.7,655.9h0M1600.3,649.4h0M1600.8,649.4h0M1601.4,649.4h0M1602,665h0M1602.6,649.4h0M1603.2,655.9h0M1603.7,649.4h0M1604.3,649.4h0M1604.9,665h0M1605.5,649.4h0M1606.1,655.9h0M1606.6,655.9h0M1607.2,665h0M1607.8,644.4h0M1608.4,655.9h0M1609,649.4h0M1609.5,655.9h0M1610.1,655.9h0M1610.7,655.9h0M1611.3,655.9h0M1611.9,655.9h0M1612.5,649.4h0M1613,665h0M1613.6,644.4h0M1614.2,665h0M1614.8,644.4h0M1615.4,649.4h0M1615.9,649.4h0M1616.5,649.4h0M1617.1,649.4h0M1617.7,644.4h0M1618.3,665h0M1618.8,649.4h0M1619.4,665h0M1620,655.9h0M1620.6,649.4h0M1621.2,655.9h0M1621.7,655.9h0M1622.3,665h0M1622.9,649.4h0M1623.5,655.9h0M1624.1,655.9h0M1624.6,644.4h0M1625.2,655.9h0M1625.8,649.4h0M1626.4,655.9h0M1627,649.4h0M1627.6,665h0M1628.1,665h0M1628.7,665h0M1629.3,649.4h0M1629.9,655.9h0M1630.5,655.9h0M1631,649.4h0M1631.6,655.9h0M1632.2,649.4h0M1632.8,665h0M1633.4,665h0M1633.9,655.9h0M1634.5,655.9h0M1635.1,665h0M1635.7,665h0M1636.3,644.4h0M1636.8,655.9h0M1637.4,649.4h0M1638,649.4h0M1638.6,644.4h0M1639.2,649.4h0M1639.7,644.4h0M1640.3,655.9h0M1640.9,655.9h0M1641.5,665h0M1642.1,655.9h0M1642.7,655.9h0M1643.2,655.9h0M1643.8,644.4h0M1644.4,665h0M1645,644.4h0M1645.6,655.9h0M1646.1,655.9h0M1646.7,655.9h0M1647.3,665h0M1647.9,665h0M1648.5,665h0M1649,655.9h0M1649.6,649.4h0M1650.2,665h0M1650.8,665h0M1651.4,655.9h0M1651.9,655.9h0M1652.5,655.9h0M1653.1,665h0M1653.7,655.9h0M1654.3,655.9h0M1654.8,644.4h0M1655.4,644.4h0M1656,655.9h0M1656.6,644.4h0M1657.2,655.9h0M1657.8,665h0M1658.3,644.4h0M1658.9,655.9h0M1659.5,655.9h0M1660.1,649.4h0M1660.7,655.9h0M1661.2,655.9h0M1661.8,655.9h0M1662.4,655.9h0M1663,655.9h0M1663.6,649.4h0M1664.1,649.4h0M1664.7,655.9h0M1665.3,655.9h0M1665.9,655.9h0M1666.5,665h0M1667,649.4h0M1667.6,655.9h0M1668.2,655.9h0M1668.8,665h0M1669.4,649.4h0M1669.9,655.9h0M1670.5,640.3h0M1671.1,665h0M1671.7,655.9h0M1672.3,649.4h0M1672.9,655.9h0M1673.4,649.4h0M1674,655.9h0M1674.6,649.4h0M1675.2,649.4h0M1675.8,665h0M1676.3,644.4h0M1676.9,665h0M1677.5,655.9h0M1678.1,655.9h0M1678.7,649.4h0M1679.2,655.9h0M1679.8,665h0M1680.4,665h0M1681,649.4h0M1681.6,655.9h0M1682.1,649.4h0M1682.7,649.4h0M1683.3,644.4h0M1683.9,636.8h0M1684.5,655.9h0M1685,649.4h0M1685.6,655.9h0M1686.2,655.9h0M1686.8,655.9h0M1687.4,655.9h0M1688,636.8h0M1688.5,680.6h0M1689.1,649.4h0M1689.7,649.4h0M1690.3,655.9h0M1690.9,655.9h0M1691.4,655.9h0M1692,644.4h0M1692.6,649.4h0M1693.2,665h0M1693.8,655.9h0M1694.3,644.4h0M1694.9,665h0M1695.5,655.9h0M1696.1,649.4h0M1696.7,655.9h0M1697.2,655.9h0M1697.8,644.4h0M1698.4,655.9h0M1699,649.4h0M1699.6,649.4h0M1700.1,655.9h0M1700.7,665h0M1701.3,655.9h0M1701.9,655.9h0M1702.5,665h0M1703.1,665h0M1703.6,649.4h0M1704.2,649.4h0M1704.8,649.4h0M1705.4,680.6h0M1706,655.9h0M1706.5,665h0M1707.1,649.4h0M1707.7,649.4h0M1708.3,665h0M1708.9,649.4h0M1709.4,655.9h0M1710,644.4h0M1710.6,655.9h0M1711.2,649.4h0M1711.8,655.9h0M1712.3,655.9h0M1712.9,655.9h0M1713.5,640.3h0M1714.1,649.4h0M1714.7,640.3h0M1715.2,665h0M1715.8,655.9h0M1716.4,655.9h0M1717,655.9h0M1717.6,649.4h0M1718.2,644.4h0M1718.7,649.4h0M1719.3,649.4h0M1719.9,655.9h0M1720.5,655.9h0M1721.1,680.6h0M1721.6,655.9h0M1722.2,649.4h0M1722.8,649.4h0M1723.4,665h0M1724,655.9h0M1724.5,644.4h0M1725.1,655.9h0M1725.7,665h0M1726.3,655.9h0M1726.9,655.9h0M1727.4,655.9h0M1728,665h0M1728.6,649.4h0M1729.2,655.9h0M1729.8,665h0M1730.3,655.9h0M1730.9,655.9h0M1731.5,655.9h0M1732.1,655.9h0M1732.7,649.4h0M1733.3,649.4h0M1733.8,655.9h0M1734.4,649.4h0M1735,655.9h0M1735.6,655.9h0M1736.2,665h0M1736.7,655.9h0M1737.3,655.9h0M1737.9,649.4h0M1738.5,655.9h0M1739.1,655.9h0M1739.6,655.9h0M1740.2,649.4h0M1740.8,665h0M1741.4,655.9h0M1742,655.9h0M1742.5,649.4h0M1743.1,649.4h0M1743.7,644.4h0M1744.3,649.4h0M1744.9,680.6h0M1745.4,649.4h0M1746,649.4h0M1746.6,649.4h0M1747.2,649.4h0M1747.8,665h0M1748.4,644.4h0M1748.9,655.9h0M1749.5,649.4h0M1750.1,665h0M1750.7,665h0M1751.3,655.9h0M1751.8,665h0M1752.4,655.9h0M1753,665h0M1753.6,649.4h0M1754.2,649.4h0M1754.7,649.4h0M1755.3,655.9h0M1755.9,655.9h0M1756.5,665h0M1757.1,665h0M1757.6,655.9h0M1758.2,655.9h0M1758.8,655.9h0M1759.4,649.4h0M1760,649.4h0M1760.5,655.9h0M1761.1,655.9h0M1761.7,655.9h0M1762.3,655.9h0M1762.9,655.9h0M1763.5,649.4h0M1764,644.4h0M1764.6,655.9h0M1765.2,665h0M1765.8,649.4h0M1766.4,655.9h0M1766.9,644.4h0M1767.5,665h0M1768.1,649.4h0M1768.7,649.4h0M1769.3,665h0M1769.8,649.4h0M1770.4,655.9h0M1771,649.4h0M1771.6,649.4h0M1772.2,655.9h0M1772.7,655.9h0M1773.3,644.4h0M1773.9,665h0M1774.5,655.9h0M1775.1,655.9h0M1775.6,665h0M1776.2,665h0M1776.8,655.9h0M1777.4,649.4h0M1778,649.4h0M1778.6,655.9h0M1779.1,649.4h0M1779.7,655.9h0M1780.3,649.4h0M1780.9,649.4h0M1781.5,655.9h0M1782,649.4h0M1782.6,649.4h0M1783.2,665h0M1783.8,665h0M1784.4,665h0M1784.9,649.4h0M1785.5,655.9h0M1786.1,665h0M1786.7,649.4h0M1787.3,649.4h0M1787.8,649.4h0M1788.4,649.4h0M1789,636.8h0M1789.6,655.9h0M1790.2,655.9h0M1790.8,649.4h0M1791.3,655.9h0M1791.9,655.9h0M1792.5,649.4h0M1793.1,649.4h0M1793.7,649.4h0M1794.2,655.9h0M1794.8,655.9h0M1795.4,665h0M1796,649.4h0M1796.6,644.4h0M1797.1,665h0M1797.7,655.9h0M1798.3,649.4h0M1798.9,649.4h0M1799.5,655.9h0M1800,655.9h0M1800.6,655.9h0M1801.2,655.9h0M1801.8,665h0M1802.4,655.9h0M1802.9,655.9h0M1803.5,655.9h0M1804.1,665h0M1804.7,655.9h0M1805.3,655.9h0M1805.9,640.3h0M1806.4,649.4h0M1807,649.4h0M1807.6,649.4h0M1808.2,655.9h0M1808.8,649.4h0M1809.3,649.4h0M1809.9,655.9h0M1810.5,649.4h0M1811.1,655.9h0M1811.7,655.9h0M1812.2,655.9h0M1812.8,649.4h0M1813.4,655.9h0M1814,655.9h0M1814.6,649.4h0M1815.1,665h0M1815.7,665h0M1816.3,655.9h0M1816.9,649.4h0M1817.5,649.4h0M1818,655.9h0M1818.6,649.4h0M1819.2,655.9h0M1819.8,665h0M1820.4,649.4h0M1821,644.4h0M1821.5,665h0M1822.1,649.4h0M1822.7,649.4h0M1823.3,649.4h0M1823.9,655.9h0M1824.4,655.9h0M1825,655.9h0M1825.6,655.9h0M1826.2,655.9h0M1826.8,665h0M1827.3,655.9h0M1827.9,655.9h0M1828.5,649.4h0M1829.1,655.9h0M1829.7,655.9h0M1830.2,655.9h0M1830.8,665h0M1831.4,655.9h0M1832,655.9h0M1832.6,649.4h0M1833.1,655.9h0M1833.7,649.4h0M1834.3,655.9h0M1834.9,644.4h0M1835.5,644.4h0M1836.1,655.9h0M1836.6,665h0M1837.2,655.9h0M1837.8,649.4h0M1838.4,655.9h0M1839,649.4h0M1839.5,655.9h0M1840.1,655.9h0M1840.7,655.9h0M1841.3,665h0M1841.9,655.9h0M1842.4,649.4h0M1843,655.9h0M1843.6,649.4h0M1844.2,649.4h0M1844.8,665h0M1845.3,665h0M1845.9,665h0M1846.5,665h0M1847.1,655.9h0M1847.7,655.9h0M1848.2,655.9h0M1848.8,655.9h0M1849.4,649.4h0M1850,655.9h0M1850.6,649.4h0M1851.2,665h0M1851.7,655.9h0M1852.3,655.9h0M1852.9,655.9h0M1853.5,665h0M1854.1,644.4h0M1854.6,665h0M1855.2,644.4h0M1855.8,655.9h0M1856.4,665h0M1857,655.9h0M1857.5,655.9h0M1858.1,649.4h0M1858.7,644.4h0M1859.3,655.9h0M1859.9,655.9h0M1860.4,649.4h0M1861,655.9h0M1861.6,655.9h0M1862.2,649.4h0M1862.8,665h0M1863.3,665h0M1863.9,649.4h0M1864.5,655.9h0M1865.1,655.9h0M1865.7,655.9h0M1866.3,655.9h0M1866.8,665h0M1867.4,655.9h0M1868,665h0M1868.6,655.9h0M1869.2,649.4h0M1869.7,649.4h0M1870.3,649.4h0M1870.9,649.4h0M1871.5,649.4h0M1872.1,649.4h0M1872.6,649.4h0M1873.2,649.4h0M1873.8,649.4h0M1874.4,644.4h0M1875,649.4h0M1875.5,649.4h0M1876.1,655.9h0M1876.7,655.9h0M1877.3,644.4h0M1877.9,649.4h0M1878.4,655.9h0M1879,649.4h0M1879.6,644.4h0M1880.2,636.8h0M1880.8,649.4h0M1881.4,636.8h0M1881.9,649.4h0M1882.5,655.9h0M1883.1,636.8h0M1883.7,655.9h0M1884.3,655.9h0M1884.8,655.9h0M1885.4,636.8h0M1886,655.9h0M1886.6,649.4h0M1887.2,649.4h0M1887.7,640.3h0M1888.3,636.8h0M1888.9,644.4h0M1889.5,649.4h0M1890.1,644.4h0M1890.6,640.3h0M1891.2,644.4h0M1891.8,640.3h0M1892.4,649.4h0M1893,655.9h0M1893.5,649.4h0M1894.1,640.3h0M1894.7,655.9h0M1895.3,655.9h0M1895.9,649.4h0M1896.5,649.4h0M1897,665h0M1897.6,640.3h0M1898.2,644.4h0M1898.8,636.8h0M1899.4,665h0M1899.9,655.9h0M1900.5,649.4h0M1901.1,644.4h0M1901.7,649.4h0M1902.3,655.9h0M1902.8,655.9h0M1903.4,649.4h0M1904,649.4h0M1904.6,640.3h0M1905.2,649.4h0M1905.7,649.4h0M1906.3,567.7h0M1906.9,567.1h0M1907.5,567h0M1908.1,567h0M1908.6,566.9h0M1909.2,566.8h0M1909.8,567.1h0M1910.4,566.8h0M1911,566.9h0M1911.6,566.8h0M1912.1,566.7h0M1912.7,567.1h0M1913.3,566.7h0M1913.9,566.8h0M1914.5,567.1h0M1915,566.7h0M1915.6,566.2h0M1916.2,566.5h0M1916.8,566.5h0M1917.4,566.8h0M1917.9,567.1h0M1918.5,566.6h0M1919.1,566.4h0M1919.7,567h0M1920.3,566.2h0M1920.8,566.5h0M1921.4,566.5h0M1922,566.3h0M1922.6,566.2h0M1923.2,566.3h0M1923.7,566.7h0M1924.3,566.3h0M1924.9,565.9h0M1925.5,566.1h0M1926.1,566.3h0M1926.7,566.6h0M1927.2,566.2h0M1927.8,565.9h0M1928.4,566.3h0M1929,566.1h0M1929.6,565.8h0M1930.1,565.5h0M1930.7,565.7h0M1931.3,566h0M1931.9,565.2h0M1932.5,565h0M1933,565.7h0M1933.6,564.9h0M1934.2,564.9h0M1934.8,565.3h0M1935.4,565.2h0M1935.9,565.3h0M1936.5,565.3h0M1937.1,565.4h0M1937.7,565.1h0M1938.3,564.8h0M1938.8,564h0M1939.4,565.4h0M1940,565.2h0M1940.6,565.1h0M1941.2,564.8h0M1941.8,564.5h0M1942.3,564.9h0M1942.9,564.7h0M1943.5,564.2h0M1944.1,564.9h0M1944.7,564h0M1945.2,564.3h0M1945.8,565h0M1946.4,564.1h0M1947,564.4h0M1947.6,564.6h0M1948.1,564.2h0M1948.7,563.7h0M1949.3,564h0M1949.9,564.1h0M1950.5,563.5h0M1951,564.5h0M1951.6,564h0M1952.2,564.1h0M1952.8,563.9h0M1953.4,563.9h0M1953.9,563.6h0M1954.5,563.1h0M1955.1,563.8h0M1955.7,563.5h0M1956.3,564h0M1956.9,563h0M1957.4,563.4h0M1958,564.1h0M1958.6,562.8h0M1959.2,562.8h0M1959.8,563.2h0M1960.3,563.7h0M1960.9,562.6h0M1961.5,563h0M1962.1,562.9h0M1962.7,562.7h0M1963.2,562.7h0M1963.8,563.2h0M1964.4,562.7h0M1965,562.2h0M1965.6,562.3h0M1966.1,562.5h0M1966.7,562h0M1967.3,562.1h0M1967.9,562.2h0M1968.5,561.5h0M1969,562.8h0M1969.6,561.6h0M1970.2,562.1h0M1970.8,562h0M1971.4,561.7h0M1972,562.3h0M1972.5,561.9h0M1973.1,561.5h0M1973.7,562.1h0M1974.3,561.8h0M1974.9,561.2h0M1975.4,561h0M1976,561.8h0M1976.6,561.3h0M1977.2,560.8h0M1977.8,561.5h0M1978.3,560.7h0M1978.9,560.9h0M1979.5,560.8h0M1980.1,560.3h0M1980.7,561.2h0M1981.2,562.1h0M1981.8,561h0M1982.4,560.9h0M1983,560.6h0M1983.6,560.6h0M1984.2,560.6h0M1984.7,560.7h0M1985.3,560.2h0M1985.9,560.4h0M1986.5,560.2h0M1987.1,560.4h0M1987.6,560.5h0M1988.2,560.5h0M1988.8,559.8h0M1989.4,559.8h0M1990,560.1h0M1990.5,559.7h0M1991.1,559.7h0M1991.7,559.8h0M1992.3,559.7h0M1992.9,560h0M1993.4,559h0M1994,559.8h0M1994.6,559.1h0M1995.2,559.5h0M1995.8,558.7h0M1996.3,559.1h0M1996.9,558.8h0M1997.5,559.6h0M1998.1,558.5h0M1998.7,559.2h0M1999.3,558.5h0M1999.8,558.3h0M2000.4,558.7h0M2001,558.9h0M2001.6,558.4h0M2002.2,558.6h0M2002.7,558.4h0M2003.3,558.2h0M2003.9,558.6h0M2004.5,558.1h0M2005.1,558.3h0M2005.6,557.5h0M2006.2,557.8h0M2006.8,558.1h0M2007.4,557.5h0M2008,556.9h0M2008.5,557.8h0M2009.1,557.7h0M2009.7,557.3h0M2010.3,557.3h0M2010.9,557.1h0M2011.4,557.3h0M2012,557.4h0M2012.6,557.1h0M2013.2,556.9h0M2013.8,556.6h0M2014.4,556.7h0M2014.9,556.5h0M2015.5,556.9h0M2016.1,556.1h0M2016.7,556.2h0M2017.3,556.5h0M2017.8,556.4h0M2018.4,556.3h0M2019,555.9h0M2019.6,556.1h0M2020.2,555.4h0M2020.7,555.3h0M2021.3,555.3h0M2021.9,555.8h0M2022.5,556.1h0M2023.1,555.4h0M2023.6,555.2h0M2024.2,555.2h0M2024.8,680.6h0M2025.4,680.6h0M2026,665h0M2026.5,665h0M2027.1,665h0M2027.7,680.6h0M2028.3,680.6h0M2028.9,649.4h0M2029.5,665h0M2030,680.6h0M2030.6,665h0M2031.2,680.6h0M2031.8,665h0M2032.4,655.9h0M2032.9,644.4h0M2033.5,665h0M2034.1,680.6h0M2034.7,655.9h0M2035.3,680.6h0M2035.8,665h0M2036.4,665h0M2037,680.6h0M2037.6,680.6h0M2038.2,680.6h0M2038.7,680.6h0M2039.3,655.9h0M2039.9,680.6h0M2040.5,649.4h0M2041.1,655.9h0M2041.6,655.9h0M2042.2,644.4h0M2042.8,644.4h0M2043.4,655.9h0M2044,665h0M2044.6,665h0M2045.1,665h0M2045.7,665h0M2046.3,680.6h0M2046.9,665h0M2047.5,655.9h0M2048,655.9h0M2048.6,665h0M2049.2,655.9h0M2049.8,655.9h0M2050.4,665h0M2050.9,655.9h0M2051.5,665h0M2052.1,647h0M2052.7,648.7h0M2053.3,648.3h0M2053.8,645.8h0M2054.4,649.3h0M2055,646.6h0M2055.6,648.8h0M2056.2,644.9h0M2056.7,644.2h0M2057.3,644.6h0M2057.9,644.7h0M2058.5,645.2h0M2059.1,642.8h0M2059.7,642.4h0M2060.2,641h0M2060.8,640.8h0M2061.4,640.2h0M2062,639.4h0M2062.6,635.9h0M2063.1,636.3h0M2063.7,633.2h0M2064.3,632.8h0M2064.9,632.4h0M2065.5,634.7h0M2066,633.1h0M2066.6,629.9h0M2067.2,629.4h0M2067.8,634.8h0M2068.4,629.7h0M2068.9,628.7h0M2069.5,628.5h0M2070.1,627.2h0M2070.7,627.5h0M2071.3,627.6h0M2071.8,627.3h0M2072.4,628.1h0M2073,626.4h0M2073.6,625.9h0M2074.2,622h0M2074.8,626.1h0M2075.3,624.1h0M2075.9,622.1h0M2076.5,624.2h0M2077.1,624h0M2077.7,624.8h0M2078.2,623.5h0M2078.8,622h0M2079.4,624.9h0M2080,624h0M2080.6,623.6h0M2081.1,621.6h0M2081.7,620.9h0M2082.3,623.4h0M2082.9,621.5h0M2083.5,620.2h0M2084,622.6h0M2084.6,619.8h0M2085.2,621h0M2085.8,617.7h0M2086.4,621.1h0M2086.9,617.3h0M2087.5,619.6h0M2088.1,616.7h0M2088.7,619.2h0M2089.3,618.7h0M2089.9,618.4h0M2090.4,618.1h0M2091,617.7h0M2091.6,618.3h0M2092.2,619.1h0M2092.8,617.5h0M2093.3,617h0M2093.9,616.5h0M2094.5,615.4h0M2095.1,616.6h0M2095.7,616.9h0M2096.2,613.3h0M2096.8,615.5h0M2097.4,616.5h0M2098,615.7h0M2098.6,616.1h0M2099.1,613.7h0M2099.7,617.4h0M2100.3,614.3h0M2100.9,615.4h0M2101.5,614.9h0M2102,614.9h0M2102.6,615h0M2103.2,619h0M2103.8,612.6h0M2104.4,617h0M2105,613.7h0M2105.5,615.6h0M2106.1,614.4h0M2106.7,612.7h0M2107.3,612.2h0M2107.9,612.9h0M2108.4,612.4h0M2109,611.9h0M2109.6,611h0M2110.2,611.7h0M2110.8,611.1h0M2111.3,610.4h0M2111.9,608.6h0M2112.5,612.4h0M2113.1,611.2h0M2113.7,610.2h0M2114.2,610.9h0M2114.8,609h0M2115.4,612.3h0M2116,609.5h0M2116.6,609h0M2117.1,608.9h0M2117.7,608.9h0M2118.3,607.8h0M2118.9,607.3h0M2119.5,608.2h0M2120.1,606.8h0M2120.6,607.8h0M2121.2,609.2h0M2121.8,606.2h0M2122.4,608.9h0M2123,606.4h0M2123.5,608.1h0M2124.1,606.1h0M2124.7,606.3h0M2125.3,603.5h0M2125.9,605.6h0M2126.4,606.1h0M2127,604.9h0M2127.6,607.2h0M2128.2,606.2h0M2128.8,606.5h0M2129.3,604.1h0M2129.9,605.5h0M2130.5,605.2h0M2131.1,605.2h0M2131.7,603.8h0M2132.2,603.6h0M2132.8,602.4h0M2133.4,606.5h0M2134,602.2h0M2134.6,603.7h0M2135.2,604.3h0M2135.7,602.7h0M2136.3,604.5h0M2136.9,605h0M2137.5,600.7h0M2138.1,602.9h0M2138.6,599.7h0M2139.2,600.6h0M2139.8,603.2h0M2140.4,600.9h0M2141,602.1h0M2141.5,600.9h0M2142.1,600.5h0M2142.7,601.4h0M2143.3,601h0M2143.9,600.1h0M2144.4,602h0M2145,599.6h0M2145.6,599.3h0M2146.2,603.4h0M2146.8,598.7h0M2147.3,599.5h0M2147.9,600.4h0M2148.5,596.1h0M2149.1,599.1h0M2149.7,598.9h0M2150.3,599.5h0M2150.8,598h0M2151.4,600.9h0M2152,597.7h0M2152.6,599h0M2153.2,597.3h0M2153.7,595.8h0M2154.3,598.8h0M2154.9,597.9h0M2155.5,596.6h0M2156.1,597.8h0M2156.6,596.8h0M2157.2,597.9h0M2157.8,597.7h0M2158.4,598.1h0M2159,597.4h0M2159.5,596.4h0M2160.1,596.7h0M2160.7,595.5h0M2161.3,597.2h0M2161.9,596.5h0M2162.4,597.6h0M2163,596.6h0M2163.6,597.5h0M2164.2,594.7h0M2164.8,598h0M2165.4,595.1h0M2165.9,594.9h0M2166.5,596.3h0M2167.1,595.1h0M2167.7,596.5h0M2168.3,593.5h0M2168.8,595.8h0M2169.4,592.1h0M2170,595.8h0" class="d"/>
<rect x="1605.2" y="260.6" width="192.1" height="96.8" rx="4.5" fill="#fff" fill-opacity="0.8" stroke="#ccc" stroke-width="1.1"/>
<path d="M1617.6,283.8H1681.6" stroke="#1f77b4" stroke-width="1.65" fill="none"/>
<path d="M1615.2,328.3H1683.8" stroke="#ff7f0e" stroke-opacity="0.4" stroke-width="6.4" fill="none"/>
<text x="1705.4" y="295.4" font-size="29.5" textLength="80" lengthAdjust="spacingAndGlyphs" class="m">WF4Py</text>
<text x="1705.4" y="338.9" font-size="29.5" textLength="48" lengthAdjust="spacingAndGlyphs" class="m">LAL</text>
<path d="M1589.8,87.1h-3.9M1589.8,188.9h-3.9M1589.8,290.6h-3.9M1589.8,381.4h-3.9M1589.8,460.2h-3.9M1589.8,539h-3.9M1589.8,594.9h-3.9M1589.8,646.7h-3.9M1589.8,698.5h-3.9M1610.7,703.4v2.2M1628.7,703.4v2.2M1644.3,703.4v2.2M1658.1,703.4v2.2M1670.4,703.4v3.9M1751.4,703.4v2.2M1798.8,703.4v2.2M1832.4,703.4v2.2M1858.5,703.4v2.2M1879.8,703.4v2.2M1897.8,703.4v2.2M1913.4,703.4v2.2M1927.2,703.4v2.2M1939.5,703.4v3.9M2020.5,703.4v2.2M2067.9,703.4v2.2M2101.5,703.4v2.2M2127.6,703.4v2.2M2148.9,703.4v2.2M2166.9,703.4v2.2" stroke="#262626" stroke-width="1" fill="none"/>
<path d="M1589.8,25.3H2169.6V703.4H1589.8ZM1589.8,373.4H2169.6M1589.8,546.9H2169.6" stroke="#262626" stroke-width="1.1" fill="none"/>
<text x="1582.2" y="87.5" font-size="19" text-anchor="end" textLength="33.4" lengthAdjust="spacingAndGlyphs">−23</text>
<text x="1547.6" y="97.6" font-size="26.5" text-anchor="end" textLength="28.2" lengthAdjust="spacingAndGlyphs">10</text>
<text x="1582.2" y="189.3" font-size="19" text-anchor="end" textLength="33.4" lengthAdjust="spacingAndGlyphs">−26</text>
<text x="1547.6" y="199.4" font-size="26.5" text-anchor="end" textLength="28.2" lengthAdjust="spacingAndGlyphs">10</text>
<text x="1582.2" y="291" font-size="19" text-anchor="end" textLength="33.4" lengthAdjust="spacingAndGlyphs">−29</text>
<text x="1547.6" y="301.1" font-size="26.5" text-anchor="end" textLength="28.2" lengthAdjust="spacingAndGlyphs">10</text>
<text x="1582.2" y="595.3" font-size="19" text-anchor="end" textLength="33.4" lengthAdjust="spacingAndGlyphs">−14</text>
<text x="1547.6" y="605.4" font-size="26.5" text-anchor="end" textLength="28.2" lengthAdjust="spacingAndGlyphs">10</text>
<text x="1582.2" y="647.1" font-size="19" text-anchor="end" textLength="33.4" lengthAdjust="spacingAndGlyphs">−15</text>
<text x="1547.6" y="657.2" font-size="26.5" text-anchor="end" textLength="28.2" lengthAdjust="spacingAndGlyphs">10</text>
<text x="1582.2" y="698.9" font-size="19" text-anchor="end" textLength="33.4" lengthAdjust="spacingAndGlyphs">−16</text>
<text x="1547.6" y="709" font-size="26.5" text-anchor="end" textLength="28.2" lengthAdjust="spacingAndGlyphs">10</text>
<text x="1584" y="390.2" font-size="26.5" text-anchor="end">1</text>
<text x="1583.7" y="469" font-size="26.5" text-anchor="end" textLength="15.8" lengthAdjust="spacingAndGlyphs">0</text>
<text x="1583.8" y="547.8" font-size="26.5" text-anchor="end" textLength="36.5" lengthAdjust="spacingAndGlyphs">−1</text>
<text x="1651.2" y="731.3" font-size="26.5" textLength="28.2" lengthAdjust="spacingAndGlyphs">10</text>
<text x="1679.2" y="720.6" font-size="19">1</text>
<text x="1920.3" y="731.3" font-size="26.5" textLength="28.2" lengthAdjust="spacingAndGlyphs">10</text>
<text x="1948.3" y="720.6" font-size="19">2</text>
<text x="1842.7" y="764.2" font-size="31.5" textLength="10.6" lengthAdjust="spacingAndGlyphs" font-style="italic">f</text>
<text x="1864.5" y="764.2" font-size="31.5" textLength="53.6" lengthAdjust="spacingAndGlyphs">(Hz)</text>
<text x="1879.9" y="19.3" font-size="29.5" text-anchor="middle" textLength="194" lengthAdjust="spacingAndGlyphs" class="m">IMRPhenomXAS</text>
<g transform="translate(1509.9,262.8) rotate(-90)">
<text x="2" y="0" font-size="32.0" font-style="italic">A</text>
<text x="23.3" y="7.9" font-size="27.5">+</text>
<text x="44.3" y="0" font-size="31.5" textLength="39.5" lengthAdjust="spacingAndGlyphs">(Hz</text>
<text x="88.5" y="-12.1" font-size="22" textLength="15" lengthAdjust="spacingAndGlyphs">−</text>
<text x="102.6" y="-13" font-size="21.5">1</text>
<text x="114.6" y="0" font-size="31.5">)</text>
</g>
<g transform="translate(1535.2,508.7) rotate(-90)">
<text x="0" y="0" font-size="31.5" textLength="48" lengthAdjust="spacingAndGlyphs">cos(</text>
<text x="49.2" y="0" font-size="31.5" textLength="20.5" lengthAdjust="spacingAndGlyphs">Ψ</text>
<text x="70.6" y="6.9" font-size="27.5">+</text>
<text x="87.6" y="0" font-size="31.5">)</text>
</g>
<g transform="translate(1510.6,640.3) rotate(-90)">
<text x="0" y="0" font-size="31.5" textLength="33" lengthAdjust="spacingAndGlyphs">res</text>
</g>
<text x="76.9" y="830.7" font-size="31.5" textLength="40.5" lengthAdjust="spacingAndGlyphs">(a)</text>
<text x="129.4" y="830.7" font-size="31.5" textLength="173.9" lengthAdjust="spacingAndGlyphs">Parameters:</text>
<text x="319.6" y="830.7" font-size="31" stroke="#000" stroke-width=".7" font-family='"DejaVu Sans","DejaVu Serif",sans-serif' textLength="35.4" lengthAdjust="spacingAndGlyphs">ℳ</text>
<text x="358" y="835.9" font-size="22.5" textLength="12.3" lengthAdjust="spacingAndGlyphs" font-style="italic">c</text>
<text x="380.6" y="830.7" font-size="31.5" textLength="26.8" lengthAdjust="spacingAndGlyphs">=</text>
<text x="416.1" y="830.7" font-size="31.5" textLength="35.3" lengthAdjust="spacingAndGlyphs">44</text>
<text x="456.2" y="830.7" font-size="31.5" textLength="31.5" lengthAdjust="spacingAndGlyphs">M</text>
<text x="484.9" y="838.6" font-size="31" font-family='"DejaVu Serif","DejaVu Sans",serif' textLength="26.8" lengthAdjust="spacingAndGlyphs">⊙</text>
<text x="510.2" y="830.7" font-size="31.5">,</text>
<text x="536.7" y="830.7" font-size="31.5" textLength="15.5" lengthAdjust="spacingAndGlyphs" font-style="italic">η</text>
<text x="562.6" y="830.7" font-size="31.5" textLength="27.8" lengthAdjust="spacingAndGlyphs">=</text>
<text x="597.6" y="830.7" font-size="31.5" textLength="70" lengthAdjust="spacingAndGlyphs">0.24,</text>
<text x="132.3" y="881.8" font-size="31.5" textLength="16.2" lengthAdjust="spacingAndGlyphs" font-style="italic">d</text>
<text x="150.9" y="887.2" font-size="22.5" textLength="15.9" lengthAdjust="spacingAndGlyphs" font-style="italic">L</text>
<text x="178.6" y="881.8" font-size="31.5" textLength="28.3" lengthAdjust="spacingAndGlyphs">=</text>
<text x="214.4" y="881.8" font-size="31.5" textLength="60" lengthAdjust="spacingAndGlyphs">0.46</text>
<text x="279.8" y="881.8" font-size="31.5" textLength="69.2" lengthAdjust="spacingAndGlyphs">Gpc,</text>
<text x="368.6" y="881.8" font-size="31.5" textLength="16.3" lengthAdjust="spacingAndGlyphs" font-style="italic">χ</text>
<text x="387.7" y="887.2" font-size="22.5" textLength="12.6" lengthAdjust="spacingAndGlyphs">1</text>
<text x="411.6" y="881.8" font-size="31.5" textLength="27.8" lengthAdjust="spacingAndGlyphs">=</text>
<text x="446.6" y="881.8" font-size="31.5" textLength="51.4" lengthAdjust="spacingAndGlyphs">0.8,</text>
<text x="518.4" y="881.8" font-size="31.5" textLength="16.9" lengthAdjust="spacingAndGlyphs" font-style="italic">χ</text>
<text x="536.6" y="887.2" font-size="22.5" textLength="14.4" lengthAdjust="spacingAndGlyphs">2</text>
<text x="561.4" y="881.8" font-size="31.5" textLength="27.5" lengthAdjust="spacingAndGlyphs">=</text>
<text x="596.9" y="881.8" font-size="31.5" textLength="51.5" lengthAdjust="spacingAndGlyphs">0.8.</text>
<text x="817.5" y="830.4" font-size="31.5" textLength="43.2" lengthAdjust="spacingAndGlyphs">(b)</text>
<text x="872.2" y="830.4" font-size="31.5" textLength="173.1" lengthAdjust="spacingAndGlyphs">Parameters:</text>
<text x="1061.6" y="830.4" font-size="31" stroke="#000" stroke-width=".7" font-family='"DejaVu Sans","DejaVu Serif",sans-serif' textLength="38" lengthAdjust="spacingAndGlyphs">ℳ</text>
<text x="1101.7" y="835.6" font-size="22.5" textLength="11.6" lengthAdjust="spacingAndGlyphs" font-style="italic">c</text>
<text x="1123.6" y="830.4" font-size="31.5" textLength="28.6" lengthAdjust="spacingAndGlyphs">=</text>
<text x="1159" y="830.4" font-size="31.5" textLength="59.1" lengthAdjust="spacingAndGlyphs">3.85</text>
<text x="1222.9" y="830.4" font-size="31.5" textLength="31.7" lengthAdjust="spacingAndGlyphs">M</text>
<text x="1251.9" y="838.2" font-size="31" font-family='"DejaVu Serif","DejaVu Sans",serif' textLength="26.8" lengthAdjust="spacingAndGlyphs">⊙</text>
<text x="1279.1" y="830.4" font-size="31.5">,</text>
<text x="1305.2" y="830.4" font-size="31.5" textLength="16.7" lengthAdjust="spacingAndGlyphs" font-style="italic">η</text>
<text x="1332" y="830.4" font-size="31.5" textLength="28.5" lengthAdjust="spacingAndGlyphs">=</text>
<text x="1367.3" y="830.4" font-size="31.5" textLength="69.7" lengthAdjust="spacingAndGlyphs">0.08,</text>
<text x="874.5" y="880.6" font-size="31.5" textLength="16.1" lengthAdjust="spacingAndGlyphs" font-style="italic">d</text>
<text x="892.8" y="886" font-size="22.5" textLength="15.2" lengthAdjust="spacingAndGlyphs" font-style="italic">L</text>
<text x="919.3" y="880.6" font-size="31.5" textLength="28.5" lengthAdjust="spacingAndGlyphs">=</text>
<text x="955.2" y="880.6" font-size="31.5" textLength="60.6" lengthAdjust="spacingAndGlyphs">0.46</text>
<text x="1022.1" y="880.6" font-size="31.5" textLength="67.6" lengthAdjust="spacingAndGlyphs">Gpc,</text>
<text x="1109" y="880.6" font-size="31.5" textLength="16.9" lengthAdjust="spacingAndGlyphs" font-style="italic">χ</text>
<text x="1127.7" y="886" font-size="22.5" textLength="12.6" lengthAdjust="spacingAndGlyphs">1</text>
<text x="1151.9" y="880.6" font-size="31.5" textLength="28.5" lengthAdjust="spacingAndGlyphs">=</text>
<text x="1187.9" y="880.6" font-size="31.5" textLength="51.5" lengthAdjust="spacingAndGlyphs">0.3,</text>
<text x="1259.5" y="880.6" font-size="31.5" textLength="16.9" lengthAdjust="spacingAndGlyphs" font-style="italic">χ</text>
<text x="1277.7" y="886" font-size="22.5" textLength="13.9" lengthAdjust="spacingAndGlyphs">2</text>
<text x="1302.5" y="880.6" font-size="31.5" textLength="28.5" lengthAdjust="spacingAndGlyphs">=</text>
<text x="1336.9" y="880.6" font-size="31.5" textLength="27.2" lengthAdjust="spacingAndGlyphs">0,</text>
<text x="874.5" y="930.6" font-size="31.5" textLength="21.3" lengthAdjust="spacingAndGlyphs">Λ</text>
<text x="896.6" y="936" font-size="22.5" textLength="12.7" lengthAdjust="spacingAndGlyphs">1</text>
<text x="919.3" y="930.6" font-size="31.5" textLength="28.5" lengthAdjust="spacingAndGlyphs">=</text>
<text x="955.2" y="930.6" font-size="31.5" textLength="27.2" lengthAdjust="spacingAndGlyphs">0,</text>
<text x="1000.1" y="930.6" font-size="31.5" textLength="21.3" lengthAdjust="spacingAndGlyphs">Λ</text>
<text x="1022.2" y="936" font-size="22.5" textLength="14.8" lengthAdjust="spacingAndGlyphs">2</text>
<text x="1046.4" y="930.6" font-size="31.5" textLength="28.2" lengthAdjust="spacingAndGlyphs">=</text>
<text x="1082.4" y="930.6" font-size="31.5" textLength="58.1" lengthAdjust="spacingAndGlyphs">400.</text>
<text x="1558.9" y="830.8" font-size="31.5" textLength="39.1" lengthAdjust="spacingAndGlyphs">(c)</text>
<text x="1609.7" y="830.8" font-size="31.5" textLength="173.3" lengthAdjust="spacingAndGlyphs">Parameters:</text>
<text x="1799.3" y="830.8" font-size="31" stroke="#000" stroke-width=".7" font-family='"DejaVu Sans","DejaVu Serif",sans-serif' textLength="35.4" lengthAdjust="spacingAndGlyphs">ℳ</text>
<text x="1839.1" y="836" font-size="22.5" textLength="12.2" lengthAdjust="spacingAndGlyphs" font-style="italic">c</text>
<text x="1861.4" y="830.8" font-size="31.5" textLength="28" lengthAdjust="spacingAndGlyphs">=</text>
<text x="1897.2" y="830.8" font-size="31.5" textLength="33.3" lengthAdjust="spacingAndGlyphs">36</text>
<text x="1936.4" y="830.8" font-size="31.5" textLength="30.4" lengthAdjust="spacingAndGlyphs">M</text>
<text x="1964" y="838.6" font-size="31" font-family='"DejaVu Serif","DejaVu Sans",serif' textLength="26.8" lengthAdjust="spacingAndGlyphs">⊙</text>
<text x="1992.2" y="830.8" font-size="31.5">,</text>
<text x="2016.4" y="830.8" font-size="31.5" textLength="17" lengthAdjust="spacingAndGlyphs" font-style="italic">η</text>
<text x="2042.8" y="830.8" font-size="31.5" textLength="27.5" lengthAdjust="spacingAndGlyphs">=</text>
<text x="2078.7" y="830.8" font-size="31.5" textLength="69.6" lengthAdjust="spacingAndGlyphs">0.24,</text>
<text x="1615.5" y="881.7" font-size="31.5" textLength="16.8" lengthAdjust="spacingAndGlyphs" font-style="italic">d</text>
<text x="1633.5" y="887.1" font-size="22.5" textLength="16.3" lengthAdjust="spacingAndGlyphs" font-style="italic">L</text>
<text x="1661" y="881.7" font-size="31.5" textLength="28" lengthAdjust="spacingAndGlyphs">=</text>
<text x="1696.8" y="881.7" font-size="31.5" textLength="60.1" lengthAdjust="spacingAndGlyphs">0.98</text>
<text x="1762.2" y="881.7" font-size="31.5" textLength="69.6" lengthAdjust="spacingAndGlyphs">Gpc,</text>
<text x="1851" y="881.7" font-size="31.5" textLength="16.9" lengthAdjust="spacingAndGlyphs" font-style="italic">χ</text>
<text x="1869.7" y="887.1" font-size="22.5" textLength="12.8" lengthAdjust="spacingAndGlyphs">1</text>
<text x="1893.3" y="881.7" font-size="31.5" textLength="28" lengthAdjust="spacingAndGlyphs">=</text>
<text x="1929.1" y="881.7" font-size="31.5" textLength="52.2" lengthAdjust="spacingAndGlyphs">0.8,</text>
<text x="2001.2" y="881.7" font-size="31.5" textLength="16.8" lengthAdjust="spacingAndGlyphs" font-style="italic">χ</text>
<text x="2019.3" y="887.1" font-size="22.5" textLength="14.2" lengthAdjust="spacingAndGlyphs">2</text>
<text x="2042.8" y="881.7" font-size="31.5" textLength="28.1" lengthAdjust="spacingAndGlyphs">=</text>
<text x="2080.1" y="881.7" font-size="31.5" textLength="76.3" lengthAdjust="spacingAndGlyphs">−0.8.</text>
</svg>
</body></html>
